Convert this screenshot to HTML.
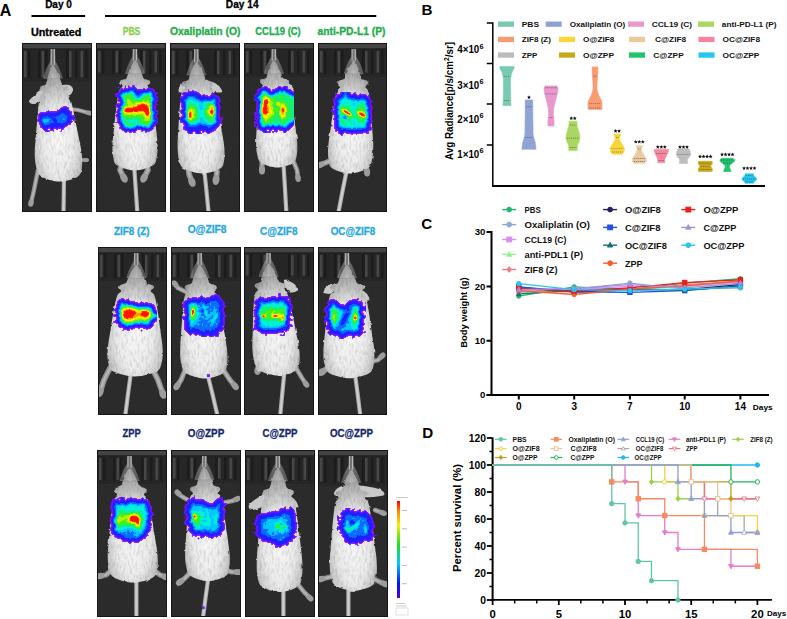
<!DOCTYPE html>
<html><head><meta charset="utf-8"><title>Figure</title>
<style>html,body{margin:0;padding:0;background:#fff;width:787px;height:619px;overflow:hidden}svg{display:block}text{font-family:"Liberation Sans",sans-serif}</style>
</head><body>
<svg width="787" height="619" viewBox="0 0 787 619" font-family='"Liberation Sans", sans-serif'>
<defs>
<filter id="soft" x="-10%" y="-10%" width="120%" height="120%"><feGaussianBlur stdDeviation="0.6"/></filter>
<filter id="hblur" x="-10%" y="-10%" width="120%" height="120%"><feGaussianBlur stdDeviation="0.45"/></filter>
<filter id="furf" x="0" y="0" width="100%" height="100%">
  <feTurbulence type="fractalNoise" baseFrequency="0.5 0.16" numOctaves="2" seed="7" result="n"/>
  <feGaussianBlur in="n" stdDeviation="0.4" result="nb"/>
  <feColorMatrix in="nb" type="matrix" values="0 0 0 0 0  0 0 0 0 0  0 0 0 0 0  2.2 0 0 0 -0.95" result="a"/>
  <feComposite in="a" in2="SourceAlpha" operator="in"/>
</filter>
<filter id="bgn" x="0" y="0" width="100%" height="100%">
  <feTurbulence type="fractalNoise" baseFrequency="0.9" numOctaves="1" seed="11" result="n"/>
  <feColorMatrix in="n" type="matrix" values="0 0 0 0 0  0 0 0 0 0  0 0 0 0 0  0.5 0 0 0 -0.2"/>
</filter>
<filter id="bodyf" x="-8%" y="-5%" width="116%" height="110%">
  <feTurbulence type="fractalNoise" baseFrequency="0.18" numOctaves="2" seed="3" result="t"/>
  <feDisplacementMap in="SourceGraphic" in2="t" scale="2.6" xChannelSelector="R" yChannelSelector="G" result="d"/>
  <feGaussianBlur in="d" stdDeviation="0.5"/>
</filter>
<radialGradient id="bodyg" cx="50%" cy="62%" r="60%">
  <stop offset="0" stop-color="#f8f8f8"/><stop offset="0.55" stop-color="#ebebeb"/><stop offset="0.85" stop-color="#c8c8c8"/><stop offset="1" stop-color="#9a9a9a"/>
</radialGradient>
<linearGradient id="bodyv" x1="0" y1="0" x2="0" y2="1">
  <stop offset="0" stop-color="#606060" stop-opacity="0.45"/><stop offset="0.3" stop-color="#808080" stop-opacity="0.15"/><stop offset="0.5" stop-color="#fff" stop-opacity="0"/><stop offset="1" stop-color="#fff" stop-opacity="0"/>
</linearGradient>
<linearGradient id="coneg" x1="0" y1="0" x2="1" y2="0">
  <stop offset="0" stop-color="#8c8c8c"/><stop offset="0.3" stop-color="#b4b4b4"/><stop offset="0.5" stop-color="#d2d2d2"/><stop offset="0.7" stop-color="#b4b4b4"/><stop offset="1" stop-color="#8c8c8c"/>
</linearGradient>
<linearGradient id="cbar" x1="0" y1="1" x2="0" y2="0">
<stop offset="0" stop-color="#4b00d8"/><stop offset="0.15" stop-color="#0010ff"/><stop offset="0.35" stop-color="#00c8ff"/>
<stop offset="0.55" stop-color="#20e020"/><stop offset="0.75" stop-color="#f0f000"/><stop offset="0.9" stop-color="#ff8000"/><stop offset="1" stop-color="#ff0000"/></linearGradient></defs>
<rect width="787" height="619" fill="#fff"/>
<text x="5.40" y="15.96" font-size="16" fill="#000" text-anchor="middle" font-weight="bold" >A</text>
<text x="58.50" y="8.40" font-size="10" fill="#000" text-anchor="middle" font-weight="bold" textLength="26.7" lengthAdjust="spacingAndGlyphs"  stroke="#000" stroke-width="0.3">Day 0</text>
<line x1="31.5" y1="16" x2="85.1" y2="16" stroke="#000" stroke-width="2" />
<text x="242.20" y="8.40" font-size="10" fill="#000" text-anchor="middle" font-weight="bold" textLength="32.7" lengthAdjust="spacingAndGlyphs"  stroke="#000" stroke-width="0.3">Day 14</text>
<line x1="105" y1="16" x2="376.3" y2="16" stroke="#000" stroke-width="2" />
<text x="56.20" y="35.68" font-size="10.5" fill="#000" text-anchor="middle" font-weight="bold" textLength="50.5" lengthAdjust="spacingAndGlyphs"  stroke="#000" stroke-width="0.3">Untreated</text>
<text x="131.50" y="34.90" font-size="10" fill="#8ccf4f" text-anchor="middle" font-weight="bold" textLength="17.7" lengthAdjust="spacingAndGlyphs"  stroke="#8ccf4f" stroke-width="0.3">PBS</text>
<text x="205.20" y="34.90" font-size="10" fill="#22ad4c" text-anchor="middle" font-weight="bold" textLength="70.5" lengthAdjust="spacingAndGlyphs"  stroke="#22ad4c" stroke-width="0.3">Oxaliplatin (O)</text>
<text x="278.00" y="34.90" font-size="10" fill="#22ad4c" text-anchor="middle" font-weight="bold" textLength="45.3" lengthAdjust="spacingAndGlyphs"  stroke="#22ad4c" stroke-width="0.3">CCL19 (C)</text>
<text x="351.50" y="34.90" font-size="10" fill="#22ad4c" text-anchor="middle" font-weight="bold" textLength="67.8" lengthAdjust="spacingAndGlyphs"  stroke="#22ad4c" stroke-width="0.3">anti-PD-L1 (P)</text>
<text x="131.80" y="235.10" font-size="10" fill="#2aa8e2" text-anchor="middle" font-weight="bold" textLength="35.5" lengthAdjust="spacingAndGlyphs"  stroke="#2aa8e2" stroke-width="0.3">ZIF8 (Z)</text>
<text x="207.10" y="232.90" font-size="10" fill="#2aa8e2" text-anchor="middle" font-weight="bold" textLength="38.9" lengthAdjust="spacingAndGlyphs"  stroke="#2aa8e2" stroke-width="0.3">O@ZIF8</text>
<text x="278.80" y="234.60" font-size="10" fill="#2aa8e2" text-anchor="middle" font-weight="bold" textLength="37.4" lengthAdjust="spacingAndGlyphs"  stroke="#2aa8e2" stroke-width="0.3">C@ZIF8</text>
<text x="353.00" y="234.60" font-size="10" fill="#2aa8e2" text-anchor="middle" font-weight="bold" textLength="44.6" lengthAdjust="spacingAndGlyphs"  stroke="#2aa8e2" stroke-width="0.3">OC@ZIF8</text>
<text x="131.60" y="436.92" font-size="10.6" fill="#14286e" text-anchor="middle" font-weight="bold" textLength="18.2" lengthAdjust="spacingAndGlyphs"  stroke="#14286e" stroke-width="0.3">ZPP</text>
<text x="206.00" y="436.92" font-size="10.6" fill="#14286e" text-anchor="middle" font-weight="bold" textLength="36.5" lengthAdjust="spacingAndGlyphs"  stroke="#14286e" stroke-width="0.3">O@ZPP</text>
<text x="280.00" y="436.92" font-size="10.6" fill="#14286e" text-anchor="middle" font-weight="bold" textLength="35" lengthAdjust="spacingAndGlyphs"  stroke="#14286e" stroke-width="0.3">C@ZPP</text>
<text x="351.50" y="436.92" font-size="10.6" fill="#14286e" text-anchor="middle" font-weight="bold" textLength="43" lengthAdjust="spacingAndGlyphs"  stroke="#14286e" stroke-width="0.3">OC@ZPP</text>
<clipPath id="c22_43"><rect x="22" y="43" width="70" height="169"/></clipPath>
<g clip-path="url(#c22_43)">
<rect x="22" y="43" width="70" height="169" fill="#2d2d2d"/>
<rect x="22" y="43" width="70" height="169" fill="#000" filter="url(#bgn)" opacity="0.6"/>
<rect x="22" y="43" width="70" height="38.3" fill="#262626"/>
<rect x="22" y="44" width="70" height="4.5" fill="#444444"/>
<rect x="22" y="48.5" width="70" height="1" fill="#1e1e1e"/>
<g filter="url(#soft)"><rect x="24" y="51" width="2.6" height="26.299999999999997" fill="#474747"/><rect x="41.5" y="51" width="2.6" height="26.299999999999997" fill="#474747"/><rect x="69" y="51" width="2.6" height="26.299999999999997" fill="#474747"/><rect x="80.5" y="51" width="2.6" height="26.299999999999997" fill="#474747"/><rect x="28" y="50" width="2.4" height="28.299999999999997" fill="#1a1a1a"/><rect x="38" y="50" width="2.4" height="28.299999999999997" fill="#1a1a1a"/><rect x="45" y="50" width="2.4" height="28.299999999999997" fill="#1a1a1a"/><rect x="66" y="50" width="2.4" height="28.299999999999997" fill="#1a1a1a"/><rect x="75" y="50" width="2.4" height="28.299999999999997" fill="#1a1a1a"/><rect x="85" y="50" width="2.4" height="28.299999999999997" fill="#1a1a1a"/></g>
<path d="M62.0,108.0 L78.0,110.0 L89.0,113.0" fill="none" stroke="#8e8e8e" stroke-width="4.02" stroke-linecap="round" stroke-linejoin="round"/>
<path d="M62.0,108.0 L78.0,110.0 L89.0,113.0" fill="none" stroke="#b4b4b4" stroke-width="1.93" stroke-linecap="round" stroke-linejoin="round"/>
<ellipse cx="89.0" cy="113.0" rx="3.5" ry="2.4" fill="#9c9c9c" transform="rotate(15 89.0 113.0)"/>
<path d="M38.0,170.0 L34.0,190.0 L31.0,203.0" fill="none" stroke="#8e8e8e" stroke-width="4.37" stroke-linecap="round" stroke-linejoin="round"/>
<path d="M38.0,170.0 L34.0,190.0 L31.0,203.0" fill="none" stroke="#b4b4b4" stroke-width="2.09" stroke-linecap="round" stroke-linejoin="round"/>
<ellipse cx="31.0" cy="203.0" rx="3.8" ry="2.7" fill="#9c9c9c" transform="rotate(103 31.0 203.0)"/>
<path d="M78.0,160.0 L86.0,160.0" fill="none" stroke="#8e8e8e" stroke-width="3.45" stroke-linecap="round" stroke-linejoin="round"/>
<path d="M78.0,160.0 L86.0,160.0" fill="none" stroke="#b4b4b4" stroke-width="1.65" stroke-linecap="round" stroke-linejoin="round"/>
<ellipse cx="86.0" cy="160.0" rx="3.0" ry="2.1" fill="#9c9c9c" transform="rotate(0 86.0 160.0)"/>
<path d="M64.0,178.0 Q63.8,195.0 63.5,215.0" fill="none" stroke="#a8a8a8" stroke-width="4.2" stroke-linecap="round"/>
<path d="M64.0,178.0 Q63.8,195.0 63.5,215.0" fill="none" stroke="#cdcdcd" stroke-width="2.2" stroke-linecap="round"/>
<path d="M42.0,90.0 C40.2,89.8 36.2,94.2 34.0,96.0 C31.8,97.8 29.2,99.7 29.0,101.0 C28.8,102.3 31.2,104.0 33.0,104.0 C34.8,104.0 38.0,102.2 40.0,101.0 C42.0,99.8 44.7,98.8 45.0,97.0 C45.3,95.2 43.8,90.2 42.0,90.0 Z" fill="#c8c8c8" filter="url(#bodyf)"/>
<path d="M62.0,86.0 C62.8,84.5 67.2,84.5 69.0,85.0 C70.8,85.5 72.8,87.3 73.0,89.0 C73.2,90.7 71.5,94.2 70.0,95.0 C68.5,95.8 65.3,95.5 64.0,94.0 C62.7,92.5 61.2,87.5 62.0,86.0 Z" fill="#c8c8c8" filter="url(#bodyf)"/>
<g filter="url(#bodyf)"><path d="M52.9,65.3 C53.6,65.3 54.5,67.2 55.3,68.8 C56.2,70.3 57.4,72.6 58.2,74.6 C59.1,76.5 59.8,78.7 60.5,80.3 C61.2,82.0 61.2,83.4 62.3,84.4 C63.4,85.4 66.1,85.4 67.1,86.1 C68.1,86.9 68.7,88.0 68.6,89.0 C68.4,90.1 66.1,91.0 66.3,92.5 C66.5,93.9 68.7,94.1 70.0,97.7 C71.3,101.3 72.6,107.7 74.0,113.9 C75.3,120.1 76.9,128.2 78.2,134.7 C79.5,141.3 81.1,147.8 81.7,153.2 C82.3,158.6 82.5,163.3 81.9,167.1 C81.2,171.0 81.6,174.0 78.0,176.4 C74.3,178.8 66.0,181.5 59.9,181.5 C53.8,181.5 45.2,178.8 41.3,176.4 C37.4,174.0 37.4,171.0 36.3,167.1 C35.2,163.3 34.8,158.6 34.7,153.2 C34.7,147.8 35.5,141.3 36.0,134.7 C36.5,128.2 37.1,120.1 37.7,113.9 C38.3,107.7 38.9,101.3 39.7,97.7 C40.6,94.1 42.7,93.9 42.8,92.5 C42.8,91.0 40.4,90.1 40.1,89.0 C39.8,88.0 40.3,86.9 41.2,86.1 C42.2,85.4 44.8,85.4 45.8,84.4 C46.8,83.4 46.6,82.0 47.1,80.3 C47.6,78.7 48.1,76.5 48.7,74.6 C49.3,72.6 50.2,70.3 50.9,68.8 C51.6,67.2 52.2,65.3 52.9,65.3 Z" fill="url(#bodyg)"/><path d="M52.9,65.3 C53.6,65.3 54.5,67.2 55.3,68.8 C56.2,70.3 57.4,72.6 58.2,74.6 C59.1,76.5 59.8,78.7 60.5,80.3 C61.2,82.0 61.2,83.4 62.3,84.4 C63.4,85.4 66.1,85.4 67.1,86.1 C68.1,86.9 68.7,88.0 68.6,89.0 C68.4,90.1 66.1,91.0 66.3,92.5 C66.5,93.9 68.7,94.1 70.0,97.7 C71.3,101.3 72.6,107.7 74.0,113.9 C75.3,120.1 76.9,128.2 78.2,134.7 C79.5,141.3 81.1,147.8 81.7,153.2 C82.3,158.6 82.5,163.3 81.9,167.1 C81.2,171.0 81.6,174.0 78.0,176.4 C74.3,178.8 66.0,181.5 59.9,181.5 C53.8,181.5 45.2,178.8 41.3,176.4 C37.4,174.0 37.4,171.0 36.3,167.1 C35.2,163.3 34.8,158.6 34.7,153.2 C34.7,147.8 35.5,141.3 36.0,134.7 C36.5,128.2 37.1,120.1 37.7,113.9 C38.3,107.7 38.9,101.3 39.7,97.7 C40.6,94.1 42.7,93.9 42.8,92.5 C42.8,91.0 40.4,90.1 40.1,89.0 C39.8,88.0 40.3,86.9 41.2,86.1 C42.2,85.4 44.8,85.4 45.8,84.4 C46.8,83.4 46.6,82.0 47.1,80.3 C47.6,78.7 48.1,76.5 48.7,74.6 C49.3,72.6 50.2,70.3 50.9,68.8 C51.6,67.2 52.2,65.3 52.9,65.3 Z" fill="url(#bodyv)"/></g>
<path d="M52.9,65.3 C53.6,65.3 54.5,67.2 55.3,68.8 C56.2,70.3 57.4,72.6 58.2,74.6 C59.1,76.5 59.8,78.7 60.5,80.3 C61.2,82.0 61.2,83.4 62.3,84.4 C63.4,85.4 66.1,85.4 67.1,86.1 C68.1,86.9 68.7,88.0 68.6,89.0 C68.4,90.1 66.1,91.0 66.3,92.5 C66.5,93.9 68.7,94.1 70.0,97.7 C71.3,101.3 72.6,107.7 74.0,113.9 C75.3,120.1 76.9,128.2 78.2,134.7 C79.5,141.3 81.1,147.8 81.7,153.2 C82.3,158.6 82.5,163.3 81.9,167.1 C81.2,171.0 81.6,174.0 78.0,176.4 C74.3,178.8 66.0,181.5 59.9,181.5 C53.8,181.5 45.2,178.8 41.3,176.4 C37.4,174.0 37.4,171.0 36.3,167.1 C35.2,163.3 34.8,158.6 34.7,153.2 C34.7,147.8 35.5,141.3 36.0,134.7 C36.5,128.2 37.1,120.1 37.7,113.9 C38.3,107.7 38.9,101.3 39.7,97.7 C40.6,94.1 42.7,93.9 42.8,92.5 C42.8,91.0 40.4,90.1 40.1,89.0 C39.8,88.0 40.3,86.9 41.2,86.1 C42.2,85.4 44.8,85.4 45.8,84.4 C46.8,83.4 46.6,82.0 47.1,80.3 C47.6,78.7 48.1,76.5 48.7,74.6 C49.3,72.6 50.2,70.3 50.9,68.8 C51.6,67.2 52.2,65.3 52.9,65.3 Z" fill="#000" filter="url(#furf)" opacity="0.13"/>
<path d="M50.7,49 L55.1,49 L55.5,61.3 C57.9,65.3 61.4,72.3 62.9,78.3 Q52.9,79.8 42.9,78.3 C44.4,72.3 47.9,65.3 50.3,61.3 Z" fill="url(#coneg)" opacity="0.45"/>
<rect x="50.7" y="49" width="1.1" height="16.3" fill="#bdbdbd" opacity="0.85"/>
<rect x="53.8" y="49" width="1.1" height="16.3" fill="#c8c8c8" opacity="0.85"/>
<path d="M43.4,77.8 Q52.9,79.8 62.4,77.8" fill="none" stroke="#8a8a8a" stroke-width="0.7" opacity="0.7"/>
<g filter="url(#hblur)"><path d="M63.5,106.5 62.5,107.5 61.5,107.5 58.5,110.5 57.5,109.5 57.5,110.5 56.5,111.5 49.5,111.5 48.5,110.5 47.5,111.5 46.5,111.5 45.5,112.5 40.5,112.5 38.5,114.5 38.5,118.5 37.5,119.5 37.5,121.5 38.5,121.5 39.5,122.5 39.5,124.5 40.5,125.5 40.5,127.5 41.5,127.5 45.5,131.5 49.5,131.5 50.5,130.5 52.5,130.5 53.5,131.5 53.5,129.5 54.5,128.5 55.5,128.5 56.5,129.5 57.5,129.5 58.5,128.5 60.5,128.5 61.5,129.5 61.5,130.5 60.5,131.5 61.5,131.5 61.5,130.5 62.5,129.5 63.5,129.5 63.5,128.5 65.5,126.5 66.5,126.5 68.5,124.5 70.5,124.5 70.5,123.5 73.5,120.5 74.5,120.5 74.5,115.5 72.5,115.5 71.5,114.5 71.5,111.5 70.5,111.5 68.5,109.5 68.5,107.5 67.5,107.5 66.5,106.5zM47.5,129.5 48.5,128.5 49.5,128.5 50.5,129.5 49.5,130.5 48.5,130.5zM71.5,120.5 72.5,119.5 73.5,120.5 72.5,121.5z" fill="#7410ff" stroke="#7410ff" stroke-width="0.8" stroke-linejoin="round" fill-rule="evenodd"/><path d="M63.5,108.5 62.5,109.5 61.5,109.5 58.5,112.5 57.5,112.5 56.5,113.5 49.5,113.5 48.5,112.5 47.5,113.5 46.5,113.5 45.5,114.5 40.5,114.5 40.5,118.5 39.5,119.5 39.5,120.5 41.5,122.5 41.5,124.5 42.5,125.5 42.5,126.5 47.5,131.5 45.5,129.5 48.5,126.5 49.5,126.5 51.5,128.5 52.5,128.5 54.5,126.5 55.5,126.5 56.5,127.5 57.5,127.5 58.5,126.5 60.5,126.5 61.5,127.5 62.5,127.5 65.5,124.5 66.5,124.5 68.5,122.5 69.5,122.5 70.5,121.5 69.5,120.5 72.5,117.5 73.5,118.5 74.5,118.5 74.5,117.5 72.5,117.5 69.5,114.5 69.5,112.5 66.5,109.5 66.5,108.5z" fill="#1c22ff" stroke="#1c22ff" stroke-width="0.8" stroke-linejoin="round" fill-rule="evenodd"/><path d="M46.5,116.5 45.5,117.5 43.5,117.5 41.5,119.5 41.5,120.5 42.5,121.5 42.5,122.5 45.5,125.5 46.5,124.5 48.5,124.5 49.5,123.5 50.5,123.5 51.5,122.5 53.5,122.5 53.5,121.5 51.5,119.5 51.5,118.5 50.5,118.5 49.5,117.5 48.5,117.5 47.5,116.5zM61.5,113.5 59.5,115.5 58.5,115.5 57.5,116.5 56.5,116.5 55.5,117.5 53.5,117.5 52.5,116.5 53.5,117.5 55.5,117.5 56.5,118.5 56.5,119.5 57.5,120.5 57.5,122.5 60.5,122.5 61.5,123.5 62.5,123.5 63.5,122.5 64.5,122.5 66.5,120.5 66.5,118.5 67.5,117.5 66.5,116.5 66.5,115.5 65.5,115.5 63.5,113.5z" fill="#0a6cff" stroke="#0a6cff" stroke-width="0.8" stroke-linejoin="round" fill-rule="evenodd"/><path d="M43.5,119.5 43.5,121.5 44.5,122.5 46.5,122.5 47.5,121.5 48.5,121.5 48.5,120.5 49.5,119.5zM63.5,118.5 63.5,119.5 64.5,119.5z" fill="#00c8ff" stroke="#00c8ff" stroke-width="0.8" stroke-linejoin="round" fill-rule="evenodd"/></g>
<rect x="22.5" y="43.5" width="69" height="168" fill="none" stroke="#151515" stroke-width="1"/>
</g>
<clipPath id="c96_43"><rect x="96" y="43" width="70" height="169"/></clipPath>
<g clip-path="url(#c96_43)">
<rect x="96" y="43" width="70" height="169" fill="#2d2d2d"/>
<rect x="96" y="43" width="70" height="169" fill="#000" filter="url(#bgn)" opacity="0.6"/>
<rect x="96" y="43" width="70" height="33.599999999999994" fill="#262626"/>
<rect x="96" y="44" width="70" height="4.5" fill="#444444"/>
<rect x="96" y="48.5" width="70" height="1" fill="#1e1e1e"/>
<g filter="url(#soft)"><rect x="98" y="51" width="2.6" height="21.599999999999994" fill="#474747"/><rect x="115.5" y="51" width="2.6" height="21.599999999999994" fill="#474747"/><rect x="143" y="51" width="2.6" height="21.599999999999994" fill="#474747"/><rect x="154.5" y="51" width="2.6" height="21.599999999999994" fill="#474747"/><rect x="102" y="50" width="2.4" height="23.599999999999994" fill="#1a1a1a"/><rect x="112" y="50" width="2.4" height="23.599999999999994" fill="#1a1a1a"/><rect x="119" y="50" width="2.4" height="23.599999999999994" fill="#1a1a1a"/><rect x="140" y="50" width="2.4" height="23.599999999999994" fill="#1a1a1a"/><rect x="149" y="50" width="2.4" height="23.599999999999994" fill="#1a1a1a"/><rect x="159" y="50" width="2.4" height="23.599999999999994" fill="#1a1a1a"/></g>
<path d="M123.0,160.0 L120.0,170.0 L124.0,178.0" fill="none" stroke="#8e8e8e" stroke-width="5.75" stroke-linecap="round" stroke-linejoin="round"/>
<path d="M123.0,160.0 L120.0,170.0 L124.0,178.0" fill="none" stroke="#b4b4b4" stroke-width="2.75" stroke-linecap="round" stroke-linejoin="round"/>
<ellipse cx="124.0" cy="178.0" rx="5.0" ry="3.5" fill="#9c9c9c" transform="rotate(63 124.0 178.0)"/>
<path d="M146.0,160.0 L148.0,170.0 L144.0,178.0" fill="none" stroke="#8e8e8e" stroke-width="5.75" stroke-linecap="round" stroke-linejoin="round"/>
<path d="M146.0,160.0 L148.0,170.0 L144.0,178.0" fill="none" stroke="#b4b4b4" stroke-width="2.75" stroke-linecap="round" stroke-linejoin="round"/>
<ellipse cx="144.0" cy="178.0" rx="5.0" ry="3.5" fill="#9c9c9c" transform="rotate(117 144.0 178.0)"/>
<path d="M134.3,168.0 Q135.9,190.0 137.5,215.0" fill="none" stroke="#a8a8a8" stroke-width="4.2" stroke-linecap="round"/>
<path d="M134.3,168.0 Q135.9,190.0 137.5,215.0" fill="none" stroke="#cdcdcd" stroke-width="2.2" stroke-linecap="round"/>
<g filter="url(#bodyf)"><path d="M135.0,60.6 C135.8,60.6 136.6,62.4 137.5,63.9 C138.4,65.3 139.5,67.5 140.3,69.4 C141.1,71.2 141.7,73.3 142.3,74.8 C142.9,76.4 142.8,77.7 143.9,78.7 C145.1,79.6 147.9,79.6 149.0,80.3 C150.0,81.0 150.5,82.0 150.2,83.0 C150.0,84.0 147.4,84.9 147.5,86.3 C147.6,87.7 149.9,87.9 150.9,91.2 C151.9,94.6 152.7,100.7 153.5,106.5 C154.3,112.4 155.1,120.0 155.7,126.2 C156.4,132.4 157.3,138.6 157.5,143.7 C157.7,148.8 157.6,153.2 156.8,156.9 C156.0,160.5 156.2,163.4 152.6,165.6 C148.9,167.9 140.8,170.5 135.0,170.5 C129.2,170.5 121.1,167.9 117.5,165.6 C113.8,163.4 114.0,160.5 113.2,156.9 C112.3,153.2 112.3,148.8 112.5,143.7 C112.7,138.6 113.6,132.4 114.3,126.2 C114.9,120.0 115.7,112.4 116.5,106.5 C117.3,100.7 118.1,94.6 119.1,91.2 C120.1,87.9 122.4,87.7 122.5,86.3 C122.6,84.9 120.0,84.0 119.8,83.0 C119.5,82.0 120.0,81.0 121.0,80.3 C122.1,79.6 124.9,79.6 126.1,78.7 C127.2,77.7 127.1,76.4 127.7,74.8 C128.3,73.3 128.9,71.2 129.7,69.4 C130.5,67.5 131.6,65.3 132.5,63.9 C133.4,62.4 134.2,60.6 135.0,60.6 Z" fill="url(#bodyg)"/><path d="M135.0,60.6 C135.8,60.6 136.6,62.4 137.5,63.9 C138.4,65.3 139.5,67.5 140.3,69.4 C141.1,71.2 141.7,73.3 142.3,74.8 C142.9,76.4 142.8,77.7 143.9,78.7 C145.1,79.6 147.9,79.6 149.0,80.3 C150.0,81.0 150.5,82.0 150.2,83.0 C150.0,84.0 147.4,84.9 147.5,86.3 C147.6,87.7 149.9,87.9 150.9,91.2 C151.9,94.6 152.7,100.7 153.5,106.5 C154.3,112.4 155.1,120.0 155.7,126.2 C156.4,132.4 157.3,138.6 157.5,143.7 C157.7,148.8 157.6,153.2 156.8,156.9 C156.0,160.5 156.2,163.4 152.6,165.6 C148.9,167.9 140.8,170.5 135.0,170.5 C129.2,170.5 121.1,167.9 117.5,165.6 C113.8,163.4 114.0,160.5 113.2,156.9 C112.3,153.2 112.3,148.8 112.5,143.7 C112.7,138.6 113.6,132.4 114.3,126.2 C114.9,120.0 115.7,112.4 116.5,106.5 C117.3,100.7 118.1,94.6 119.1,91.2 C120.1,87.9 122.4,87.7 122.5,86.3 C122.6,84.9 120.0,84.0 119.8,83.0 C119.5,82.0 120.0,81.0 121.0,80.3 C122.1,79.6 124.9,79.6 126.1,78.7 C127.2,77.7 127.1,76.4 127.7,74.8 C128.3,73.3 128.9,71.2 129.7,69.4 C130.5,67.5 131.6,65.3 132.5,63.9 C133.4,62.4 134.2,60.6 135.0,60.6 Z" fill="url(#bodyv)"/></g>
<path d="M135.0,60.6 C135.8,60.6 136.6,62.4 137.5,63.9 C138.4,65.3 139.5,67.5 140.3,69.4 C141.1,71.2 141.7,73.3 142.3,74.8 C142.9,76.4 142.8,77.7 143.9,78.7 C145.1,79.6 147.9,79.6 149.0,80.3 C150.0,81.0 150.5,82.0 150.2,83.0 C150.0,84.0 147.4,84.9 147.5,86.3 C147.6,87.7 149.9,87.9 150.9,91.2 C151.9,94.6 152.7,100.7 153.5,106.5 C154.3,112.4 155.1,120.0 155.7,126.2 C156.4,132.4 157.3,138.6 157.5,143.7 C157.7,148.8 157.6,153.2 156.8,156.9 C156.0,160.5 156.2,163.4 152.6,165.6 C148.9,167.9 140.8,170.5 135.0,170.5 C129.2,170.5 121.1,167.9 117.5,165.6 C113.8,163.4 114.0,160.5 113.2,156.9 C112.3,153.2 112.3,148.8 112.5,143.7 C112.7,138.6 113.6,132.4 114.3,126.2 C114.9,120.0 115.7,112.4 116.5,106.5 C117.3,100.7 118.1,94.6 119.1,91.2 C120.1,87.9 122.4,87.7 122.5,86.3 C122.6,84.9 120.0,84.0 119.8,83.0 C119.5,82.0 120.0,81.0 121.0,80.3 C122.1,79.6 124.9,79.6 126.1,78.7 C127.2,77.7 127.1,76.4 127.7,74.8 C128.3,73.3 128.9,71.2 129.7,69.4 C130.5,67.5 131.6,65.3 132.5,63.9 C133.4,62.4 134.2,60.6 135.0,60.6 Z" fill="#000" filter="url(#furf)" opacity="0.13"/>
<path d="M132.8,49 L137.2,49 L137.6,56.6 C140.0,60.6 143.5,67.6 145.0,73.6 Q135.0,75.1 125.0,73.6 C126.5,67.6 130.0,60.6 132.4,56.6 Z" fill="url(#coneg)" opacity="0.45"/>
<rect x="132.8" y="49" width="1.1" height="11.6" fill="#bdbdbd" opacity="0.85"/>
<rect x="135.9" y="49" width="1.1" height="11.6" fill="#c8c8c8" opacity="0.85"/>
<path d="M125.5,73.1 Q135.0,75.1 144.5,73.1" fill="none" stroke="#8a8a8a" stroke-width="0.7" opacity="0.7"/>
<g filter="url(#hblur)"><path d="M118.0,87.0h1v1h-1zM125.5,85.5 125.5,87.5 123.5,89.5 122.5,88.5 120.5,88.5 120.5,89.5 119.5,90.5 119.5,91.5 117.5,93.5 115.5,93.5 115.5,95.5 118.5,98.5 118.5,99.5 117.5,100.5 118.5,101.5 119.5,101.5 120.5,102.5 119.5,103.5 117.5,103.5 115.5,105.5 115.5,106.5 116.5,106.5 118.5,108.5 117.5,109.5 117.5,110.5 116.5,111.5 116.5,112.5 117.5,113.5 115.5,115.5 117.5,117.5 117.5,121.5 116.5,122.5 115.5,122.5 117.5,122.5 119.5,124.5 119.5,125.5 120.5,126.5 119.5,127.5 119.5,128.5 120.5,128.5 122.5,130.5 123.5,130.5 125.5,132.5 126.5,132.5 127.5,131.5 128.5,131.5 129.5,132.5 131.5,132.5 132.5,131.5 133.5,132.5 135.5,132.5 135.5,131.5 137.5,129.5 140.5,129.5 141.5,130.5 141.5,131.5 142.5,131.5 143.5,130.5 144.5,130.5 145.5,131.5 145.5,132.5 146.5,132.5 147.5,131.5 149.5,131.5 150.5,130.5 151.5,130.5 153.5,128.5 153.5,127.5 155.5,125.5 155.5,124.5 157.5,122.5 157.5,118.5 156.5,117.5 156.5,115.5 157.5,114.5 157.5,110.5 156.5,110.5 155.5,109.5 155.5,105.5 156.5,104.5 157.5,104.5 155.5,102.5 156.5,101.5 157.5,101.5 157.5,96.5 156.5,96.5 155.5,95.5 157.5,93.5 157.5,92.5 155.5,92.5 154.5,91.5 154.5,89.5 153.5,89.5 152.5,88.5 150.5,88.5 149.5,87.5 148.5,87.5 146.5,89.5 145.5,89.5 144.5,88.5 143.5,88.5 142.5,89.5 137.5,89.5 134.5,86.5 134.5,85.5 132.5,85.5 132.5,86.5 131.5,87.5 130.5,87.5 128.5,85.5 128.5,87.5 127.5,88.5 126.5,88.5 125.5,87.5z" fill="#7410ff" stroke="#7410ff" stroke-width="0.8" stroke-linejoin="round" fill-rule="evenodd"/><path d="M133.5,87.5 131.5,89.5 130.5,89.5 129.5,88.5 127.5,90.5 126.5,90.5 125.5,89.5 123.5,91.5 122.5,90.5 121.5,90.5 121.5,91.5 117.5,95.5 120.5,98.5 120.5,100.5 122.5,102.5 119.5,105.5 117.5,105.5 120.5,108.5 119.5,109.5 119.5,110.5 118.5,111.5 118.5,112.5 119.5,113.5 117.5,115.5 119.5,117.5 119.5,122.5 121.5,124.5 121.5,125.5 122.5,126.5 121.5,127.5 122.5,128.5 123.5,128.5 125.5,130.5 126.5,130.5 127.5,129.5 128.5,129.5 130.5,131.5 132.5,129.5 133.5,130.5 134.5,130.5 137.5,127.5 140.5,127.5 142.5,129.5 143.5,128.5 144.5,128.5 146.5,130.5 147.5,129.5 149.5,129.5 150.5,128.5 151.5,128.5 151.5,127.5 153.5,125.5 153.5,124.5 157.5,120.5 154.5,117.5 154.5,115.5 157.5,112.5 156.5,112.5 153.5,109.5 153.5,105.5 154.5,104.5 154.5,103.5 153.5,102.5 156.5,99.5 157.5,99.5 157.5,98.5 156.5,98.5 153.5,95.5 154.5,94.5 154.5,93.5 152.5,91.5 152.5,90.5 150.5,90.5 149.5,89.5 148.5,89.5 146.5,91.5 145.5,91.5 144.5,90.5 143.5,90.5 142.5,91.5 137.5,91.5z" fill="#1c22ff" stroke="#1c22ff" stroke-width="0.8" stroke-linejoin="round" fill-rule="evenodd"/><path d="M133.5,89.5 132.5,90.5 129.5,90.5 128.5,91.5 125.5,91.5 124.5,92.5 122.5,92.5 119.5,95.5 121.5,97.5 121.5,99.5 122.5,100.5 122.5,101.5 123.5,102.5 122.5,103.5 122.5,104.5 120.5,106.5 120.5,107.5 121.5,108.5 120.5,109.5 120.5,110.5 119.5,111.5 119.5,112.5 120.5,113.5 120.5,114.5 119.5,115.5 120.5,116.5 120.5,121.5 122.5,123.5 122.5,124.5 123.5,125.5 123.5,127.5 124.5,127.5 125.5,128.5 129.5,128.5 130.5,129.5 131.5,128.5 134.5,128.5 136.5,126.5 141.5,126.5 142.5,127.5 145.5,127.5 146.5,128.5 148.5,128.5 149.5,127.5 150.5,127.5 150.5,126.5 152.5,124.5 152.5,123.5 155.5,120.5 153.5,118.5 153.5,114.5 154.5,113.5 154.5,112.5 152.5,110.5 152.5,101.5 154.5,99.5 154.5,98.5 152.5,96.5 152.5,93.5 151.5,92.5 151.5,91.5 148.5,91.5 147.5,92.5 143.5,92.5 142.5,93.5 140.5,93.5 138.5,95.5 137.5,95.5 133.5,91.5z" fill="#0a6cff" stroke="#0a6cff" stroke-width="0.8" stroke-linejoin="round" fill-rule="evenodd"/><path d="M130.5,91.5 129.5,92.5 128.5,92.5 127.5,93.5 126.5,92.5 125.5,93.5 123.5,93.5 121.5,95.5 121.5,96.5 122.5,97.5 122.5,98.5 123.5,99.5 123.5,101.5 124.5,102.5 123.5,103.5 123.5,105.5 122.5,106.5 121.5,106.5 121.5,107.5 122.5,108.5 121.5,109.5 121.5,110.5 120.5,111.5 120.5,112.5 121.5,113.5 121.5,114.5 120.5,115.5 121.5,116.5 121.5,120.5 122.5,121.5 122.5,122.5 124.5,124.5 124.5,125.5 126.5,127.5 127.5,126.5 128.5,127.5 129.5,127.5 130.5,128.5 131.5,127.5 133.5,127.5 134.5,126.5 135.5,126.5 137.5,124.5 138.5,125.5 141.5,125.5 142.5,126.5 143.5,126.5 144.5,125.5 145.5,126.5 146.5,126.5 147.5,127.5 148.5,127.5 149.5,126.5 149.5,125.5 151.5,123.5 151.5,122.5 153.5,120.5 152.5,119.5 152.5,114.5 153.5,113.5 152.5,112.5 152.5,111.5 151.5,110.5 151.5,101.5 152.5,100.5 152.5,97.5 151.5,96.5 151.5,93.5 150.5,92.5 149.5,92.5 148.5,93.5 143.5,93.5 139.5,97.5 137.5,97.5 134.5,94.5 134.5,93.5 132.5,91.5z" fill="#00c8ff" stroke="#00c8ff" stroke-width="0.8" stroke-linejoin="round" fill-rule="evenodd"/><path d="M130.5,92.5 129.5,93.5 125.5,93.5 124.5,94.5 123.5,94.5 122.5,95.5 122.5,96.5 123.5,97.5 123.5,98.5 124.5,99.5 124.5,104.5 122.5,106.5 122.5,109.5 121.5,110.5 121.5,112.5 122.5,113.5 121.5,114.5 121.5,115.5 122.5,116.5 122.5,119.5 123.5,120.5 123.5,122.5 124.5,123.5 124.5,124.5 126.5,126.5 129.5,126.5 130.5,127.5 131.5,126.5 132.5,126.5 133.5,125.5 135.5,125.5 136.5,124.5 141.5,124.5 142.5,125.5 146.5,125.5 147.5,126.5 148.5,125.5 149.5,125.5 149.5,123.5 151.5,121.5 151.5,114.5 152.5,113.5 151.5,112.5 151.5,110.5 150.5,109.5 151.5,108.5 151.5,106.5 150.5,105.5 151.5,104.5 151.5,103.5 150.5,102.5 151.5,101.5 151.5,97.5 150.5,96.5 150.5,93.5 148.5,93.5 147.5,94.5 143.5,94.5 143.5,95.5 142.5,96.5 141.5,96.5 139.5,98.5 136.5,98.5 134.5,96.5 134.5,95.5 132.5,93.5 132.5,92.5z" fill="#00f0d8" stroke="#00f0d8" stroke-width="0.8" stroke-linejoin="round" fill-rule="evenodd"/><path d="M129.5,93.5 128.5,94.5 125.5,94.5 124.5,95.5 123.5,95.5 123.5,96.5 124.5,97.5 124.5,99.5 125.5,100.5 125.5,104.5 122.5,107.5 123.5,108.5 122.5,109.5 122.5,116.5 123.5,117.5 123.5,120.5 124.5,121.5 124.5,122.5 126.5,124.5 126.5,125.5 129.5,125.5 130.5,126.5 132.5,124.5 135.5,124.5 136.5,123.5 128.5,123.5 127.5,122.5 130.5,119.5 131.5,119.5 132.5,118.5 134.5,118.5 135.5,119.5 136.5,119.5 138.5,121.5 138.5,123.5 141.5,123.5 142.5,124.5 145.5,124.5 146.5,125.5 148.5,125.5 148.5,124.5 149.5,123.5 149.5,122.5 151.5,120.5 151.5,118.5 150.5,117.5 151.5,116.5 150.5,115.5 151.5,114.5 151.5,111.5 150.5,110.5 150.5,100.5 151.5,99.5 150.5,98.5 150.5,97.5 149.5,96.5 149.5,94.5 147.5,94.5 146.5,95.5 144.5,95.5 142.5,97.5 141.5,97.5 141.5,98.5 139.5,100.5 138.5,100.5 137.5,99.5 135.5,99.5 134.5,98.5 134.5,97.5 133.5,96.5 133.5,95.5 132.5,94.5 130.5,94.5z" fill="#18f070" stroke="#18f070" stroke-width="0.8" stroke-linejoin="round" fill-rule="evenodd"/><path d="M129.0,124.0h1v1h-1zM126.5,95.5 125.5,96.5 124.5,96.5 125.5,97.5 125.5,99.5 126.5,100.5 126.5,103.5 125.5,104.5 125.5,105.5 123.5,107.5 123.5,109.5 122.5,110.5 122.5,112.5 123.5,113.5 123.5,116.5 127.5,116.5 128.5,117.5 131.5,117.5 132.5,116.5 134.5,116.5 135.5,117.5 135.5,118.5 137.5,116.5 138.5,116.5 141.5,119.5 141.5,121.5 142.5,122.5 142.5,123.5 145.5,123.5 146.5,124.5 147.5,124.5 148.5,123.5 148.5,122.5 150.5,120.5 150.5,114.5 151.5,113.5 150.5,112.5 150.5,107.5 149.5,106.5 149.5,105.5 150.5,104.5 150.5,103.5 149.5,102.5 149.5,97.5 148.5,96.5 148.5,95.5 147.5,95.5 145.5,97.5 144.5,97.5 142.5,99.5 141.5,99.5 139.5,101.5 138.5,101.5 137.5,100.5 133.5,100.5 132.5,99.5 132.5,98.5 133.5,97.5 132.5,98.5 131.5,98.5 130.5,97.5 131.5,96.5 131.5,95.5zM126.5,97.5 127.5,96.5 128.5,97.5 127.5,98.5z" fill="#40f020" stroke="#40f020" stroke-width="0.8" stroke-linejoin="round" fill-rule="evenodd"/><path d="M127.5,99.5 127.5,103.5 128.5,104.5 128.5,105.5 127.5,106.5 126.5,105.5 124.5,107.5 124.5,108.5 123.5,109.5 123.5,112.5 124.5,113.5 124.5,114.5 128.5,114.5 129.5,115.5 130.5,114.5 132.5,114.5 133.5,115.5 135.5,115.5 136.5,114.5 142.5,114.5 143.5,115.5 143.5,116.5 145.5,118.5 144.5,119.5 144.5,120.5 149.5,120.5 149.5,115.5 150.5,114.5 150.5,112.5 149.5,111.5 149.5,103.5 148.5,102.5 148.5,101.5 147.5,100.5 145.5,102.5 143.5,100.5 141.5,102.5 138.5,102.5 137.5,101.5 136.5,102.5 135.5,102.5 133.5,104.5 128.5,99.5z" fill="#b8f000" stroke="#b8f000" stroke-width="0.8" stroke-linejoin="round" fill-rule="evenodd"/><path d="M141.5,102.5 140.5,103.5 136.5,103.5 136.5,104.5 135.5,105.5 134.5,105.5 133.5,106.5 128.5,106.5 127.5,107.5 125.5,107.5 124.5,108.5 124.5,110.5 123.5,111.5 124.5,112.5 126.5,112.5 127.5,113.5 130.5,113.5 131.5,112.5 134.5,112.5 135.5,113.5 137.5,113.5 138.5,112.5 143.5,112.5 144.5,113.5 144.5,114.5 145.5,115.5 145.5,116.5 146.5,117.5 148.5,117.5 149.5,116.5 149.5,114.5 150.5,113.5 149.5,112.5 149.5,107.5 148.5,106.5 148.5,103.5 147.5,104.5 146.5,103.5 145.5,103.5 144.5,102.5z" fill="#fff000" stroke="#fff000" stroke-width="0.8" stroke-linejoin="round" fill-rule="evenodd"/><path d="M141.5,103.5 140.5,104.5 137.5,104.5 137.5,105.5 136.5,106.5 133.5,106.5 132.5,107.5 127.5,107.5 126.5,108.5 125.5,108.5 124.5,109.5 124.5,111.5 125.5,111.5 126.5,112.5 131.5,112.5 132.5,111.5 136.5,111.5 137.5,112.5 138.5,111.5 143.5,111.5 145.5,113.5 145.5,114.5 147.5,116.5 148.5,116.5 148.5,114.5 149.5,113.5 149.5,112.5 148.5,111.5 148.5,106.5 146.5,104.5 144.5,104.5 143.5,103.5z" fill="#ff9800" stroke="#ff9800" stroke-width="0.8" stroke-linejoin="round" fill-rule="evenodd"/><path d="M141.5,104.5 140.5,105.5 138.5,105.5 136.5,107.5 133.5,107.5 132.5,108.5 126.5,108.5 125.5,109.5 125.5,111.5 132.5,111.5 133.5,110.5 134.5,111.5 137.5,111.5 138.5,110.5 143.5,110.5 145.5,112.5 145.5,113.5 147.5,115.5 148.5,114.5 148.5,108.5 147.5,107.5 147.5,106.5 146.5,105.5 145.5,105.5 144.5,104.5z" fill="#ff1400" stroke="#ff1400" stroke-width="0.8" stroke-linejoin="round" fill-rule="evenodd"/></g>
<rect x="96.5" y="43.5" width="69" height="168" fill="none" stroke="#151515" stroke-width="1"/>
</g>
<clipPath id="c170_43"><rect x="170" y="43" width="70" height="169"/></clipPath>
<g clip-path="url(#c170_43)">
<rect x="170" y="43" width="70" height="169" fill="#2d2d2d"/>
<rect x="170" y="43" width="70" height="169" fill="#000" filter="url(#bgn)" opacity="0.6"/>
<rect x="170" y="43" width="70" height="35" fill="#262626"/>
<rect x="170" y="44" width="70" height="4.5" fill="#444444"/>
<rect x="170" y="48.5" width="70" height="1" fill="#1e1e1e"/>
<g filter="url(#soft)"><rect x="172" y="51" width="2.6" height="23" fill="#474747"/><rect x="189.5" y="51" width="2.6" height="23" fill="#474747"/><rect x="217" y="51" width="2.6" height="23" fill="#474747"/><rect x="228.5" y="51" width="2.6" height="23" fill="#474747"/><rect x="176" y="50" width="2.4" height="25" fill="#1a1a1a"/><rect x="186" y="50" width="2.4" height="25" fill="#1a1a1a"/><rect x="193" y="50" width="2.4" height="25" fill="#1a1a1a"/><rect x="214" y="50" width="2.4" height="25" fill="#1a1a1a"/><rect x="223" y="50" width="2.4" height="25" fill="#1a1a1a"/><rect x="233" y="50" width="2.4" height="25" fill="#1a1a1a"/></g>
<path d="M188.0,165.0 L189.0,174.0 L192.0,182.0" fill="none" stroke="#8e8e8e" stroke-width="5.75" stroke-linecap="round" stroke-linejoin="round"/>
<path d="M188.0,165.0 L189.0,174.0 L192.0,182.0" fill="none" stroke="#b4b4b4" stroke-width="2.75" stroke-linecap="round" stroke-linejoin="round"/>
<ellipse cx="192.0" cy="182.0" rx="5.0" ry="3.5" fill="#9c9c9c" transform="rotate(69 192.0 182.0)"/>
<path d="M214.0,163.0 L217.0,172.0 L216.0,180.0" fill="none" stroke="#8e8e8e" stroke-width="5.75" stroke-linecap="round" stroke-linejoin="round"/>
<path d="M214.0,163.0 L217.0,172.0 L216.0,180.0" fill="none" stroke="#b4b4b4" stroke-width="2.75" stroke-linecap="round" stroke-linejoin="round"/>
<ellipse cx="216.0" cy="180.0" rx="5.0" ry="3.5" fill="#9c9c9c" transform="rotate(97 216.0 180.0)"/>
<path d="M204.5,172.0 Q206.7,192.0 208.8,215.0" fill="none" stroke="#a8a8a8" stroke-width="4.2" stroke-linecap="round"/>
<path d="M204.5,172.0 Q206.7,192.0 208.8,215.0" fill="none" stroke="#cdcdcd" stroke-width="2.2" stroke-linecap="round"/>
<path d="M210.0,82.0 C210.8,81.0 216.0,83.3 218.0,85.0 C220.0,86.7 222.8,91.0 222.0,92.0 C221.2,93.0 215.0,92.7 213.0,91.0 C211.0,89.3 209.2,83.0 210.0,82.0 Z" fill="#c8c8c8" filter="url(#bodyf)"/>
<path d="M186.0,82.0 C185.0,81.2 181.2,84.3 180.0,86.0 C178.8,87.7 178.0,91.2 179.0,92.0 C180.0,92.8 184.8,92.7 186.0,91.0 C187.2,89.3 187.0,82.8 186.0,82.0 Z" fill="#c8c8c8" filter="url(#bodyf)"/>
<g filter="url(#bodyf)"><path d="M196.3,62.0 C197.2,62.0 198.1,63.9 199.1,65.3 C200.1,66.8 201.3,69.0 202.2,70.9 C203.2,72.7 203.9,74.9 204.6,76.4 C205.4,78.0 205.3,79.4 206.5,80.3 C207.7,81.2 210.7,81.2 211.8,82.0 C213.0,82.7 213.5,83.7 213.3,84.8 C213.1,85.8 210.5,86.7 210.7,88.1 C210.9,89.5 213.2,89.7 214.4,93.1 C215.7,96.5 216.8,102.7 218.0,108.6 C219.1,114.5 220.3,122.3 221.4,128.6 C222.4,134.9 223.7,141.2 224.2,146.4 C224.6,151.5 224.8,156.0 224.2,159.7 C223.5,163.4 223.9,166.3 220.2,168.6 C216.6,170.9 208.4,173.5 202.3,173.5 C196.2,173.5 187.8,170.9 183.9,168.6 C180.0,166.3 180.0,163.4 179.0,159.7 C177.9,156.0 177.7,151.5 177.6,146.4 C177.5,141.2 178.1,134.9 178.4,128.6 C178.8,122.3 179.2,114.5 179.7,108.6 C180.2,102.7 180.7,96.5 181.5,93.1 C182.4,89.7 184.7,89.5 184.8,88.1 C184.8,86.7 182.1,85.8 181.8,84.8 C181.4,83.7 181.9,82.7 182.9,82.0 C184.0,81.2 186.9,81.2 188.0,80.3 C189.1,79.4 189.0,78.0 189.5,76.4 C190.1,74.9 190.6,72.7 191.3,70.9 C192.1,69.0 193.1,66.8 193.9,65.3 C194.7,63.9 195.4,62.0 196.3,62.0 Z" fill="url(#bodyg)"/><path d="M196.3,62.0 C197.2,62.0 198.1,63.9 199.1,65.3 C200.1,66.8 201.3,69.0 202.2,70.9 C203.2,72.7 203.9,74.9 204.6,76.4 C205.4,78.0 205.3,79.4 206.5,80.3 C207.7,81.2 210.7,81.2 211.8,82.0 C213.0,82.7 213.5,83.7 213.3,84.8 C213.1,85.8 210.5,86.7 210.7,88.1 C210.9,89.5 213.2,89.7 214.4,93.1 C215.7,96.5 216.8,102.7 218.0,108.6 C219.1,114.5 220.3,122.3 221.4,128.6 C222.4,134.9 223.7,141.2 224.2,146.4 C224.6,151.5 224.8,156.0 224.2,159.7 C223.5,163.4 223.9,166.3 220.2,168.6 C216.6,170.9 208.4,173.5 202.3,173.5 C196.2,173.5 187.8,170.9 183.9,168.6 C180.0,166.3 180.0,163.4 179.0,159.7 C177.9,156.0 177.7,151.5 177.6,146.4 C177.5,141.2 178.1,134.9 178.4,128.6 C178.8,122.3 179.2,114.5 179.7,108.6 C180.2,102.7 180.7,96.5 181.5,93.1 C182.4,89.7 184.7,89.5 184.8,88.1 C184.8,86.7 182.1,85.8 181.8,84.8 C181.4,83.7 181.9,82.7 182.9,82.0 C184.0,81.2 186.9,81.2 188.0,80.3 C189.1,79.4 189.0,78.0 189.5,76.4 C190.1,74.9 190.6,72.7 191.3,70.9 C192.1,69.0 193.1,66.8 193.9,65.3 C194.7,63.9 195.4,62.0 196.3,62.0 Z" fill="url(#bodyv)"/></g>
<path d="M196.3,62.0 C197.2,62.0 198.1,63.9 199.1,65.3 C200.1,66.8 201.3,69.0 202.2,70.9 C203.2,72.7 203.9,74.9 204.6,76.4 C205.4,78.0 205.3,79.4 206.5,80.3 C207.7,81.2 210.7,81.2 211.8,82.0 C213.0,82.7 213.5,83.7 213.3,84.8 C213.1,85.8 210.5,86.7 210.7,88.1 C210.9,89.5 213.2,89.7 214.4,93.1 C215.7,96.5 216.8,102.7 218.0,108.6 C219.1,114.5 220.3,122.3 221.4,128.6 C222.4,134.9 223.7,141.2 224.2,146.4 C224.6,151.5 224.8,156.0 224.2,159.7 C223.5,163.4 223.9,166.3 220.2,168.6 C216.6,170.9 208.4,173.5 202.3,173.5 C196.2,173.5 187.8,170.9 183.9,168.6 C180.0,166.3 180.0,163.4 179.0,159.7 C177.9,156.0 177.7,151.5 177.6,146.4 C177.5,141.2 178.1,134.9 178.4,128.6 C178.8,122.3 179.2,114.5 179.7,108.6 C180.2,102.7 180.7,96.5 181.5,93.1 C182.4,89.7 184.7,89.5 184.8,88.1 C184.8,86.7 182.1,85.8 181.8,84.8 C181.4,83.7 181.9,82.7 182.9,82.0 C184.0,81.2 186.9,81.2 188.0,80.3 C189.1,79.4 189.0,78.0 189.5,76.4 C190.1,74.9 190.6,72.7 191.3,70.9 C192.1,69.0 193.1,66.8 193.9,65.3 C194.7,63.9 195.4,62.0 196.3,62.0 Z" fill="#000" filter="url(#furf)" opacity="0.13"/>
<path d="M194.1,49 L198.5,49 L198.9,58.0 C201.3,62.0 204.8,69.0 206.3,75.0 Q196.3,76.5 186.3,75.0 C187.8,69.0 191.3,62.0 193.7,58.0 Z" fill="url(#coneg)" opacity="0.45"/>
<rect x="194.1" y="49" width="1.1" height="13.0" fill="#bdbdbd" opacity="0.85"/>
<rect x="197.2" y="49" width="1.1" height="13.0" fill="#c8c8c8" opacity="0.85"/>
<path d="M186.8,74.5 Q196.3,76.5 205.8,74.5" fill="none" stroke="#8a8a8a" stroke-width="0.7" opacity="0.7"/>
<g filter="url(#hblur)"><path d="M188.5,89.5 188.5,91.5 187.5,92.5 183.5,92.5 182.5,93.5 181.5,93.5 183.5,95.5 182.5,96.5 180.5,96.5 180.5,102.5 181.5,103.5 181.5,107.5 182.5,108.5 180.5,110.5 180.5,112.5 182.5,114.5 182.5,115.5 180.5,117.5 180.5,122.5 182.5,122.5 183.5,123.5 183.5,124.5 184.5,125.5 183.5,126.5 183.5,129.5 184.5,129.5 185.5,130.5 186.5,130.5 187.5,131.5 187.5,132.5 188.5,133.5 192.5,133.5 192.5,132.5 193.5,131.5 194.5,131.5 195.5,132.5 195.5,133.5 201.5,133.5 202.5,132.5 203.5,132.5 204.5,131.5 205.5,131.5 207.5,133.5 209.5,133.5 210.5,132.5 211.5,132.5 212.5,131.5 213.5,131.5 214.5,130.5 215.5,130.5 215.5,129.5 219.5,125.5 219.5,124.5 220.5,123.5 222.5,123.5 221.5,122.5 221.5,120.5 222.5,119.5 222.5,117.5 221.5,117.5 221.5,118.5 220.5,119.5 219.5,118.5 219.5,109.5 220.5,108.5 220.5,106.5 219.5,105.5 219.5,104.5 218.5,103.5 220.5,101.5 220.5,100.5 219.5,99.5 219.5,97.5 217.5,95.5 215.5,95.5 212.5,92.5 211.5,93.5 211.5,94.5 209.5,96.5 208.5,96.5 207.5,95.5 205.5,95.5 204.5,94.5 203.5,94.5 202.5,95.5 201.5,95.5 198.5,92.5 197.5,92.5 196.5,91.5 194.5,91.5 193.5,90.5 192.5,90.5 191.5,91.5 189.5,91.5 188.5,90.5zM200.5,131.5 201.5,130.5 202.5,131.5 202.5,132.5 201.5,133.5 200.5,132.5z" fill="#7410ff" stroke="#7410ff" stroke-width="0.8" stroke-linejoin="round" fill-rule="evenodd"/><path d="M192.5,92.5 191.5,93.5 188.5,93.5 187.5,94.5 184.5,94.5 185.5,95.5 182.5,98.5 180.5,98.5 180.5,100.5 183.5,103.5 183.5,107.5 184.5,108.5 181.5,111.5 184.5,114.5 184.5,115.5 180.5,119.5 180.5,120.5 182.5,120.5 185.5,123.5 185.5,124.5 186.5,125.5 185.5,126.5 185.5,128.5 186.5,128.5 189.5,131.5 189.5,132.5 190.5,133.5 190.5,132.5 193.5,129.5 194.5,129.5 197.5,132.5 197.5,133.5 199.5,133.5 198.5,132.5 198.5,131.5 201.5,128.5 203.5,130.5 204.5,129.5 205.5,129.5 208.5,132.5 210.5,130.5 211.5,130.5 212.5,129.5 213.5,129.5 217.5,125.5 217.5,124.5 219.5,122.5 219.5,120.5 217.5,118.5 217.5,109.5 218.5,108.5 218.5,106.5 217.5,105.5 217.5,104.5 216.5,103.5 218.5,101.5 218.5,100.5 217.5,99.5 217.5,97.5 215.5,97.5 213.5,95.5 212.5,95.5 209.5,98.5 208.5,98.5 207.5,97.5 205.5,97.5 204.5,96.5 203.5,96.5 202.5,97.5 201.5,97.5 198.5,94.5 197.5,94.5 196.5,93.5 194.5,93.5 193.5,92.5z" fill="#1c22ff" stroke="#1c22ff" stroke-width="0.8" stroke-linejoin="round" fill-rule="evenodd"/><path d="M187.5,96.5 187.5,97.5 185.5,99.5 184.5,99.5 184.5,101.5 185.5,102.5 185.5,110.5 184.5,111.5 184.5,112.5 185.5,113.5 185.5,117.5 183.5,119.5 184.5,119.5 187.5,122.5 187.5,123.5 188.5,124.5 188.5,126.5 196.5,126.5 197.5,125.5 198.5,125.5 199.5,124.5 201.5,124.5 202.5,125.5 206.5,125.5 208.5,127.5 209.5,127.5 210.5,126.5 211.5,126.5 213.5,124.5 214.5,124.5 217.5,121.5 216.5,120.5 216.5,106.5 215.5,105.5 215.5,99.5 214.5,98.5 213.5,98.5 212.5,99.5 210.5,99.5 209.5,100.5 207.5,100.5 206.5,99.5 204.5,99.5 203.5,100.5 200.5,100.5 199.5,99.5 198.5,99.5 197.5,98.5 196.5,98.5 194.5,96.5z" fill="#0a6cff" stroke="#0a6cff" stroke-width="0.8" stroke-linejoin="round" fill-rule="evenodd"/><path d="M189.5,97.5 186.5,100.5 185.5,100.5 186.5,101.5 186.5,110.5 185.5,111.5 186.5,112.5 186.5,117.5 185.5,118.5 185.5,119.5 191.5,125.5 192.5,124.5 196.5,124.5 198.5,122.5 200.5,122.5 201.5,123.5 205.5,123.5 206.5,124.5 212.5,124.5 214.5,122.5 215.5,122.5 215.5,119.5 214.5,118.5 215.5,117.5 215.5,106.5 214.5,105.5 214.5,104.5 213.5,103.5 213.5,102.5 214.5,101.5 214.5,100.5 212.5,100.5 211.5,101.5 203.5,101.5 202.5,102.5 201.5,102.5 200.5,101.5 199.5,101.5 198.5,100.5 196.5,100.5 194.5,98.5 193.5,98.5 192.5,97.5z" fill="#00c8ff" stroke="#00c8ff" stroke-width="0.8" stroke-linejoin="round" fill-rule="evenodd"/><path d="M188.5,100.5 187.5,101.5 187.5,109.5 186.5,110.5 186.5,113.5 187.5,114.5 187.5,116.5 186.5,117.5 186.5,118.5 187.5,119.5 187.5,120.5 190.5,123.5 194.5,123.5 195.5,122.5 196.5,122.5 197.5,121.5 199.5,121.5 199.5,118.5 200.5,117.5 202.5,117.5 203.5,118.5 203.5,119.5 205.5,121.5 206.5,121.5 208.5,123.5 211.5,123.5 212.5,122.5 213.5,122.5 214.5,121.5 214.5,114.5 215.5,113.5 215.5,107.5 214.5,106.5 214.5,105.5 212.5,103.5 212.5,102.5 213.5,101.5 212.5,101.5 211.5,102.5 204.5,102.5 203.5,103.5 203.5,109.5 202.5,110.5 200.5,110.5 199.5,109.5 199.5,107.5 198.5,106.5 198.5,104.5 199.5,103.5 198.5,103.5 197.5,102.5 195.5,102.5 194.5,101.5 193.5,101.5 192.5,100.5z" fill="#00f0d8" stroke="#00f0d8" stroke-width="0.8" stroke-linejoin="round" fill-rule="evenodd"/><path d="M206.5,103.5 205.5,104.5 205.5,106.5 206.5,107.5 205.5,108.5 204.5,108.5 204.5,115.5 205.5,116.5 205.5,118.5 208.5,121.5 209.5,121.5 210.5,122.5 212.5,122.5 213.5,121.5 213.5,116.5 214.5,115.5 214.5,106.5 212.5,104.5 212.5,103.5zM188.5,101.5 188.5,108.5 187.5,109.5 187.5,110.5 186.5,111.5 187.5,112.5 187.5,119.5 190.5,122.5 193.5,122.5 194.5,121.5 195.5,121.5 196.5,120.5 198.5,120.5 198.5,118.5 197.5,117.5 197.5,107.5 195.5,105.5 195.5,104.5 194.5,104.5 193.5,103.5 191.5,103.5 190.5,104.5 189.5,103.5 189.5,101.5z" fill="#18f070" stroke="#18f070" stroke-width="0.8" stroke-linejoin="round" fill-rule="evenodd"/><path d="M189.5,105.5 189.5,108.5 188.5,109.5 188.5,110.5 187.5,111.5 187.5,113.5 188.5,114.5 188.5,117.5 187.5,118.5 190.5,121.5 191.5,121.5 193.5,119.5 194.5,119.5 196.5,117.5 196.5,112.5 195.5,111.5 195.5,108.5 194.5,107.5 194.5,106.5 192.5,106.5 191.5,105.5zM209.5,104.5 208.5,105.5 208.5,107.5 205.5,110.5 205.5,112.5 206.5,113.5 206.5,114.5 207.5,115.5 207.5,116.5 210.5,116.5 211.5,117.5 211.5,118.5 210.5,119.5 211.5,119.5 212.5,120.5 212.5,117.5 213.5,116.5 213.5,114.5 214.5,113.5 214.5,107.5 213.5,106.5 213.5,105.5 212.5,104.5z" fill="#40f020" stroke="#40f020" stroke-width="0.8" stroke-linejoin="round" fill-rule="evenodd"/><path d="M190.5,108.5 188.5,110.5 188.5,118.5 190.5,120.5 193.5,117.5 194.5,117.5 194.5,116.5 193.5,115.5 193.5,114.5 194.5,113.5 194.5,110.5 193.5,109.5 192.5,109.5 191.5,108.5zM210.5,105.5 209.5,106.5 209.5,108.5 207.5,110.5 207.5,112.5 209.5,114.5 209.5,115.5 210.5,115.5 211.5,116.5 212.5,116.5 212.5,115.5 213.5,114.5 213.5,113.5 214.5,112.5 214.5,111.5 213.5,110.5 213.5,106.5 212.5,105.5z" fill="#b8f000" stroke="#b8f000" stroke-width="0.8" stroke-linejoin="round" fill-rule="evenodd"/><path d="M189.5,110.5 189.5,111.5 188.5,112.5 188.5,116.5 189.5,117.5 189.5,118.5 190.5,119.5 191.5,118.5 191.5,117.5 192.5,116.5 192.5,112.5 191.5,111.5 191.5,110.5zM211.5,106.5 210.5,107.5 210.5,109.5 208.5,111.5 209.5,112.5 209.5,113.5 211.5,115.5 213.5,113.5 213.5,107.5 212.5,106.5z" fill="#fff000" stroke="#fff000" stroke-width="0.8" stroke-linejoin="round" fill-rule="evenodd"/><path d="M190.5,111.5 189.5,112.5 189.5,117.5 191.5,117.5 191.5,112.5zM211.5,107.5 211.5,109.5 209.5,111.5 210.5,112.5 210.5,113.5 211.5,114.5 212.5,114.5 212.5,113.5 213.5,112.5 213.5,110.5 212.5,109.5 212.5,107.5z" fill="#ff9800" stroke="#ff9800" stroke-width="0.8" stroke-linejoin="round" fill-rule="evenodd"/><path d="M190.5,112.5 189.5,113.5 189.5,116.5 190.5,117.5zM211.5,110.5 210.5,111.5 210.5,112.5 211.5,113.5 212.5,113.5 212.5,110.5z" fill="#ff1400" stroke="#ff1400" stroke-width="0.8" stroke-linejoin="round" fill-rule="evenodd"/></g>
<rect x="170.5" y="43.5" width="69" height="168" fill="none" stroke="#151515" stroke-width="1"/>
</g>
<clipPath id="c244_43"><rect x="244" y="43" width="70" height="169"/></clipPath>
<g clip-path="url(#c244_43)">
<rect x="244" y="43" width="70" height="169" fill="#2d2d2d"/>
<rect x="244" y="43" width="70" height="169" fill="#000" filter="url(#bgn)" opacity="0.6"/>
<rect x="244" y="43" width="70" height="33.599999999999994" fill="#262626"/>
<rect x="244" y="44" width="70" height="4.5" fill="#444444"/>
<rect x="244" y="48.5" width="70" height="1" fill="#1e1e1e"/>
<g filter="url(#soft)"><rect x="246" y="51" width="2.6" height="21.599999999999994" fill="#474747"/><rect x="263.5" y="51" width="2.6" height="21.599999999999994" fill="#474747"/><rect x="291" y="51" width="2.6" height="21.599999999999994" fill="#474747"/><rect x="302.5" y="51" width="2.6" height="21.599999999999994" fill="#474747"/><rect x="250" y="50" width="2.4" height="23.599999999999994" fill="#1a1a1a"/><rect x="260" y="50" width="2.4" height="23.599999999999994" fill="#1a1a1a"/><rect x="267" y="50" width="2.4" height="23.599999999999994" fill="#1a1a1a"/><rect x="288" y="50" width="2.4" height="23.599999999999994" fill="#1a1a1a"/><rect x="297" y="50" width="2.4" height="23.599999999999994" fill="#1a1a1a"/><rect x="307" y="50" width="2.4" height="23.599999999999994" fill="#1a1a1a"/></g>
<path d="M292.0,158.0 L297.0,170.0 L298.0,178.0" fill="none" stroke="#8e8e8e" stroke-width="4.60" stroke-linecap="round" stroke-linejoin="round"/>
<path d="M292.0,158.0 L297.0,170.0 L298.0,178.0" fill="none" stroke="#b4b4b4" stroke-width="2.20" stroke-linecap="round" stroke-linejoin="round"/>
<ellipse cx="298.0" cy="178.0" rx="4.0" ry="2.8" fill="#9c9c9c" transform="rotate(83 298.0 178.0)"/>
<path d="M262.0,160.0 L262.0,170.0" fill="none" stroke="#8e8e8e" stroke-width="5.17" stroke-linecap="round" stroke-linejoin="round"/>
<path d="M262.0,160.0 L262.0,170.0" fill="none" stroke="#b4b4b4" stroke-width="2.48" stroke-linecap="round" stroke-linejoin="round"/>
<ellipse cx="262.0" cy="170.0" rx="4.5" ry="3.1" fill="#9c9c9c" transform="rotate(90 262.0 170.0)"/>
<path d="M283.6,166.0 Q285.1,189.0 286.5,215.0" fill="none" stroke="#a8a8a8" stroke-width="4.2" stroke-linecap="round"/>
<path d="M283.6,166.0 Q285.1,189.0 286.5,215.0" fill="none" stroke="#cdcdcd" stroke-width="2.2" stroke-linecap="round"/>
<path d="M284.0,82.0 C284.8,81.0 289.3,83.3 291.0,85.0 C292.7,86.7 294.8,91.0 294.0,92.0 C293.2,93.0 287.7,92.7 286.0,91.0 C284.3,89.3 283.2,83.0 284.0,82.0 Z" fill="#c8c8c8" filter="url(#bodyf)"/>
<g filter="url(#bodyf)"><path d="M273.9,60.6 C274.7,60.6 275.5,62.4 276.4,63.8 C277.3,65.2 278.4,67.3 279.2,69.1 C280.0,70.9 280.7,72.9 281.3,74.4 C281.9,75.9 281.9,77.3 283.0,78.2 C284.1,79.0 286.8,79.0 287.8,79.8 C288.8,80.5 289.3,81.4 289.1,82.4 C288.9,83.4 286.4,84.3 286.6,85.6 C286.7,86.9 288.9,87.1 289.9,90.4 C290.9,93.7 291.7,99.6 292.6,105.3 C293.5,111.0 294.3,118.4 295.1,124.4 C295.8,130.5 296.8,136.5 297.1,141.5 C297.4,146.4 297.5,150.7 296.9,154.2 C296.2,157.8 296.5,160.5 293.2,162.7 C290.0,165.0 282.7,167.5 277.4,167.5 C272.1,167.5 264.7,165.0 261.3,162.7 C257.9,160.5 258.0,157.8 257.1,154.2 C256.2,150.7 256.1,146.4 256.1,141.5 C256.0,136.5 256.6,130.5 256.9,124.4 C257.3,118.4 257.6,111.0 258.1,105.3 C258.6,99.6 259.1,93.7 259.9,90.4 C260.7,87.1 262.8,86.9 262.9,85.6 C262.9,84.3 260.4,83.4 260.2,82.4 C259.9,81.4 260.3,80.5 261.3,79.8 C262.2,79.0 265.0,79.0 266.0,78.2 C267.0,77.3 266.9,75.9 267.4,74.4 C267.9,72.9 268.4,70.9 269.1,69.1 C269.8,67.3 270.8,65.2 271.6,63.8 C272.4,62.4 273.1,60.6 273.9,60.6 Z" fill="url(#bodyg)"/><path d="M273.9,60.6 C274.7,60.6 275.5,62.4 276.4,63.8 C277.3,65.2 278.4,67.3 279.2,69.1 C280.0,70.9 280.7,72.9 281.3,74.4 C281.9,75.9 281.9,77.3 283.0,78.2 C284.1,79.0 286.8,79.0 287.8,79.8 C288.8,80.5 289.3,81.4 289.1,82.4 C288.9,83.4 286.4,84.3 286.6,85.6 C286.7,86.9 288.9,87.1 289.9,90.4 C290.9,93.7 291.7,99.6 292.6,105.3 C293.5,111.0 294.3,118.4 295.1,124.4 C295.8,130.5 296.8,136.5 297.1,141.5 C297.4,146.4 297.5,150.7 296.9,154.2 C296.2,157.8 296.5,160.5 293.2,162.7 C290.0,165.0 282.7,167.5 277.4,167.5 C272.1,167.5 264.7,165.0 261.3,162.7 C257.9,160.5 258.0,157.8 257.1,154.2 C256.2,150.7 256.1,146.4 256.1,141.5 C256.0,136.5 256.6,130.5 256.9,124.4 C257.3,118.4 257.6,111.0 258.1,105.3 C258.6,99.6 259.1,93.7 259.9,90.4 C260.7,87.1 262.8,86.9 262.9,85.6 C262.9,84.3 260.4,83.4 260.2,82.4 C259.9,81.4 260.3,80.5 261.3,79.8 C262.2,79.0 265.0,79.0 266.0,78.2 C267.0,77.3 266.9,75.9 267.4,74.4 C267.9,72.9 268.4,70.9 269.1,69.1 C269.8,67.3 270.8,65.2 271.6,63.8 C272.4,62.4 273.1,60.6 273.9,60.6 Z" fill="url(#bodyv)"/></g>
<path d="M273.9,60.6 C274.7,60.6 275.5,62.4 276.4,63.8 C277.3,65.2 278.4,67.3 279.2,69.1 C280.0,70.9 280.7,72.9 281.3,74.4 C281.9,75.9 281.9,77.3 283.0,78.2 C284.1,79.0 286.8,79.0 287.8,79.8 C288.8,80.5 289.3,81.4 289.1,82.4 C288.9,83.4 286.4,84.3 286.6,85.6 C286.7,86.9 288.9,87.1 289.9,90.4 C290.9,93.7 291.7,99.6 292.6,105.3 C293.5,111.0 294.3,118.4 295.1,124.4 C295.8,130.5 296.8,136.5 297.1,141.5 C297.4,146.4 297.5,150.7 296.9,154.2 C296.2,157.8 296.5,160.5 293.2,162.7 C290.0,165.0 282.7,167.5 277.4,167.5 C272.1,167.5 264.7,165.0 261.3,162.7 C257.9,160.5 258.0,157.8 257.1,154.2 C256.2,150.7 256.1,146.4 256.1,141.5 C256.0,136.5 256.6,130.5 256.9,124.4 C257.3,118.4 257.6,111.0 258.1,105.3 C258.6,99.6 259.1,93.7 259.9,90.4 C260.7,87.1 262.8,86.9 262.9,85.6 C262.9,84.3 260.4,83.4 260.2,82.4 C259.9,81.4 260.3,80.5 261.3,79.8 C262.2,79.0 265.0,79.0 266.0,78.2 C267.0,77.3 266.9,75.9 267.4,74.4 C267.9,72.9 268.4,70.9 269.1,69.1 C269.8,67.3 270.8,65.2 271.6,63.8 C272.4,62.4 273.1,60.6 273.9,60.6 Z" fill="#000" filter="url(#furf)" opacity="0.13"/>
<path d="M271.7,49 L276.1,49 L276.5,56.6 C278.9,60.6 282.4,67.6 283.9,73.6 Q273.9,75.1 263.9,73.6 C265.4,67.6 268.9,60.6 271.3,56.6 Z" fill="url(#coneg)" opacity="0.45"/>
<rect x="271.7" y="49" width="1.1" height="11.6" fill="#bdbdbd" opacity="0.85"/>
<rect x="274.8" y="49" width="1.1" height="11.6" fill="#c8c8c8" opacity="0.85"/>
<path d="M264.4,73.1 Q273.9,75.1 283.4,73.1" fill="none" stroke="#8a8a8a" stroke-width="0.7" opacity="0.7"/>
<g filter="url(#hblur)"><path d="M264.5,86.5 263.5,87.5 261.5,87.5 260.5,88.5 258.5,88.5 257.5,89.5 257.5,92.5 254.5,95.5 254.5,100.5 255.5,100.5 257.5,102.5 256.5,103.5 256.5,111.5 255.5,112.5 254.5,112.5 254.5,115.5 255.5,116.5 255.5,117.5 254.5,118.5 254.5,119.5 255.5,119.5 256.5,120.5 255.5,121.5 254.5,121.5 254.5,126.5 255.5,126.5 255.5,125.5 254.5,124.5 255.5,123.5 256.5,123.5 257.5,124.5 257.5,127.5 258.5,128.5 258.5,129.5 259.5,129.5 260.5,130.5 261.5,130.5 263.5,132.5 270.5,132.5 270.5,131.5 271.5,130.5 272.5,131.5 272.5,132.5 273.5,132.5 274.5,131.5 275.5,131.5 276.5,132.5 277.5,131.5 277.5,130.5 278.5,129.5 279.5,130.5 282.5,130.5 283.5,131.5 283.5,132.5 285.5,132.5 287.5,130.5 288.5,130.5 293.5,125.5 293.5,91.5 292.5,91.5 290.5,89.5 288.5,89.5 287.5,88.5 287.5,86.5 283.5,86.5 282.5,87.5 281.5,87.5 280.5,86.5 278.5,86.5 276.5,88.5 275.5,88.5 274.5,89.5 272.5,89.5 272.5,90.5 271.5,91.5 270.5,90.5 270.5,89.5 269.5,88.5 268.5,88.5 266.5,86.5zM271.5,130.5 272.5,129.5 273.5,129.5 274.5,130.5 273.5,131.5 272.5,131.5zM266.5,130.5 267.5,129.5 268.5,129.5 269.5,130.5 268.5,131.5 267.5,131.5zM255.5,118.5 256.5,117.5 257.5,118.5 256.5,119.5zM255.5,115.5 256.5,114.5 257.5,115.5 256.5,116.5z" fill="#7410ff" stroke="#7410ff" stroke-width="0.8" stroke-linejoin="round" fill-rule="evenodd"/><path d="M285.5,86.5 282.5,89.5 281.5,89.5 279.5,87.5 276.5,90.5 275.5,90.5 274.5,91.5 273.5,91.5 271.5,93.5 265.5,87.5 263.5,89.5 261.5,89.5 260.5,90.5 259.5,90.5 259.5,92.5 254.5,97.5 254.5,98.5 255.5,98.5 259.5,102.5 258.5,103.5 258.5,111.5 257.5,112.5 257.5,113.5 259.5,115.5 258.5,116.5 258.5,117.5 259.5,118.5 258.5,119.5 258.5,120.5 257.5,121.5 257.5,122.5 259.5,124.5 259.5,127.5 260.5,128.5 261.5,128.5 265.5,132.5 266.5,132.5 264.5,130.5 267.5,127.5 268.5,127.5 270.5,129.5 272.5,127.5 273.5,127.5 275.5,129.5 276.5,129.5 278.5,127.5 279.5,128.5 282.5,128.5 284.5,130.5 285.5,130.5 287.5,128.5 288.5,128.5 293.5,123.5 293.5,93.5 292.5,93.5 290.5,91.5 288.5,91.5 285.5,88.5z" fill="#1c22ff" stroke="#1c22ff" stroke-width="0.8" stroke-linejoin="round" fill-rule="evenodd"/><path d="M262.5,90.5 261.5,91.5 261.5,92.5 260.5,93.5 260.5,94.5 257.5,97.5 257.5,98.5 260.5,101.5 260.5,103.5 259.5,104.5 259.5,111.5 258.5,112.5 259.5,113.5 259.5,114.5 260.5,115.5 259.5,116.5 259.5,117.5 260.5,118.5 259.5,119.5 259.5,122.5 260.5,123.5 260.5,125.5 262.5,127.5 264.5,127.5 265.5,126.5 271.5,126.5 272.5,125.5 273.5,125.5 274.5,126.5 277.5,126.5 278.5,125.5 279.5,126.5 280.5,126.5 281.5,127.5 282.5,126.5 283.5,127.5 284.5,127.5 285.5,128.5 291.5,122.5 292.5,122.5 293.5,121.5 293.5,95.5 292.5,95.5 291.5,94.5 290.5,94.5 288.5,92.5 286.5,92.5 284.5,90.5 283.5,90.5 282.5,91.5 281.5,90.5 279.5,90.5 278.5,91.5 277.5,91.5 276.5,92.5 275.5,92.5 273.5,94.5 270.5,94.5 267.5,91.5 266.5,91.5 265.5,90.5z" fill="#0a6cff" stroke="#0a6cff" stroke-width="0.8" stroke-linejoin="round" fill-rule="evenodd"/><path d="M262.5,91.5 262.5,92.5 261.5,93.5 261.5,94.5 258.5,97.5 260.5,99.5 260.5,100.5 261.5,101.5 261.5,102.5 260.5,103.5 260.5,108.5 259.5,109.5 259.5,112.5 260.5,113.5 260.5,114.5 261.5,115.5 260.5,116.5 260.5,117.5 261.5,118.5 260.5,119.5 260.5,122.5 261.5,123.5 261.5,124.5 262.5,125.5 262.5,126.5 264.5,126.5 265.5,125.5 266.5,125.5 267.5,124.5 268.5,124.5 269.5,125.5 271.5,125.5 272.5,124.5 273.5,124.5 274.5,125.5 277.5,125.5 278.5,124.5 279.5,124.5 280.5,125.5 282.5,125.5 283.5,126.5 285.5,126.5 289.5,122.5 290.5,122.5 291.5,121.5 292.5,121.5 293.5,120.5 293.5,96.5 292.5,96.5 291.5,95.5 289.5,95.5 287.5,93.5 286.5,93.5 284.5,91.5 283.5,91.5 282.5,92.5 281.5,92.5 280.5,91.5 279.5,91.5 277.5,93.5 275.5,93.5 273.5,95.5 269.5,95.5 265.5,91.5z" fill="#00c8ff" stroke="#00c8ff" stroke-width="0.8" stroke-linejoin="round" fill-rule="evenodd"/><path d="M262.5,92.5 262.5,94.5 261.5,95.5 261.5,96.5 260.5,97.5 261.5,98.5 261.5,103.5 260.5,104.5 260.5,113.5 261.5,114.5 261.5,122.5 262.5,123.5 262.5,125.5 264.5,125.5 265.5,124.5 266.5,124.5 267.5,123.5 268.5,123.5 269.5,124.5 271.5,124.5 272.5,123.5 273.5,123.5 274.5,124.5 277.5,124.5 278.5,123.5 279.5,123.5 280.5,124.5 282.5,124.5 283.5,125.5 285.5,125.5 289.5,121.5 290.5,121.5 292.5,119.5 293.5,119.5 293.5,97.5 292.5,97.5 291.5,96.5 290.5,96.5 289.5,95.5 288.5,95.5 287.5,94.5 286.5,94.5 285.5,93.5 284.5,93.5 283.5,92.5 282.5,93.5 278.5,93.5 277.5,94.5 276.5,94.5 275.5,95.5 273.5,95.5 272.5,96.5 270.5,96.5 269.5,95.5 268.5,95.5 265.5,92.5z" fill="#00f0d8" stroke="#00f0d8" stroke-width="0.8" stroke-linejoin="round" fill-rule="evenodd"/><path d="M263.5,93.5 262.5,94.5 262.5,95.5 260.5,97.5 261.5,98.5 261.5,100.5 262.5,101.5 262.5,102.5 261.5,103.5 261.5,109.5 260.5,110.5 261.5,111.5 260.5,112.5 261.5,113.5 261.5,114.5 262.5,115.5 261.5,116.5 261.5,117.5 262.5,118.5 262.5,120.5 261.5,121.5 263.5,123.5 263.5,124.5 265.5,124.5 266.5,123.5 271.5,123.5 272.5,122.5 274.5,122.5 275.5,123.5 277.5,123.5 278.5,122.5 279.5,122.5 281.5,124.5 284.5,124.5 286.5,122.5 287.5,122.5 287.5,121.5 288.5,120.5 289.5,120.5 291.5,118.5 293.5,118.5 293.5,98.5 291.5,98.5 289.5,96.5 288.5,96.5 287.5,95.5 286.5,95.5 285.5,94.5 278.5,94.5 276.5,96.5 273.5,96.5 272.5,97.5 270.5,97.5 269.5,96.5 268.5,96.5 265.5,93.5zM288.5,118.5 289.5,117.5 290.5,118.5 289.5,119.5z" fill="#18f070" stroke="#18f070" stroke-width="0.8" stroke-linejoin="round" fill-rule="evenodd"/><path d="M283.5,121.5 282.5,122.5 282.5,123.5 283.5,123.5zM289.5,115.5 289.5,116.5 290.5,116.5zM289.0,100.0h1v1h-1zM281.5,95.5 280.5,96.5 279.5,96.5 279.5,97.5 281.5,97.5 282.5,96.5zM264.5,94.5 262.5,96.5 262.5,103.5 261.5,104.5 261.5,113.5 262.5,114.5 262.5,117.5 263.5,118.5 263.5,122.5 264.5,123.5 265.5,123.5 266.5,122.5 270.5,122.5 270.5,120.5 271.5,119.5 272.5,119.5 272.5,117.5 274.5,115.5 275.5,116.5 276.5,116.5 275.5,116.5 274.5,115.5 274.5,114.5 275.5,113.5 275.5,112.5 277.5,110.5 279.5,112.5 278.5,113.5 278.5,115.5 280.5,117.5 280.5,118.5 281.5,119.5 284.5,119.5 285.5,120.5 285.5,119.5 286.5,118.5 286.5,114.5 288.5,112.5 289.5,112.5 289.5,110.5 288.5,110.5 287.5,109.5 287.5,107.5 286.5,106.5 287.5,105.5 287.5,104.5 283.5,100.5 280.5,100.5 279.5,101.5 276.5,101.5 275.5,100.5 275.5,99.5 274.5,98.5 274.5,97.5 273.5,97.5 272.5,98.5 270.5,98.5 269.5,97.5 268.5,97.5 265.5,94.5zM274.5,105.5 275.5,104.5 277.5,106.5 277.5,107.5 276.5,108.5 275.5,108.5 274.5,107.5zM273.5,104.5 274.5,103.5 275.5,104.5 274.5,105.5z" fill="#40f020" stroke="#40f020" stroke-width="0.8" stroke-linejoin="round" fill-rule="evenodd"/><path d="M276.5,102.5 276.5,104.5 277.5,105.5 278.5,105.5 280.5,107.5 280.5,110.5 279.5,111.5 279.5,114.5 280.5,115.5 280.5,116.5 281.5,117.5 281.5,118.5 282.5,118.5 283.5,117.5 284.5,117.5 285.5,116.5 285.5,112.5 286.5,111.5 286.5,108.5 285.5,107.5 285.5,106.5 284.5,105.5 284.5,104.5 283.5,103.5 282.5,103.5 281.5,104.5 279.5,102.5zM264.5,96.5 263.5,97.5 263.5,102.5 262.5,103.5 262.5,107.5 261.5,108.5 261.5,112.5 262.5,113.5 262.5,114.5 263.5,115.5 263.5,117.5 264.5,118.5 264.5,119.5 266.5,121.5 266.5,120.5 272.5,114.5 273.5,114.5 273.5,111.5 272.5,110.5 272.5,109.5 273.5,108.5 272.5,107.5 272.5,106.5 271.5,105.5 271.5,104.5 272.5,103.5 272.5,102.5 270.5,100.5 270.5,99.5 268.5,97.5 267.5,97.5 266.5,96.5zM269.5,102.5 270.5,101.5 271.5,102.5 270.5,103.5z" fill="#b8f000" stroke="#b8f000" stroke-width="0.8" stroke-linejoin="round" fill-rule="evenodd"/><path d="M282.5,105.5 281.5,106.5 281.5,110.5 280.5,111.5 280.5,113.5 281.5,114.5 281.5,116.5 283.5,116.5 284.5,115.5 284.5,112.5 285.5,111.5 285.5,107.5 283.5,105.5zM278.5,102.5 277.5,103.5 277.5,104.5 279.5,104.5 279.5,103.5zM265.5,97.5 265.5,98.5 264.5,99.5 263.5,99.5 263.5,103.5 262.5,104.5 262.5,113.5 263.5,114.5 263.5,116.5 264.5,117.5 266.5,117.5 267.5,116.5 267.5,115.5 269.5,113.5 271.5,113.5 271.5,110.5 270.5,109.5 270.5,107.5 269.5,106.5 269.5,104.5 268.5,103.5 268.5,102.5 269.5,101.5 269.5,100.5 268.5,99.5 268.5,98.5 267.5,98.5 266.5,97.5z" fill="#fff000" stroke="#fff000" stroke-width="0.8" stroke-linejoin="round" fill-rule="evenodd"/><path d="M282.5,107.5 281.5,108.5 281.5,112.5 282.5,113.5 282.5,114.5 283.5,114.5 283.5,112.5 284.5,111.5 284.5,108.5 283.5,107.5zM278.5,103.5 278.5,104.5zM265.5,99.5 264.5,100.5 264.5,102.5 263.5,103.5 263.5,107.5 262.5,108.5 262.5,112.5 263.5,113.5 263.5,114.5 264.5,114.5 265.5,115.5 268.5,112.5 269.5,112.5 268.5,111.5 268.5,106.5 267.5,105.5 267.5,103.5 268.5,102.5 268.5,101.5 267.5,100.5 267.5,99.5z" fill="#ff9800" stroke="#ff9800" stroke-width="0.8" stroke-linejoin="round" fill-rule="evenodd"/><path d="M282.5,108.5 282.5,111.5 283.5,111.5 283.5,109.5zM266.5,99.5 265.5,100.5 264.5,100.5 264.5,106.5 263.5,107.5 263.5,113.5 266.5,113.5 267.5,112.5 267.5,111.5 266.5,110.5 266.5,109.5 267.5,108.5 266.5,107.5 266.5,104.5 267.5,103.5 267.5,100.5z" fill="#ff1400" stroke="#ff1400" stroke-width="0.8" stroke-linejoin="round" fill-rule="evenodd"/></g>
<rect x="244.5" y="43.5" width="69" height="168" fill="none" stroke="#151515" stroke-width="1"/>
</g>
<clipPath id="c318_43"><rect x="318" y="43" width="69" height="169"/></clipPath>
<g clip-path="url(#c318_43)">
<rect x="318" y="43" width="69" height="169" fill="#2d2d2d"/>
<rect x="318" y="43" width="69" height="169" fill="#000" filter="url(#bgn)" opacity="0.6"/>
<rect x="318" y="43" width="69" height="33.599999999999994" fill="#262626"/>
<rect x="318" y="44" width="69" height="4.5" fill="#444444"/>
<rect x="318" y="48.5" width="69" height="1" fill="#1e1e1e"/>
<g filter="url(#soft)"><rect x="320" y="51" width="2.6" height="21.599999999999994" fill="#474747"/><rect x="337.5" y="51" width="2.6" height="21.599999999999994" fill="#474747"/><rect x="365" y="51" width="2.6" height="21.599999999999994" fill="#474747"/><rect x="376.5" y="51" width="2.6" height="21.599999999999994" fill="#474747"/><rect x="324" y="50" width="2.4" height="23.599999999999994" fill="#1a1a1a"/><rect x="334" y="50" width="2.4" height="23.599999999999994" fill="#1a1a1a"/><rect x="341" y="50" width="2.4" height="23.599999999999994" fill="#1a1a1a"/><rect x="362" y="50" width="2.4" height="23.599999999999994" fill="#1a1a1a"/><rect x="371" y="50" width="2.4" height="23.599999999999994" fill="#1a1a1a"/><rect x="381" y="50" width="2.4" height="23.599999999999994" fill="#1a1a1a"/></g>
<path d="M332.0,160.0 L325.0,163.0 L320.0,165.0" fill="none" stroke="#8e8e8e" stroke-width="5.17" stroke-linecap="round" stroke-linejoin="round"/>
<path d="M332.0,160.0 L325.0,163.0 L320.0,165.0" fill="none" stroke="#b4b4b4" stroke-width="2.48" stroke-linecap="round" stroke-linejoin="round"/>
<ellipse cx="320.0" cy="165.0" rx="4.5" ry="3.1" fill="#9c9c9c" transform="rotate(158 320.0 165.0)"/>
<path d="M366.0,164.0 L367.0,172.0" fill="none" stroke="#8e8e8e" stroke-width="5.17" stroke-linecap="round" stroke-linejoin="round"/>
<path d="M366.0,164.0 L367.0,172.0" fill="none" stroke="#b4b4b4" stroke-width="2.48" stroke-linecap="round" stroke-linejoin="round"/>
<ellipse cx="367.0" cy="172.0" rx="4.5" ry="3.1" fill="#9c9c9c" transform="rotate(83 367.0 172.0)"/>
<path d="M346.8,170.0 Q342.4,191.0 338.0,215.0" fill="none" stroke="#a8a8a8" stroke-width="4.2" stroke-linecap="round"/>
<path d="M346.8,170.0 Q342.4,191.0 338.0,215.0" fill="none" stroke="#cdcdcd" stroke-width="2.2" stroke-linecap="round"/>
<g filter="url(#bodyf)"><path d="M353.8,60.6 C354.6,60.6 355.4,62.5 356.2,64.0 C357.0,65.5 358.0,67.7 358.7,69.6 C359.5,71.5 360.0,73.6 360.6,75.2 C361.1,76.8 361.0,78.2 362.1,79.1 C363.2,80.1 366.0,80.1 367.0,80.8 C368.1,81.6 368.5,82.6 368.2,83.6 C367.9,84.7 365.3,85.6 365.4,87.0 C365.4,88.4 367.7,88.6 368.6,92.1 C369.5,95.5 370.0,101.8 370.6,107.8 C371.2,113.8 371.7,121.7 372.1,128.0 C372.6,134.4 373.3,140.8 373.3,146.0 C373.3,151.3 373.1,155.8 372.1,159.5 C371.1,163.3 371.2,166.2 367.5,168.5 C363.8,170.8 355.7,173.5 349.8,173.5 C343.9,173.5 336.0,170.8 332.4,168.5 C328.9,166.2 329.1,163.3 328.5,159.5 C327.8,155.8 327.9,151.3 328.3,146.0 C328.6,140.8 329.8,134.4 330.7,128.0 C331.6,121.7 332.6,113.8 333.6,107.8 C334.6,101.8 335.7,95.5 336.8,92.1 C337.9,88.6 340.2,88.4 340.3,87.0 C340.5,85.6 337.9,84.7 337.7,83.6 C337.5,82.6 338.0,81.6 339.1,80.8 C340.2,80.1 343.1,80.1 344.2,79.1 C345.3,78.2 345.3,76.8 346.0,75.2 C346.7,73.6 347.4,71.5 348.2,69.6 C349.1,67.7 350.2,65.5 351.2,64.0 C352.1,62.5 353.0,60.6 353.8,60.6 Z" fill="url(#bodyg)"/><path d="M353.8,60.6 C354.6,60.6 355.4,62.5 356.2,64.0 C357.0,65.5 358.0,67.7 358.7,69.6 C359.5,71.5 360.0,73.6 360.6,75.2 C361.1,76.8 361.0,78.2 362.1,79.1 C363.2,80.1 366.0,80.1 367.0,80.8 C368.1,81.6 368.5,82.6 368.2,83.6 C367.9,84.7 365.3,85.6 365.4,87.0 C365.4,88.4 367.7,88.6 368.6,92.1 C369.5,95.5 370.0,101.8 370.6,107.8 C371.2,113.8 371.7,121.7 372.1,128.0 C372.6,134.4 373.3,140.8 373.3,146.0 C373.3,151.3 373.1,155.8 372.1,159.5 C371.1,163.3 371.2,166.2 367.5,168.5 C363.8,170.8 355.7,173.5 349.8,173.5 C343.9,173.5 336.0,170.8 332.4,168.5 C328.9,166.2 329.1,163.3 328.5,159.5 C327.8,155.8 327.9,151.3 328.3,146.0 C328.6,140.8 329.8,134.4 330.7,128.0 C331.6,121.7 332.6,113.8 333.6,107.8 C334.6,101.8 335.7,95.5 336.8,92.1 C337.9,88.6 340.2,88.4 340.3,87.0 C340.5,85.6 337.9,84.7 337.7,83.6 C337.5,82.6 338.0,81.6 339.1,80.8 C340.2,80.1 343.1,80.1 344.2,79.1 C345.3,78.2 345.3,76.8 346.0,75.2 C346.7,73.6 347.4,71.5 348.2,69.6 C349.1,67.7 350.2,65.5 351.2,64.0 C352.1,62.5 353.0,60.6 353.8,60.6 Z" fill="url(#bodyv)"/></g>
<path d="M353.8,60.6 C354.6,60.6 355.4,62.5 356.2,64.0 C357.0,65.5 358.0,67.7 358.7,69.6 C359.5,71.5 360.0,73.6 360.6,75.2 C361.1,76.8 361.0,78.2 362.1,79.1 C363.2,80.1 366.0,80.1 367.0,80.8 C368.1,81.6 368.5,82.6 368.2,83.6 C367.9,84.7 365.3,85.6 365.4,87.0 C365.4,88.4 367.7,88.6 368.6,92.1 C369.5,95.5 370.0,101.8 370.6,107.8 C371.2,113.8 371.7,121.7 372.1,128.0 C372.6,134.4 373.3,140.8 373.3,146.0 C373.3,151.3 373.1,155.8 372.1,159.5 C371.1,163.3 371.2,166.2 367.5,168.5 C363.8,170.8 355.7,173.5 349.8,173.5 C343.9,173.5 336.0,170.8 332.4,168.5 C328.9,166.2 329.1,163.3 328.5,159.5 C327.8,155.8 327.9,151.3 328.3,146.0 C328.6,140.8 329.8,134.4 330.7,128.0 C331.6,121.7 332.6,113.8 333.6,107.8 C334.6,101.8 335.7,95.5 336.8,92.1 C337.9,88.6 340.2,88.4 340.3,87.0 C340.5,85.6 337.9,84.7 337.7,83.6 C337.5,82.6 338.0,81.6 339.1,80.8 C340.2,80.1 343.1,80.1 344.2,79.1 C345.3,78.2 345.3,76.8 346.0,75.2 C346.7,73.6 347.4,71.5 348.2,69.6 C349.1,67.7 350.2,65.5 351.2,64.0 C352.1,62.5 353.0,60.6 353.8,60.6 Z" fill="#000" filter="url(#furf)" opacity="0.13"/>
<path d="M351.6,49 L356.0,49 L356.4,56.6 C358.8,60.6 362.3,67.6 363.8,73.6 Q353.8,75.1 343.8,73.6 C345.3,67.6 348.8,60.6 351.2,56.6 Z" fill="url(#coneg)" opacity="0.45"/>
<rect x="351.6" y="49" width="1.1" height="11.6" fill="#bdbdbd" opacity="0.85"/>
<rect x="354.7" y="49" width="1.1" height="11.6" fill="#c8c8c8" opacity="0.85"/>
<path d="M344.3,73.1 Q353.8,75.1 363.3,73.1" fill="none" stroke="#8a8a8a" stroke-width="0.7" opacity="0.7"/>
<g filter="url(#hblur)"><path d="M331.0,125.0h1v1h-1zM335.5,92.5 335.5,94.5 336.5,95.5 336.5,96.5 335.5,97.5 334.5,97.5 333.5,98.5 333.5,102.5 334.5,103.5 334.5,104.5 333.5,105.5 333.5,108.5 332.5,109.5 331.5,109.5 331.5,111.5 332.5,111.5 333.5,112.5 333.5,114.5 334.5,115.5 334.5,117.5 333.5,118.5 333.5,119.5 334.5,120.5 334.5,128.5 335.5,129.5 335.5,131.5 336.5,131.5 337.5,130.5 338.5,131.5 338.5,133.5 339.5,133.5 341.5,135.5 342.5,135.5 342.5,134.5 344.5,132.5 345.5,132.5 346.5,133.5 350.5,133.5 351.5,134.5 352.5,134.5 353.5,133.5 355.5,133.5 356.5,134.5 357.5,133.5 362.5,133.5 363.5,132.5 365.5,132.5 366.5,133.5 368.5,133.5 368.5,131.5 369.5,130.5 370.5,130.5 371.5,129.5 371.5,127.5 370.5,126.5 370.5,124.5 371.5,123.5 371.5,122.5 372.5,121.5 372.5,120.5 371.5,119.5 371.5,117.5 372.5,116.5 371.5,115.5 371.5,109.5 372.5,108.5 372.5,107.5 371.5,106.5 371.5,105.5 370.5,104.5 370.5,103.5 372.5,101.5 369.5,98.5 369.5,94.5 367.5,96.5 365.5,94.5 361.5,94.5 360.5,93.5 358.5,95.5 357.5,95.5 355.5,93.5 355.5,92.5 354.5,92.5 352.5,94.5 351.5,94.5 350.5,93.5 350.5,92.5 340.5,92.5 340.5,93.5 339.5,94.5 337.5,94.5zM332.5,109.5 333.5,108.5 334.5,109.5 333.5,110.5z" fill="#7410ff" stroke="#7410ff" stroke-width="0.8" stroke-linejoin="round" fill-rule="evenodd"/><path d="M342.5,92.5 342.5,93.5 339.5,96.5 338.5,96.5 335.5,99.5 335.5,102.5 336.5,103.5 336.5,104.5 335.5,105.5 335.5,108.5 336.5,109.5 334.5,111.5 335.5,112.5 335.5,114.5 336.5,115.5 336.5,117.5 335.5,118.5 335.5,119.5 336.5,120.5 336.5,128.5 337.5,128.5 340.5,131.5 340.5,132.5 341.5,133.5 344.5,130.5 345.5,130.5 346.5,131.5 350.5,131.5 351.5,132.5 352.5,132.5 353.5,131.5 355.5,131.5 356.5,132.5 357.5,131.5 362.5,131.5 363.5,130.5 365.5,130.5 366.5,131.5 369.5,128.5 369.5,127.5 368.5,126.5 368.5,124.5 369.5,123.5 369.5,122.5 370.5,121.5 370.5,120.5 369.5,119.5 369.5,117.5 370.5,116.5 369.5,115.5 369.5,109.5 370.5,108.5 370.5,107.5 369.5,106.5 369.5,105.5 368.5,104.5 368.5,103.5 370.5,101.5 365.5,96.5 361.5,96.5 360.5,95.5 358.5,97.5 357.5,97.5 354.5,94.5 352.5,96.5 351.5,96.5 348.5,93.5 348.5,92.5z" fill="#1c22ff" stroke="#1c22ff" stroke-width="0.8" stroke-linejoin="round" fill-rule="evenodd"/><path d="M344.5,92.5 344.5,94.5 343.5,95.5 343.5,96.5 342.5,97.5 341.5,97.5 340.5,98.5 339.5,98.5 339.5,99.5 338.5,100.5 337.5,100.5 337.5,101.5 338.5,102.5 338.5,104.5 337.5,105.5 337.5,108.5 338.5,109.5 337.5,110.5 337.5,114.5 338.5,115.5 338.5,117.5 337.5,118.5 337.5,119.5 338.5,120.5 338.5,126.5 339.5,127.5 340.5,127.5 341.5,128.5 341.5,129.5 342.5,129.5 343.5,128.5 345.5,128.5 346.5,129.5 361.5,129.5 362.5,128.5 365.5,128.5 366.5,127.5 366.5,123.5 368.5,121.5 368.5,120.5 367.5,119.5 368.5,118.5 368.5,111.5 367.5,110.5 367.5,109.5 368.5,108.5 368.5,107.5 367.5,106.5 367.5,105.5 366.5,104.5 366.5,103.5 367.5,102.5 366.5,101.5 366.5,100.5 365.5,99.5 364.5,99.5 363.5,98.5 360.5,98.5 359.5,99.5 355.5,99.5 354.5,98.5 350.5,98.5 349.5,97.5 348.5,97.5 347.5,96.5 347.5,95.5 346.5,94.5 346.5,92.5z" fill="#0a6cff" stroke="#0a6cff" stroke-width="0.8" stroke-linejoin="round" fill-rule="evenodd"/><path d="M345.5,95.5 345.5,96.5 342.5,99.5 341.5,99.5 339.5,101.5 339.5,102.5 340.5,103.5 339.5,104.5 339.5,105.5 338.5,106.5 338.5,108.5 339.5,109.5 338.5,110.5 338.5,114.5 339.5,115.5 339.5,118.5 338.5,119.5 339.5,120.5 339.5,125.5 340.5,126.5 341.5,126.5 342.5,127.5 350.5,127.5 351.5,128.5 352.5,128.5 353.5,127.5 355.5,127.5 356.5,128.5 357.5,127.5 364.5,127.5 365.5,126.5 365.5,123.5 366.5,122.5 366.5,121.5 367.5,120.5 366.5,119.5 367.5,118.5 367.5,112.5 366.5,111.5 366.5,109.5 367.5,108.5 367.5,107.5 366.5,106.5 366.5,105.5 365.5,104.5 365.5,101.5 364.5,100.5 359.5,100.5 358.5,101.5 357.5,101.5 356.5,100.5 351.5,100.5 350.5,99.5 348.5,99.5 345.5,96.5zM344.5,115.5 345.5,115.5 346.5,116.5 346.5,118.5 345.5,119.5 344.5,119.5 342.5,117.5z" fill="#00c8ff" stroke="#00c8ff" stroke-width="0.8" stroke-linejoin="round" fill-rule="evenodd"/><path d="M343.5,99.5 341.5,101.5 341.5,103.5 340.5,104.5 340.5,105.5 339.5,106.5 339.5,114.5 340.5,115.5 340.5,118.5 339.5,119.5 340.5,120.5 340.5,124.5 341.5,125.5 342.5,125.5 343.5,126.5 344.5,125.5 345.5,126.5 350.5,126.5 351.5,127.5 352.5,127.5 353.5,126.5 358.5,126.5 359.5,125.5 360.5,126.5 362.5,126.5 364.5,124.5 364.5,123.5 365.5,122.5 365.5,121.5 366.5,120.5 365.5,119.5 366.5,118.5 366.5,117.5 367.5,116.5 366.5,115.5 366.5,111.5 365.5,110.5 365.5,109.5 366.5,108.5 366.5,107.5 365.5,106.5 365.5,105.5 364.5,104.5 364.5,102.5 363.5,101.5 360.5,101.5 359.5,102.5 357.5,102.5 356.5,101.5 355.5,101.5 354.5,102.5 352.5,102.5 350.5,100.5 347.5,100.5 346.5,99.5zM352.5,123.5 353.5,122.5 354.5,122.5 355.5,123.5 354.5,124.5 353.5,124.5zM344.5,114.5 345.5,115.5 346.5,115.5 347.5,116.5 347.5,118.5 346.5,119.5 343.5,119.5 342.5,118.5 342.5,116.5zM352.5,103.5 353.5,102.5 354.5,102.5 355.5,103.5 355.5,105.5 354.5,106.5 353.5,106.5 352.5,105.5z" fill="#00f0d8" stroke="#00f0d8" stroke-width="0.8" stroke-linejoin="round" fill-rule="evenodd"/><path d="M360.5,102.5 362.5,104.5 361.5,105.5 357.5,105.5 357.5,107.5 356.5,108.5 355.5,108.5 355.5,112.5 356.5,113.5 356.5,115.5 355.5,116.5 354.5,116.5 353.5,115.5 353.5,114.5 350.5,111.5 350.5,109.5 349.5,108.5 349.5,107.5 350.5,106.5 349.5,105.5 346.5,105.5 345.5,106.5 344.5,106.5 343.5,107.5 342.5,106.5 342.5,105.5 343.5,104.5 341.5,104.5 341.5,105.5 339.5,107.5 340.5,108.5 340.5,109.5 339.5,110.5 339.5,111.5 340.5,112.5 340.5,114.5 341.5,115.5 341.5,117.5 340.5,118.5 340.5,119.5 341.5,120.5 341.5,123.5 342.5,123.5 343.5,124.5 345.5,124.5 346.5,125.5 347.5,125.5 346.5,124.5 346.5,123.5 345.5,123.5 344.5,122.5 344.5,120.5 343.5,120.5 341.5,118.5 341.5,116.5 343.5,114.5 345.5,114.5 347.5,116.5 347.5,120.5 348.5,120.5 349.5,121.5 349.5,122.5 350.5,123.5 350.5,121.5 349.5,120.5 352.5,117.5 354.5,117.5 355.5,118.5 356.5,118.5 358.5,120.5 357.5,121.5 359.5,123.5 361.5,121.5 362.5,122.5 362.5,123.5 363.5,123.5 364.5,122.5 364.5,120.5 365.5,119.5 365.5,118.5 366.5,117.5 366.5,114.5 365.5,113.5 365.5,110.5 364.5,109.5 365.5,108.5 365.5,106.5 362.5,103.5 362.5,102.5z" fill="#18f070" stroke="#18f070" stroke-width="0.8" stroke-linejoin="round" fill-rule="evenodd"/><path d="M341.5,107.5 340.5,108.5 340.5,111.5 341.5,112.5 341.5,114.5 342.5,114.5 343.5,113.5 344.5,113.5 345.5,114.5 346.5,114.5 348.5,116.5 348.5,117.5 350.5,117.5 351.5,116.5 353.5,116.5 352.5,115.5 352.5,114.5 349.5,111.5 349.5,110.5 348.5,109.5 347.5,109.5 345.5,107.5 344.5,108.5 342.5,108.5zM359.5,106.5 359.5,109.5 357.5,111.5 356.5,111.5 356.5,113.5 357.5,114.5 357.5,116.5 359.5,118.5 360.5,118.5 361.5,119.5 363.5,119.5 366.5,116.5 365.5,115.5 365.5,113.5 364.5,112.5 364.5,111.5 363.5,110.5 363.5,109.5 362.5,108.5 360.5,108.5 359.5,107.5z" fill="#40f020" stroke="#40f020" stroke-width="0.8" stroke-linejoin="round" fill-rule="evenodd"/><path d="M361.5,110.5 360.5,111.5 357.5,111.5 357.5,113.5 358.5,114.5 358.5,115.5 359.5,115.5 360.5,116.5 361.5,116.5 362.5,117.5 364.5,117.5 365.5,116.5 365.5,114.5 364.5,113.5 364.5,112.5 363.5,111.5 362.5,111.5zM341.5,109.5 341.5,110.5 344.5,113.5 345.5,113.5 346.5,114.5 347.5,114.5 348.5,115.5 351.5,115.5 351.5,114.5 346.5,109.5z" fill="#b8f000" stroke="#b8f000" stroke-width="0.8" stroke-linejoin="round" fill-rule="evenodd"/><path d="M359.5,111.5 358.5,112.5 358.5,113.5 361.5,116.5 362.5,116.5 363.5,117.5 364.5,116.5 365.5,116.5 364.5,115.5 364.5,113.5 363.5,113.5 362.5,112.5 361.5,112.5 360.5,111.5zM342.5,109.5 342.5,110.5 345.5,113.5 346.5,113.5 347.5,114.5 348.5,114.5 349.5,115.5 350.5,115.5 350.5,113.5 349.5,112.5 348.5,112.5 346.5,110.5 345.5,110.5 344.5,109.5z" fill="#fff000" stroke="#fff000" stroke-width="0.8" stroke-linejoin="round" fill-rule="evenodd"/><path d="M359.5,112.5 359.5,114.5 360.5,114.5 362.5,116.5 364.5,116.5 364.5,114.5 363.5,113.5 362.5,113.5 361.5,112.5zM343.5,110.5 346.5,113.5 347.5,113.5 348.5,114.5 350.5,114.5 347.5,111.5 346.5,111.5 345.5,110.5z" fill="#ff9800" stroke="#ff9800" stroke-width="0.8" stroke-linejoin="round" fill-rule="evenodd"/><path d="M359.5,113.5 361.5,115.5 364.5,115.5 362.5,113.5zM344.5,110.5 344.5,111.5 345.5,112.5 346.5,112.5 347.5,113.5 348.5,113.5 349.5,114.5 349.5,113.5 348.5,113.5 346.5,111.5 345.5,111.5z" fill="#ff1400" stroke="#ff1400" stroke-width="0.8" stroke-linejoin="round" fill-rule="evenodd"/></g>
<rect x="318.5" y="43.5" width="68" height="168" fill="none" stroke="#151515" stroke-width="1"/>
</g>
<clipPath id="c98_247"><rect x="98" y="247" width="69" height="168"/></clipPath>
<g clip-path="url(#c98_247)">
<rect x="98" y="247" width="69" height="168" fill="#2d2d2d"/>
<rect x="98" y="247" width="69" height="168" fill="#000" filter="url(#bgn)" opacity="0.6"/>
<rect x="98" y="247" width="69" height="34" fill="#262626"/>
<rect x="98" y="248" width="69" height="4.5" fill="#444444"/>
<rect x="98" y="252.5" width="69" height="1" fill="#1e1e1e"/>
<g filter="url(#soft)"><rect x="100" y="255" width="2.6" height="22" fill="#474747"/><rect x="117.5" y="255" width="2.6" height="22" fill="#474747"/><rect x="145" y="255" width="2.6" height="22" fill="#474747"/><rect x="156.5" y="255" width="2.6" height="22" fill="#474747"/><rect x="104" y="254" width="2.4" height="24" fill="#1a1a1a"/><rect x="114" y="254" width="2.4" height="24" fill="#1a1a1a"/><rect x="121" y="254" width="2.4" height="24" fill="#1a1a1a"/><rect x="142" y="254" width="2.4" height="24" fill="#1a1a1a"/><rect x="151" y="254" width="2.4" height="24" fill="#1a1a1a"/><rect x="161" y="254" width="2.4" height="24" fill="#1a1a1a"/></g>
<path d="M110.0,368.0 L104.0,380.0 L100.0,392.0" fill="none" stroke="#8e8e8e" stroke-width="5.75" stroke-linecap="round" stroke-linejoin="round"/>
<path d="M110.0,368.0 L104.0,380.0 L100.0,392.0" fill="none" stroke="#b4b4b4" stroke-width="2.75" stroke-linecap="round" stroke-linejoin="round"/>
<ellipse cx="100.0" cy="392.0" rx="5.0" ry="3.5" fill="#9c9c9c" transform="rotate(108 100.0 392.0)"/>
<path d="M152.0,368.0 L158.0,380.0 L163.0,394.0" fill="none" stroke="#8e8e8e" stroke-width="5.75" stroke-linecap="round" stroke-linejoin="round"/>
<path d="M152.0,368.0 L158.0,380.0 L163.0,394.0" fill="none" stroke="#b4b4b4" stroke-width="2.75" stroke-linecap="round" stroke-linejoin="round"/>
<ellipse cx="163.0" cy="394.0" rx="5.0" ry="3.5" fill="#9c9c9c" transform="rotate(70 163.0 394.0)"/>
<path d="M131.0,372.0 Q128.0,393.5 125.0,418.0" fill="none" stroke="#a8a8a8" stroke-width="4.2" stroke-linecap="round"/>
<path d="M131.0,372.0 Q128.0,393.5 125.0,418.0" fill="none" stroke="#cdcdcd" stroke-width="2.2" stroke-linecap="round"/>
<g filter="url(#bodyf)"><path d="M136.3,265.0 C137.3,265.0 138.1,266.8 139.1,268.3 C140.1,269.8 141.4,272.0 142.3,273.9 C143.2,275.7 143.9,277.9 144.6,279.4 C145.3,281.0 145.2,282.4 146.5,283.3 C147.8,284.2 151.1,284.2 152.4,285.0 C153.6,285.7 154.1,286.7 153.9,287.8 C153.6,288.8 150.5,289.7 150.7,291.1 C150.8,292.5 153.5,292.7 154.6,296.1 C155.8,299.5 156.8,305.7 157.7,311.6 C158.7,317.5 159.7,325.3 160.5,331.6 C161.3,337.9 162.5,344.2 162.7,349.4 C162.9,354.5 162.7,359.0 161.7,362.7 C160.6,366.4 160.8,369.3 156.3,371.6 C151.8,373.9 142.0,376.5 134.8,376.5 C127.7,376.5 117.8,373.9 113.4,371.6 C109.0,369.3 109.3,366.4 108.3,362.7 C107.3,359.0 107.3,354.5 107.7,349.4 C108.0,344.2 109.3,337.9 110.3,331.6 C111.3,325.3 112.5,317.5 113.6,311.6 C114.7,305.7 115.8,299.5 117.1,296.1 C118.4,292.7 121.1,292.5 121.2,291.1 C121.4,289.7 118.4,288.8 118.1,287.8 C117.9,286.7 118.5,285.7 119.7,285.0 C121.0,284.2 124.3,284.2 125.6,283.3 C126.9,282.4 126.9,281.0 127.6,279.4 C128.4,277.9 129.1,275.7 130.1,273.9 C131.0,272.0 132.3,269.8 133.4,268.3 C134.4,266.8 135.3,265.0 136.3,265.0 Z" fill="url(#bodyg)"/><path d="M136.3,265.0 C137.3,265.0 138.1,266.8 139.1,268.3 C140.1,269.8 141.4,272.0 142.3,273.9 C143.2,275.7 143.9,277.9 144.6,279.4 C145.3,281.0 145.2,282.4 146.5,283.3 C147.8,284.2 151.1,284.2 152.4,285.0 C153.6,285.7 154.1,286.7 153.9,287.8 C153.6,288.8 150.5,289.7 150.7,291.1 C150.8,292.5 153.5,292.7 154.6,296.1 C155.8,299.5 156.8,305.7 157.7,311.6 C158.7,317.5 159.7,325.3 160.5,331.6 C161.3,337.9 162.5,344.2 162.7,349.4 C162.9,354.5 162.7,359.0 161.7,362.7 C160.6,366.4 160.8,369.3 156.3,371.6 C151.8,373.9 142.0,376.5 134.8,376.5 C127.7,376.5 117.8,373.9 113.4,371.6 C109.0,369.3 109.3,366.4 108.3,362.7 C107.3,359.0 107.3,354.5 107.7,349.4 C108.0,344.2 109.3,337.9 110.3,331.6 C111.3,325.3 112.5,317.5 113.6,311.6 C114.7,305.7 115.8,299.5 117.1,296.1 C118.4,292.7 121.1,292.5 121.2,291.1 C121.4,289.7 118.4,288.8 118.1,287.8 C117.9,286.7 118.5,285.7 119.7,285.0 C121.0,284.2 124.3,284.2 125.6,283.3 C126.9,282.4 126.9,281.0 127.6,279.4 C128.4,277.9 129.1,275.7 130.1,273.9 C131.0,272.0 132.3,269.8 133.4,268.3 C134.4,266.8 135.3,265.0 136.3,265.0 Z" fill="url(#bodyv)"/></g>
<path d="M136.3,265.0 C137.3,265.0 138.1,266.8 139.1,268.3 C140.1,269.8 141.4,272.0 142.3,273.9 C143.2,275.7 143.9,277.9 144.6,279.4 C145.3,281.0 145.2,282.4 146.5,283.3 C147.8,284.2 151.1,284.2 152.4,285.0 C153.6,285.7 154.1,286.7 153.9,287.8 C153.6,288.8 150.5,289.7 150.7,291.1 C150.8,292.5 153.5,292.7 154.6,296.1 C155.8,299.5 156.8,305.7 157.7,311.6 C158.7,317.5 159.7,325.3 160.5,331.6 C161.3,337.9 162.5,344.2 162.7,349.4 C162.9,354.5 162.7,359.0 161.7,362.7 C160.6,366.4 160.8,369.3 156.3,371.6 C151.8,373.9 142.0,376.5 134.8,376.5 C127.7,376.5 117.8,373.9 113.4,371.6 C109.0,369.3 109.3,366.4 108.3,362.7 C107.3,359.0 107.3,354.5 107.7,349.4 C108.0,344.2 109.3,337.9 110.3,331.6 C111.3,325.3 112.5,317.5 113.6,311.6 C114.7,305.7 115.8,299.5 117.1,296.1 C118.4,292.7 121.1,292.5 121.2,291.1 C121.4,289.7 118.4,288.8 118.1,287.8 C117.9,286.7 118.5,285.7 119.7,285.0 C121.0,284.2 124.3,284.2 125.6,283.3 C126.9,282.4 126.9,281.0 127.6,279.4 C128.4,277.9 129.1,275.7 130.1,273.9 C131.0,272.0 132.3,269.8 133.4,268.3 C134.4,266.8 135.3,265.0 136.3,265.0 Z" fill="#000" filter="url(#furf)" opacity="0.13"/>
<path d="M134.1,253 L138.5,253 L138.9,261.0 C141.3,265.0 144.8,272.0 146.3,278.0 Q136.3,279.5 126.3,278.0 C127.8,272.0 131.3,265.0 133.7,261.0 Z" fill="url(#coneg)" opacity="0.45"/>
<rect x="134.1" y="253" width="1.1" height="12.0" fill="#bdbdbd" opacity="0.85"/>
<rect x="137.2" y="253" width="1.1" height="12.0" fill="#c8c8c8" opacity="0.85"/>
<path d="M126.8,277.5 Q136.3,279.5 145.8,277.5" fill="none" stroke="#8a8a8a" stroke-width="0.7" opacity="0.7"/>
<g filter="url(#hblur)"><path d="M141.0,330.0h1v1h-1zM121.5,298.5 120.5,299.5 119.5,299.5 117.5,301.5 117.5,303.5 116.5,304.5 116.5,307.5 114.5,309.5 113.5,309.5 115.5,311.5 115.5,312.5 116.5,313.5 115.5,314.5 113.5,314.5 113.5,316.5 115.5,316.5 116.5,317.5 116.5,319.5 114.5,321.5 113.5,321.5 113.5,322.5 115.5,322.5 116.5,323.5 117.5,323.5 118.5,324.5 118.5,326.5 119.5,327.5 122.5,327.5 123.5,328.5 123.5,329.5 122.5,330.5 123.5,330.5 124.5,329.5 126.5,329.5 127.5,330.5 129.5,330.5 129.5,329.5 130.5,328.5 131.5,329.5 132.5,329.5 133.5,328.5 134.5,328.5 135.5,327.5 137.5,327.5 138.5,328.5 139.5,328.5 140.5,327.5 142.5,327.5 143.5,328.5 145.5,328.5 146.5,329.5 147.5,329.5 148.5,328.5 150.5,328.5 153.5,325.5 153.5,323.5 155.5,321.5 156.5,321.5 156.5,310.5 155.5,309.5 155.5,307.5 154.5,306.5 154.5,305.5 153.5,304.5 152.5,304.5 151.5,303.5 148.5,303.5 147.5,302.5 145.5,302.5 144.5,303.5 143.5,302.5 142.5,302.5 141.5,301.5 139.5,303.5 138.5,303.5 137.5,302.5 135.5,302.5 134.5,301.5 130.5,301.5 128.5,299.5 128.5,298.5 127.5,299.5 126.5,299.5 125.5,300.5 123.5,298.5z" fill="#7410ff" stroke="#7410ff" stroke-width="0.8" stroke-linejoin="round" fill-rule="evenodd"/><path d="M121.5,300.5 120.5,301.5 119.5,301.5 119.5,303.5 118.5,304.5 118.5,307.5 116.5,309.5 116.5,310.5 117.5,311.5 117.5,312.5 118.5,313.5 116.5,315.5 118.5,317.5 118.5,319.5 116.5,321.5 117.5,321.5 120.5,324.5 120.5,325.5 122.5,325.5 124.5,327.5 126.5,327.5 127.5,328.5 128.5,328.5 130.5,326.5 131.5,327.5 132.5,327.5 133.5,326.5 134.5,326.5 135.5,325.5 137.5,325.5 138.5,326.5 139.5,326.5 140.5,325.5 142.5,325.5 143.5,326.5 145.5,326.5 146.5,327.5 147.5,327.5 148.5,326.5 150.5,326.5 151.5,325.5 151.5,323.5 155.5,319.5 156.5,319.5 156.5,312.5 153.5,309.5 153.5,307.5 151.5,305.5 148.5,305.5 147.5,304.5 145.5,304.5 144.5,305.5 143.5,304.5 142.5,304.5 141.5,303.5 139.5,305.5 138.5,305.5 137.5,304.5 135.5,304.5 134.5,303.5 130.5,303.5 128.5,301.5 126.5,301.5 125.5,302.5 123.5,300.5z" fill="#1c22ff" stroke="#1c22ff" stroke-width="0.8" stroke-linejoin="round" fill-rule="evenodd"/><path d="M121.5,302.5 120.5,303.5 120.5,304.5 119.5,305.5 119.5,308.5 117.5,310.5 118.5,311.5 118.5,312.5 119.5,313.5 118.5,314.5 118.5,316.5 119.5,317.5 119.5,321.5 121.5,323.5 121.5,324.5 123.5,324.5 124.5,325.5 125.5,325.5 126.5,326.5 127.5,326.5 128.5,325.5 132.5,325.5 133.5,324.5 139.5,324.5 140.5,323.5 141.5,324.5 145.5,324.5 146.5,325.5 147.5,325.5 148.5,324.5 149.5,324.5 149.5,323.5 150.5,322.5 150.5,321.5 153.5,318.5 155.5,318.5 156.5,317.5 156.5,314.5 155.5,313.5 154.5,313.5 152.5,311.5 152.5,309.5 151.5,308.5 151.5,307.5 150.5,307.5 149.5,306.5 136.5,306.5 135.5,305.5 133.5,305.5 132.5,304.5 128.5,304.5 127.5,303.5 123.5,303.5 122.5,302.5z" fill="#0a6cff" stroke="#0a6cff" stroke-width="0.8" stroke-linejoin="round" fill-rule="evenodd"/><path d="M122.5,303.5 121.5,304.5 121.5,305.5 120.5,306.5 120.5,308.5 119.5,309.5 119.5,312.5 120.5,313.5 119.5,314.5 119.5,316.5 120.5,317.5 120.5,320.5 123.5,323.5 124.5,323.5 125.5,324.5 126.5,324.5 127.5,325.5 128.5,324.5 132.5,324.5 133.5,323.5 134.5,323.5 135.5,322.5 137.5,322.5 138.5,323.5 139.5,323.5 140.5,322.5 142.5,322.5 143.5,323.5 148.5,323.5 148.5,322.5 149.5,321.5 149.5,320.5 150.5,319.5 151.5,319.5 153.5,317.5 154.5,317.5 155.5,316.5 156.5,316.5 156.5,315.5 155.5,314.5 154.5,314.5 152.5,312.5 152.5,311.5 151.5,310.5 151.5,309.5 150.5,308.5 149.5,308.5 148.5,307.5 137.5,307.5 136.5,306.5 133.5,306.5 132.5,305.5 128.5,305.5 127.5,304.5 126.5,304.5 125.5,305.5 124.5,304.5 123.5,304.5z" fill="#00c8ff" stroke="#00c8ff" stroke-width="0.8" stroke-linejoin="round" fill-rule="evenodd"/><path d="M122.5,304.5 121.5,305.5 121.5,308.5 119.5,310.5 120.5,311.5 120.5,316.5 121.5,317.5 121.5,320.5 122.5,321.5 122.5,322.5 123.5,322.5 124.5,323.5 126.5,323.5 127.5,324.5 128.5,324.5 129.5,323.5 132.5,323.5 133.5,322.5 139.5,322.5 140.5,321.5 142.5,321.5 143.5,322.5 147.5,322.5 149.5,320.5 149.5,319.5 151.5,317.5 152.5,317.5 153.5,316.5 154.5,316.5 155.5,315.5 154.5,315.5 151.5,312.5 151.5,311.5 150.5,310.5 150.5,309.5 149.5,308.5 142.5,308.5 141.5,307.5 140.5,308.5 137.5,308.5 136.5,307.5 134.5,307.5 133.5,306.5 129.5,306.5 128.5,305.5 123.5,305.5z" fill="#00f0d8" stroke="#00f0d8" stroke-width="0.8" stroke-linejoin="round" fill-rule="evenodd"/><path d="M122.5,305.5 122.5,307.5 121.5,308.5 121.5,309.5 120.5,310.5 120.5,312.5 121.5,313.5 121.5,314.5 120.5,315.5 121.5,316.5 121.5,319.5 122.5,320.5 122.5,321.5 123.5,322.5 125.5,322.5 126.5,323.5 128.5,323.5 129.5,322.5 133.5,322.5 134.5,321.5 139.5,321.5 140.5,320.5 141.5,320.5 142.5,321.5 147.5,321.5 153.5,315.5 152.5,315.5 151.5,314.5 151.5,312.5 150.5,311.5 150.5,310.5 149.5,309.5 147.5,309.5 146.5,308.5 145.5,308.5 144.5,309.5 143.5,308.5 141.5,308.5 140.5,309.5 138.5,309.5 137.5,308.5 135.5,308.5 134.5,307.5 130.5,307.5 129.5,306.5 128.5,306.5 127.5,305.5 126.5,305.5 125.5,306.5 124.5,306.5 123.5,305.5z" fill="#18f070" stroke="#18f070" stroke-width="0.8" stroke-linejoin="round" fill-rule="evenodd"/><path d="M126.5,306.5 125.5,307.5 123.5,307.5 121.5,309.5 121.5,316.5 122.5,317.5 122.5,319.5 123.5,320.5 123.5,321.5 124.5,321.5 125.5,322.5 129.5,322.5 130.5,321.5 131.5,322.5 132.5,322.5 133.5,321.5 134.5,321.5 135.5,320.5 143.5,320.5 144.5,321.5 145.5,320.5 147.5,320.5 151.5,316.5 151.5,315.5 150.5,314.5 150.5,311.5 149.5,310.5 148.5,310.5 147.5,309.5 137.5,309.5 136.5,308.5 134.5,308.5 133.5,307.5 128.5,307.5 127.5,306.5z" fill="#40f020" stroke="#40f020" stroke-width="0.8" stroke-linejoin="round" fill-rule="evenodd"/><path d="M124.5,307.5 121.5,310.5 121.5,311.5 122.5,312.5 122.5,314.5 121.5,315.5 122.5,316.5 122.5,318.5 124.5,320.5 124.5,321.5 132.5,321.5 133.5,320.5 134.5,320.5 135.5,319.5 137.5,319.5 138.5,320.5 140.5,318.5 141.5,319.5 143.5,319.5 144.5,320.5 145.5,319.5 146.5,319.5 147.5,318.5 148.5,318.5 150.5,316.5 150.5,312.5 148.5,310.5 147.5,310.5 146.5,309.5 145.5,309.5 144.5,310.5 143.5,309.5 141.5,309.5 140.5,310.5 138.5,310.5 137.5,309.5 135.5,309.5 134.5,308.5 130.5,308.5 129.5,307.5 126.5,307.5 125.5,308.5z" fill="#b8f000" stroke="#b8f000" stroke-width="0.8" stroke-linejoin="round" fill-rule="evenodd"/><path d="M123.5,308.5 123.5,309.5 122.5,310.5 122.5,316.5 123.5,317.5 123.5,318.5 125.5,320.5 132.5,320.5 133.5,319.5 134.5,319.5 135.5,318.5 137.5,318.5 138.5,317.5 142.5,317.5 143.5,318.5 146.5,318.5 147.5,317.5 148.5,317.5 149.5,316.5 149.5,312.5 147.5,310.5 140.5,310.5 139.5,311.5 138.5,311.5 137.5,310.5 136.5,310.5 135.5,309.5 133.5,309.5 132.5,308.5 126.5,308.5 125.5,309.5 124.5,308.5z" fill="#fff000" stroke="#fff000" stroke-width="0.8" stroke-linejoin="round" fill-rule="evenodd"/><path d="M129.5,308.5 128.5,309.5 126.5,309.5 125.5,310.5 123.5,310.5 123.5,316.5 124.5,317.5 124.5,318.5 126.5,318.5 127.5,319.5 128.5,319.5 129.5,318.5 130.5,319.5 131.5,318.5 132.5,318.5 133.5,317.5 135.5,317.5 136.5,316.5 137.5,316.5 138.5,315.5 139.5,315.5 140.5,316.5 143.5,316.5 144.5,317.5 146.5,317.5 148.5,315.5 148.5,314.5 149.5,313.5 146.5,310.5 145.5,311.5 141.5,311.5 141.5,312.5 140.5,313.5 137.5,313.5 134.5,310.5 132.5,310.5 131.5,309.5 130.5,309.5z" fill="#ff9800" stroke="#ff9800" stroke-width="0.8" stroke-linejoin="round" fill-rule="evenodd"/><path d="M142.5,311.5 142.5,312.5 140.5,314.5 141.5,315.5 142.5,315.5 143.5,316.5 146.5,316.5 148.5,314.5 148.5,312.5 147.5,312.5 146.5,311.5zM129.5,309.5 128.5,310.5 126.5,310.5 125.5,311.5 124.5,311.5 124.5,313.5 123.5,314.5 123.5,315.5 124.5,316.5 124.5,317.5 125.5,317.5 126.5,318.5 127.5,318.5 128.5,317.5 132.5,317.5 132.5,316.5 135.5,313.5 135.5,312.5 134.5,311.5 132.5,311.5 131.5,310.5 130.5,310.5z" fill="#ff1400" stroke="#ff1400" stroke-width="0.8" stroke-linejoin="round" fill-rule="evenodd"/></g>
<rect x="98.5" y="247.5" width="68" height="167" fill="none" stroke="#151515" stroke-width="1"/>
</g>
<clipPath id="c171_247"><rect x="171" y="247" width="70" height="168"/></clipPath>
<g clip-path="url(#c171_247)">
<rect x="171" y="247" width="70" height="168" fill="#2d2d2d"/>
<rect x="171" y="247" width="70" height="168" fill="#000" filter="url(#bgn)" opacity="0.6"/>
<rect x="171" y="247" width="70" height="34" fill="#262626"/>
<rect x="171" y="248" width="70" height="4.5" fill="#444444"/>
<rect x="171" y="252.5" width="70" height="1" fill="#1e1e1e"/>
<g filter="url(#soft)"><rect x="173" y="255" width="2.6" height="22" fill="#474747"/><rect x="190.5" y="255" width="2.6" height="22" fill="#474747"/><rect x="218" y="255" width="2.6" height="22" fill="#474747"/><rect x="229.5" y="255" width="2.6" height="22" fill="#474747"/><rect x="177" y="254" width="2.4" height="24" fill="#1a1a1a"/><rect x="187" y="254" width="2.4" height="24" fill="#1a1a1a"/><rect x="194" y="254" width="2.4" height="24" fill="#1a1a1a"/><rect x="215" y="254" width="2.4" height="24" fill="#1a1a1a"/><rect x="224" y="254" width="2.4" height="24" fill="#1a1a1a"/><rect x="234" y="254" width="2.4" height="24" fill="#1a1a1a"/></g>
<path d="M186.0,292.0 L178.0,288.0 L175.0,284.0" fill="none" stroke="#8e8e8e" stroke-width="4.60" stroke-linecap="round" stroke-linejoin="round"/>
<path d="M186.0,292.0 L178.0,288.0 L175.0,284.0" fill="none" stroke="#b4b4b4" stroke-width="2.20" stroke-linecap="round" stroke-linejoin="round"/>
<ellipse cx="175.0" cy="284.0" rx="4.0" ry="2.8" fill="#9c9c9c" transform="rotate(-127 175.0 284.0)"/>
<path d="M186.0,368.0 L181.0,380.0 L177.0,386.0" fill="none" stroke="#8e8e8e" stroke-width="5.17" stroke-linecap="round" stroke-linejoin="round"/>
<path d="M186.0,368.0 L181.0,380.0 L177.0,386.0" fill="none" stroke="#b4b4b4" stroke-width="2.48" stroke-linecap="round" stroke-linejoin="round"/>
<ellipse cx="177.0" cy="386.0" rx="4.5" ry="3.1" fill="#9c9c9c" transform="rotate(124 177.0 386.0)"/>
<path d="M222.0,368.0 L230.0,380.0 L235.0,386.0" fill="none" stroke="#8e8e8e" stroke-width="5.17" stroke-linecap="round" stroke-linejoin="round"/>
<path d="M222.0,368.0 L230.0,380.0 L235.0,386.0" fill="none" stroke="#b4b4b4" stroke-width="2.48" stroke-linecap="round" stroke-linejoin="round"/>
<ellipse cx="235.0" cy="386.0" rx="4.5" ry="3.1" fill="#9c9c9c" transform="rotate(50 235.0 386.0)"/>
<path d="M208.0,376.0 Q213.0,395.5 218.0,418.0" fill="none" stroke="#a8a8a8" stroke-width="4.2" stroke-linecap="round"/>
<path d="M208.0,376.0 Q213.0,395.5 218.0,418.0" fill="none" stroke="#cdcdcd" stroke-width="2.2" stroke-linecap="round"/>
<g filter="url(#bodyf)"><path d="M199.8,265.0 C200.7,265.0 201.6,266.9 202.6,268.4 C203.5,269.9 204.8,272.2 205.7,274.0 C206.6,275.9 207.4,278.1 208.1,279.7 C208.8,281.3 208.8,282.7 210.0,283.6 C211.2,284.6 214.1,284.6 215.3,285.3 C216.4,286.1 216.9,287.1 216.7,288.2 C216.5,289.2 213.9,290.1 214.0,291.6 C214.2,293.0 216.6,293.2 217.8,296.6 C219.0,300.1 220.1,306.4 221.2,312.5 C222.3,318.5 223.5,326.4 224.5,332.8 C225.4,339.2 226.7,345.6 227.1,350.9 C227.5,356.2 227.7,360.7 227.0,364.4 C226.3,368.2 226.6,371.1 222.9,373.5 C219.2,375.8 210.9,378.5 204.8,378.5 C198.7,378.5 190.2,375.8 186.3,373.5 C182.4,371.1 182.4,368.2 181.4,364.4 C180.4,360.7 180.1,356.2 180.1,350.9 C180.1,345.6 180.7,339.2 181.1,332.8 C181.6,326.4 182.0,318.5 182.6,312.5 C183.2,306.4 183.7,300.1 184.6,296.6 C185.5,293.2 187.9,293.0 187.9,291.6 C188.0,290.1 185.2,289.2 184.9,288.2 C184.6,287.1 185.1,286.1 186.1,285.3 C187.2,284.6 190.2,284.6 191.3,283.6 C192.4,282.7 192.3,281.3 192.8,279.7 C193.4,278.1 194.0,275.9 194.7,274.0 C195.5,272.2 196.5,269.9 197.3,268.4 C198.2,266.9 198.9,265.0 199.8,265.0 Z" fill="url(#bodyg)"/><path d="M199.8,265.0 C200.7,265.0 201.6,266.9 202.6,268.4 C203.5,269.9 204.8,272.2 205.7,274.0 C206.6,275.9 207.4,278.1 208.1,279.7 C208.8,281.3 208.8,282.7 210.0,283.6 C211.2,284.6 214.1,284.6 215.3,285.3 C216.4,286.1 216.9,287.1 216.7,288.2 C216.5,289.2 213.9,290.1 214.0,291.6 C214.2,293.0 216.6,293.2 217.8,296.6 C219.0,300.1 220.1,306.4 221.2,312.5 C222.3,318.5 223.5,326.4 224.5,332.8 C225.4,339.2 226.7,345.6 227.1,350.9 C227.5,356.2 227.7,360.7 227.0,364.4 C226.3,368.2 226.6,371.1 222.9,373.5 C219.2,375.8 210.9,378.5 204.8,378.5 C198.7,378.5 190.2,375.8 186.3,373.5 C182.4,371.1 182.4,368.2 181.4,364.4 C180.4,360.7 180.1,356.2 180.1,350.9 C180.1,345.6 180.7,339.2 181.1,332.8 C181.6,326.4 182.0,318.5 182.6,312.5 C183.2,306.4 183.7,300.1 184.6,296.6 C185.5,293.2 187.9,293.0 187.9,291.6 C188.0,290.1 185.2,289.2 184.9,288.2 C184.6,287.1 185.1,286.1 186.1,285.3 C187.2,284.6 190.2,284.6 191.3,283.6 C192.4,282.7 192.3,281.3 192.8,279.7 C193.4,278.1 194.0,275.9 194.7,274.0 C195.5,272.2 196.5,269.9 197.3,268.4 C198.2,266.9 198.9,265.0 199.8,265.0 Z" fill="url(#bodyv)"/></g>
<path d="M199.8,265.0 C200.7,265.0 201.6,266.9 202.6,268.4 C203.5,269.9 204.8,272.2 205.7,274.0 C206.6,275.9 207.4,278.1 208.1,279.7 C208.8,281.3 208.8,282.7 210.0,283.6 C211.2,284.6 214.1,284.6 215.3,285.3 C216.4,286.1 216.9,287.1 216.7,288.2 C216.5,289.2 213.9,290.1 214.0,291.6 C214.2,293.0 216.6,293.2 217.8,296.6 C219.0,300.1 220.1,306.4 221.2,312.5 C222.3,318.5 223.5,326.4 224.5,332.8 C225.4,339.2 226.7,345.6 227.1,350.9 C227.5,356.2 227.7,360.7 227.0,364.4 C226.3,368.2 226.6,371.1 222.9,373.5 C219.2,375.8 210.9,378.5 204.8,378.5 C198.7,378.5 190.2,375.8 186.3,373.5 C182.4,371.1 182.4,368.2 181.4,364.4 C180.4,360.7 180.1,356.2 180.1,350.9 C180.1,345.6 180.7,339.2 181.1,332.8 C181.6,326.4 182.0,318.5 182.6,312.5 C183.2,306.4 183.7,300.1 184.6,296.6 C185.5,293.2 187.9,293.0 187.9,291.6 C188.0,290.1 185.2,289.2 184.9,288.2 C184.6,287.1 185.1,286.1 186.1,285.3 C187.2,284.6 190.2,284.6 191.3,283.6 C192.4,282.7 192.3,281.3 192.8,279.7 C193.4,278.1 194.0,275.9 194.7,274.0 C195.5,272.2 196.5,269.9 197.3,268.4 C198.2,266.9 198.9,265.0 199.8,265.0 Z" fill="#000" filter="url(#furf)" opacity="0.13"/>
<path d="M197.6,253 L202.0,253 L202.4,261.0 C204.8,265.0 208.3,272.0 209.8,278.0 Q199.8,279.5 189.8,278.0 C191.3,272.0 194.8,265.0 197.2,261.0 Z" fill="url(#coneg)" opacity="0.45"/>
<rect x="197.6" y="253" width="1.1" height="12.0" fill="#bdbdbd" opacity="0.85"/>
<rect x="200.7" y="253" width="1.1" height="12.0" fill="#c8c8c8" opacity="0.85"/>
<path d="M190.3,277.5 Q199.8,279.5 209.3,277.5" fill="none" stroke="#8a8a8a" stroke-width="0.7" opacity="0.7"/>
<rect x="207.0" y="374.1" width="3.0" height="3.0" fill="#7a20ff"/>
<g filter="url(#hblur)"><path d="M214.5,294.5 213.5,295.5 211.5,295.5 209.5,297.5 206.5,297.5 205.5,298.5 204.5,297.5 203.5,297.5 201.5,295.5 199.5,297.5 198.5,297.5 197.5,298.5 196.5,297.5 192.5,297.5 191.5,298.5 189.5,298.5 188.5,297.5 187.5,298.5 187.5,299.5 186.5,300.5 185.5,300.5 183.5,302.5 183.5,304.5 182.5,305.5 182.5,307.5 183.5,307.5 184.5,308.5 184.5,309.5 183.5,310.5 184.5,311.5 184.5,313.5 185.5,314.5 185.5,315.5 184.5,316.5 182.5,316.5 182.5,318.5 184.5,320.5 184.5,329.5 190.5,335.5 192.5,333.5 193.5,333.5 195.5,335.5 196.5,335.5 197.5,334.5 198.5,334.5 199.5,335.5 200.5,335.5 201.5,336.5 206.5,336.5 207.5,335.5 208.5,335.5 209.5,336.5 213.5,336.5 214.5,335.5 215.5,336.5 218.5,336.5 218.5,334.5 219.5,333.5 218.5,332.5 219.5,331.5 221.5,331.5 223.5,329.5 224.5,329.5 224.5,328.5 222.5,326.5 223.5,325.5 224.5,325.5 224.5,317.5 226.5,315.5 225.5,315.5 224.5,314.5 224.5,312.5 223.5,311.5 223.5,308.5 225.5,306.5 226.5,306.5 225.5,306.5 224.5,305.5 224.5,302.5 221.5,299.5 221.5,298.5 219.5,296.5 219.5,295.5 218.5,295.5 217.5,294.5z" fill="#7410ff" stroke="#7410ff" stroke-width="0.8" stroke-linejoin="round" fill-rule="evenodd"/><path d="M214.5,296.5 213.5,297.5 211.5,297.5 209.5,299.5 206.5,299.5 205.5,300.5 204.5,299.5 203.5,299.5 201.5,297.5 199.5,299.5 198.5,299.5 197.5,300.5 196.5,299.5 192.5,299.5 191.5,300.5 188.5,300.5 186.5,302.5 185.5,302.5 185.5,304.5 184.5,305.5 184.5,306.5 186.5,308.5 186.5,309.5 185.5,310.5 186.5,311.5 186.5,313.5 187.5,314.5 187.5,315.5 184.5,318.5 186.5,320.5 186.5,329.5 190.5,333.5 192.5,331.5 193.5,331.5 195.5,333.5 196.5,333.5 197.5,332.5 198.5,332.5 199.5,333.5 200.5,333.5 203.5,336.5 204.5,336.5 207.5,333.5 208.5,333.5 211.5,336.5 214.5,333.5 216.5,335.5 216.5,334.5 217.5,333.5 216.5,332.5 219.5,329.5 221.5,329.5 222.5,328.5 220.5,326.5 222.5,324.5 222.5,317.5 223.5,316.5 223.5,315.5 222.5,314.5 222.5,312.5 221.5,311.5 221.5,308.5 223.5,306.5 222.5,305.5 222.5,302.5 219.5,299.5 219.5,298.5 217.5,296.5z" fill="#1c22ff" stroke="#1c22ff" stroke-width="0.8" stroke-linejoin="round" fill-rule="evenodd"/><path d="M215.5,300.5 214.5,301.5 210.5,301.5 208.5,303.5 207.5,303.5 206.5,304.5 205.5,304.5 203.5,302.5 202.5,302.5 201.5,301.5 199.5,303.5 197.5,303.5 196.5,302.5 190.5,302.5 187.5,305.5 188.5,306.5 188.5,313.5 189.5,314.5 189.5,315.5 188.5,316.5 188.5,321.5 189.5,322.5 189.5,326.5 190.5,327.5 190.5,329.5 192.5,327.5 194.5,327.5 195.5,328.5 198.5,328.5 200.5,330.5 202.5,330.5 203.5,331.5 204.5,331.5 204.5,330.5 205.5,329.5 208.5,329.5 209.5,330.5 211.5,330.5 211.5,329.5 212.5,328.5 213.5,329.5 214.5,329.5 214.5,328.5 215.5,327.5 216.5,327.5 217.5,326.5 217.5,325.5 218.5,324.5 218.5,323.5 219.5,322.5 219.5,312.5 218.5,311.5 218.5,307.5 219.5,306.5 219.5,305.5 218.5,304.5 218.5,303.5zM201.5,310.5 202.5,309.5 203.5,310.5 203.5,311.5 202.5,312.5 201.5,311.5z" fill="#0a6cff" stroke="#0a6cff" stroke-width="0.8" stroke-linejoin="round" fill-rule="evenodd"/><path d="M206.5,325.5 206.5,326.5zM202.5,323.5 202.5,325.5zM210.0,309.0h1v1h-1zM210.5,303.5 210.5,305.5zM191.5,303.5 190.5,304.5 189.5,304.5 189.5,319.5 190.5,320.5 190.5,325.5 191.5,326.5 193.5,326.5 193.5,325.5 194.5,324.5 195.5,324.5 196.5,323.5 198.5,325.5 199.5,324.5 198.5,323.5 197.5,323.5 196.5,322.5 197.5,321.5 198.5,321.5 199.5,320.5 200.5,320.5 199.5,320.5 198.5,319.5 198.5,318.5 200.5,316.5 201.5,317.5 202.5,317.5 203.5,318.5 204.5,318.5 205.5,319.5 207.5,319.5 209.5,317.5 210.5,317.5 210.5,316.5 212.5,314.5 213.5,315.5 213.5,317.5 211.5,319.5 210.5,319.5 207.5,322.5 208.5,322.5 209.5,321.5 210.5,321.5 211.5,322.5 211.5,323.5 210.5,324.5 210.5,326.5 211.5,325.5 212.5,325.5 212.5,324.5 214.5,322.5 215.5,322.5 216.5,323.5 216.5,324.5 216.5,323.5 214.5,321.5 215.5,320.5 215.5,319.5 217.5,317.5 217.5,312.5 216.5,313.5 215.5,312.5 215.5,311.5 216.5,310.5 216.5,309.5 215.5,309.5 214.5,308.5 214.5,306.5 214.5,308.5 213.5,309.5 213.5,311.5 212.5,312.5 210.5,312.5 210.5,313.5 209.5,314.5 208.5,314.5 207.5,313.5 207.5,310.5 206.5,310.5 205.5,309.5 207.5,307.5 208.5,307.5 208.5,306.5 205.5,306.5 203.5,304.5 202.5,304.5 202.5,306.5 201.5,307.5 200.5,307.5 199.5,306.5 199.5,305.5 197.5,305.5 195.5,303.5zM200.5,308.5 201.5,307.5 202.5,307.5 204.5,309.5 204.5,314.5 206.5,316.5 206.5,317.5 205.5,318.5 204.5,318.5 203.5,317.5 203.5,316.5 201.5,316.5 200.5,315.5 200.5,314.5 201.5,313.5 200.5,312.5 199.5,312.5 198.5,311.5 198.5,310.5 199.5,309.5 200.5,309.5zM197.5,307.5 198.5,306.5 199.5,306.5 200.5,307.5 199.5,308.5 198.5,308.5z" fill="#00c8ff" stroke="#00c8ff" stroke-width="0.8" stroke-linejoin="round" fill-rule="evenodd"/><path d="M216.5,314.5 215.5,315.5 215.5,316.5 214.5,317.5 214.5,318.5 212.5,320.5 212.5,321.5 213.5,321.5 213.5,320.5 216.5,317.5 216.5,316.5 217.5,315.5zM205.5,310.5 205.5,313.5 206.5,314.5 206.5,315.5 207.5,315.5 206.5,314.5 206.5,311.5zM204.0,307.0h1v1h-1zM192.5,304.5 191.5,305.5 190.5,305.5 190.5,317.5 189.5,318.5 191.5,320.5 191.5,323.5 192.5,322.5 193.5,322.5 193.5,321.5 197.5,317.5 197.5,315.5 199.5,313.5 198.5,312.5 196.5,312.5 195.5,311.5 197.5,309.5 197.5,307.5 194.5,304.5z" fill="#00f0d8" stroke="#00f0d8" stroke-width="0.8" stroke-linejoin="round" fill-rule="evenodd"/><path d="M216.5,315.5 215.5,316.5 216.5,316.5zM192.5,305.5 190.5,307.5 191.5,308.5 191.5,309.5 190.5,310.5 190.5,318.5 192.5,320.5 193.5,319.5 194.5,319.5 195.5,318.5 195.5,317.5 196.5,316.5 196.5,315.5 195.5,314.5 195.5,309.5 196.5,308.5 196.5,307.5 195.5,306.5 194.5,306.5 193.5,305.5z" fill="#18f070" stroke="#18f070" stroke-width="0.8" stroke-linejoin="round" fill-rule="evenodd"/><path d="M191.5,307.5 191.5,318.5 194.5,318.5 193.5,317.5 193.5,316.5 194.5,315.5 194.5,307.5z" fill="#40f020" stroke="#40f020" stroke-width="0.8" stroke-linejoin="round" fill-rule="evenodd"/><path d="M193.5,307.5 192.5,308.5 192.5,309.5 191.5,310.5 191.5,316.5 192.5,316.5 193.5,315.5 193.5,314.5 194.5,313.5 194.5,309.5 193.5,308.5z" fill="#b8f000" stroke="#b8f000" stroke-width="0.8" stroke-linejoin="round" fill-rule="evenodd"/><path d="M192.5,309.5 192.5,310.5 191.5,311.5 191.5,315.5 192.5,315.5 193.5,314.5 193.5,312.5 194.5,311.5 193.5,310.5 193.5,309.5z" fill="#fff000" stroke="#fff000" stroke-width="0.8" stroke-linejoin="round" fill-rule="evenodd"/><path d="M192.5,310.5 192.5,314.5 193.5,313.5 193.5,310.5z" fill="#ff9800" stroke="#ff9800" stroke-width="0.8" stroke-linejoin="round" fill-rule="evenodd"/><path d="M192.5,310.5 192.5,314.5 192.5,313.5 193.5,312.5 193.5,310.5z" fill="#ff1400" stroke="#ff1400" stroke-width="0.8" stroke-linejoin="round" fill-rule="evenodd"/></g>
<rect x="171.5" y="247.5" width="69" height="167" fill="none" stroke="#151515" stroke-width="1"/>
</g>
<clipPath id="c244_247"><rect x="244" y="247" width="70" height="168"/></clipPath>
<g clip-path="url(#c244_247)">
<rect x="244" y="247" width="70" height="168" fill="#2d2d2d"/>
<rect x="244" y="247" width="70" height="168" fill="#000" filter="url(#bgn)" opacity="0.6"/>
<rect x="244" y="247" width="70" height="32.60000000000002" fill="#262626"/>
<rect x="244" y="248" width="70" height="4.5" fill="#444444"/>
<rect x="244" y="252.5" width="70" height="1" fill="#1e1e1e"/>
<g filter="url(#soft)"><rect x="246" y="255" width="2.6" height="20.600000000000023" fill="#474747"/><rect x="263.5" y="255" width="2.6" height="20.600000000000023" fill="#474747"/><rect x="291" y="255" width="2.6" height="20.600000000000023" fill="#474747"/><rect x="302.5" y="255" width="2.6" height="20.600000000000023" fill="#474747"/><rect x="250" y="254" width="2.4" height="22.600000000000023" fill="#1a1a1a"/><rect x="260" y="254" width="2.4" height="22.600000000000023" fill="#1a1a1a"/><rect x="267" y="254" width="2.4" height="22.600000000000023" fill="#1a1a1a"/><rect x="288" y="254" width="2.4" height="22.600000000000023" fill="#1a1a1a"/><rect x="297" y="254" width="2.4" height="22.600000000000023" fill="#1a1a1a"/><rect x="307" y="254" width="2.4" height="22.600000000000023" fill="#1a1a1a"/></g>
<path d="M260.0,364.0 L258.0,370.0" fill="none" stroke="#8e8e8e" stroke-width="5.75" stroke-linecap="round" stroke-linejoin="round"/>
<path d="M260.0,364.0 L258.0,370.0" fill="none" stroke="#b4b4b4" stroke-width="2.75" stroke-linecap="round" stroke-linejoin="round"/>
<ellipse cx="258.0" cy="370.0" rx="5.0" ry="3.5" fill="#9c9c9c" transform="rotate(108 258.0 370.0)"/>
<path d="M296.0,368.0 L302.0,378.0 L306.0,384.0" fill="none" stroke="#8e8e8e" stroke-width="4.60" stroke-linecap="round" stroke-linejoin="round"/>
<path d="M296.0,368.0 L302.0,378.0 L306.0,384.0" fill="none" stroke="#b4b4b4" stroke-width="2.20" stroke-linecap="round" stroke-linejoin="round"/>
<ellipse cx="306.0" cy="384.0" rx="4.0" ry="2.8" fill="#9c9c9c" transform="rotate(56 306.0 384.0)"/>
<path d="M284.4,372.0 Q282.2,393.5 280.0,418.0" fill="none" stroke="#a8a8a8" stroke-width="4.2" stroke-linecap="round"/>
<path d="M284.4,372.0 Q282.2,393.5 280.0,418.0" fill="none" stroke="#cdcdcd" stroke-width="2.2" stroke-linecap="round"/>
<path d="M284.0,281.0 C284.7,279.5 290.7,281.5 293.0,283.0 C295.3,284.5 298.7,288.5 298.0,290.0 C297.3,291.5 291.3,293.5 289.0,292.0 C286.7,290.5 283.3,282.5 284.0,281.0 Z" fill="#c8c8c8" filter="url(#bodyf)"/>
<g filter="url(#bodyf)"><path d="M268.6,263.6 C269.5,263.6 270.4,265.5 271.5,266.9 C272.5,268.4 273.8,270.7 274.8,272.5 C275.8,274.4 276.6,276.5 277.4,278.1 C278.1,279.7 278.2,281.1 279.4,282.0 C280.6,282.9 283.6,282.9 284.7,283.7 C285.9,284.4 286.5,285.4 286.3,286.4 C286.1,287.5 283.5,288.4 283.8,289.8 C284.0,291.2 286.4,291.4 287.7,294.8 C289.0,298.2 290.4,304.4 291.7,310.4 C293.0,316.3 294.5,324.1 295.7,330.4 C296.9,336.8 298.4,343.1 299.0,348.3 C299.7,353.5 300.0,357.9 299.5,361.6 C298.9,365.3 299.4,368.2 295.8,370.5 C292.2,372.9 284.1,375.5 278.0,375.5 C271.9,375.5 263.4,372.9 259.5,370.5 C255.5,368.2 255.4,365.3 254.3,361.6 C253.1,357.9 252.7,353.5 252.4,348.3 C252.2,343.1 252.6,336.8 252.8,330.4 C252.9,324.1 253.1,316.3 253.4,310.4 C253.7,304.4 254.0,298.2 254.8,294.8 C255.5,291.4 257.9,291.2 257.9,289.8 C257.8,288.4 255.1,287.5 254.7,286.4 C254.4,285.4 254.8,284.4 255.8,283.7 C256.9,282.9 259.8,282.9 260.9,282.0 C262.0,281.1 261.8,279.7 262.3,278.1 C262.8,276.5 263.2,274.4 263.9,272.5 C264.6,270.7 265.5,268.4 266.3,266.9 C267.1,265.5 267.7,263.6 268.6,263.6 Z" fill="url(#bodyg)"/><path d="M268.6,263.6 C269.5,263.6 270.4,265.5 271.5,266.9 C272.5,268.4 273.8,270.7 274.8,272.5 C275.8,274.4 276.6,276.5 277.4,278.1 C278.1,279.7 278.2,281.1 279.4,282.0 C280.6,282.9 283.6,282.9 284.7,283.7 C285.9,284.4 286.5,285.4 286.3,286.4 C286.1,287.5 283.5,288.4 283.8,289.8 C284.0,291.2 286.4,291.4 287.7,294.8 C289.0,298.2 290.4,304.4 291.7,310.4 C293.0,316.3 294.5,324.1 295.7,330.4 C296.9,336.8 298.4,343.1 299.0,348.3 C299.7,353.5 300.0,357.9 299.5,361.6 C298.9,365.3 299.4,368.2 295.8,370.5 C292.2,372.9 284.1,375.5 278.0,375.5 C271.9,375.5 263.4,372.9 259.5,370.5 C255.5,368.2 255.4,365.3 254.3,361.6 C253.1,357.9 252.7,353.5 252.4,348.3 C252.2,343.1 252.6,336.8 252.8,330.4 C252.9,324.1 253.1,316.3 253.4,310.4 C253.7,304.4 254.0,298.2 254.8,294.8 C255.5,291.4 257.9,291.2 257.9,289.8 C257.8,288.4 255.1,287.5 254.7,286.4 C254.4,285.4 254.8,284.4 255.8,283.7 C256.9,282.9 259.8,282.9 260.9,282.0 C262.0,281.1 261.8,279.7 262.3,278.1 C262.8,276.5 263.2,274.4 263.9,272.5 C264.6,270.7 265.5,268.4 266.3,266.9 C267.1,265.5 267.7,263.6 268.6,263.6 Z" fill="url(#bodyv)"/></g>
<path d="M268.6,263.6 C269.5,263.6 270.4,265.5 271.5,266.9 C272.5,268.4 273.8,270.7 274.8,272.5 C275.8,274.4 276.6,276.5 277.4,278.1 C278.1,279.7 278.2,281.1 279.4,282.0 C280.6,282.9 283.6,282.9 284.7,283.7 C285.9,284.4 286.5,285.4 286.3,286.4 C286.1,287.5 283.5,288.4 283.8,289.8 C284.0,291.2 286.4,291.4 287.7,294.8 C289.0,298.2 290.4,304.4 291.7,310.4 C293.0,316.3 294.5,324.1 295.7,330.4 C296.9,336.8 298.4,343.1 299.0,348.3 C299.7,353.5 300.0,357.9 299.5,361.6 C298.9,365.3 299.4,368.2 295.8,370.5 C292.2,372.9 284.1,375.5 278.0,375.5 C271.9,375.5 263.4,372.9 259.5,370.5 C255.5,368.2 255.4,365.3 254.3,361.6 C253.1,357.9 252.7,353.5 252.4,348.3 C252.2,343.1 252.6,336.8 252.8,330.4 C252.9,324.1 253.1,316.3 253.4,310.4 C253.7,304.4 254.0,298.2 254.8,294.8 C255.5,291.4 257.9,291.2 257.9,289.8 C257.8,288.4 255.1,287.5 254.7,286.4 C254.4,285.4 254.8,284.4 255.8,283.7 C256.9,282.9 259.8,282.9 260.9,282.0 C262.0,281.1 261.8,279.7 262.3,278.1 C262.8,276.5 263.2,274.4 263.9,272.5 C264.6,270.7 265.5,268.4 266.3,266.9 C267.1,265.5 267.7,263.6 268.6,263.6 Z" fill="#000" filter="url(#furf)" opacity="0.13"/>
<path d="M266.4,253 L270.8,253 L271.2,259.6 C273.6,263.6 277.1,270.6 278.6,276.6 Q268.6,278.1 258.6,276.6 C260.1,270.6 263.6,263.6 266.0,259.6 Z" fill="url(#coneg)" opacity="0.45"/>
<rect x="266.4" y="253" width="1.1" height="10.6" fill="#bdbdbd" opacity="0.85"/>
<rect x="269.5" y="253" width="1.1" height="10.6" fill="#c8c8c8" opacity="0.85"/>
<path d="M259.1,276.1 Q268.6,278.1 278.1,276.1" fill="none" stroke="#8a8a8a" stroke-width="0.7" opacity="0.7"/>
<g filter="url(#hblur)"><path d="M278.5,293.5 278.5,296.5 277.5,297.5 276.5,297.5 275.5,296.5 271.5,296.5 270.5,297.5 267.5,297.5 266.5,298.5 264.5,298.5 263.5,297.5 261.5,297.5 260.5,296.5 257.5,299.5 256.5,299.5 254.5,301.5 254.5,303.5 256.5,305.5 254.5,307.5 255.5,308.5 253.5,310.5 254.5,311.5 254.5,315.5 253.5,316.5 254.5,316.5 255.5,317.5 255.5,319.5 254.5,320.5 254.5,322.5 255.5,323.5 254.5,324.5 254.5,327.5 252.5,329.5 256.5,329.5 258.5,331.5 259.5,331.5 261.5,333.5 264.5,333.5 265.5,334.5 265.5,335.5 266.5,335.5 266.5,334.5 267.5,333.5 277.5,333.5 278.5,332.5 283.5,332.5 284.5,333.5 282.5,335.5 281.5,334.5 280.5,334.5 280.5,335.5 284.5,335.5 284.5,332.5 285.5,331.5 286.5,331.5 287.5,330.5 288.5,330.5 288.5,329.5 289.5,328.5 289.5,327.5 290.5,326.5 292.5,326.5 292.5,325.5 291.5,324.5 290.5,324.5 289.5,323.5 289.5,321.5 290.5,320.5 292.5,320.5 292.5,319.5 291.5,319.5 289.5,317.5 289.5,316.5 290.5,315.5 292.5,315.5 292.5,314.5 290.5,312.5 291.5,311.5 291.5,309.5 292.5,308.5 292.5,305.5 290.5,303.5 290.5,297.5 289.5,297.5 288.5,296.5 281.5,296.5 280.5,295.5 280.5,293.5zM283.5,331.5 284.5,330.5 285.5,331.5 284.5,332.5zM287.5,299.5 288.5,298.5 289.5,299.5 288.5,300.5z" fill="#7410ff" stroke="#7410ff" stroke-width="0.8" stroke-linejoin="round" fill-rule="evenodd"/><path d="M279.5,297.5 277.5,299.5 276.5,299.5 275.5,298.5 271.5,298.5 270.5,299.5 267.5,299.5 266.5,300.5 264.5,300.5 263.5,299.5 261.5,299.5 260.5,298.5 257.5,301.5 256.5,301.5 256.5,303.5 258.5,305.5 256.5,307.5 257.5,308.5 255.5,310.5 256.5,311.5 256.5,316.5 257.5,317.5 257.5,319.5 256.5,320.5 256.5,322.5 257.5,323.5 256.5,324.5 256.5,327.5 258.5,329.5 259.5,329.5 261.5,331.5 264.5,331.5 265.5,332.5 266.5,332.5 267.5,331.5 277.5,331.5 278.5,330.5 282.5,330.5 284.5,328.5 285.5,329.5 286.5,329.5 287.5,328.5 287.5,327.5 289.5,325.5 287.5,323.5 287.5,321.5 289.5,319.5 287.5,317.5 287.5,316.5 289.5,314.5 289.5,313.5 288.5,312.5 289.5,311.5 289.5,309.5 291.5,307.5 291.5,306.5 288.5,303.5 288.5,302.5 285.5,299.5 286.5,298.5 281.5,298.5 280.5,297.5z" fill="#1c22ff" stroke="#1c22ff" stroke-width="0.8" stroke-linejoin="round" fill-rule="evenodd"/><path d="M272.5,300.5 271.5,301.5 268.5,301.5 267.5,302.5 263.5,302.5 262.5,301.5 261.5,301.5 260.5,302.5 259.5,302.5 259.5,303.5 260.5,304.5 260.5,305.5 259.5,306.5 259.5,308.5 258.5,309.5 258.5,310.5 257.5,311.5 257.5,315.5 258.5,316.5 258.5,317.5 259.5,318.5 259.5,319.5 258.5,320.5 258.5,321.5 259.5,322.5 259.5,324.5 258.5,325.5 258.5,326.5 259.5,326.5 261.5,328.5 262.5,328.5 263.5,329.5 267.5,329.5 268.5,328.5 269.5,329.5 276.5,329.5 277.5,328.5 280.5,328.5 281.5,327.5 282.5,327.5 283.5,326.5 285.5,326.5 286.5,325.5 285.5,324.5 285.5,321.5 286.5,320.5 286.5,315.5 287.5,314.5 287.5,309.5 288.5,308.5 288.5,307.5 287.5,306.5 287.5,305.5 286.5,304.5 286.5,303.5 285.5,303.5 284.5,302.5 284.5,301.5 283.5,300.5 279.5,300.5 278.5,301.5 275.5,301.5 274.5,300.5z" fill="#0a6cff" stroke="#0a6cff" stroke-width="0.8" stroke-linejoin="round" fill-rule="evenodd"/><path d="M280.5,301.5 278.5,303.5 276.5,303.5 275.5,302.5 271.5,302.5 270.5,303.5 266.5,303.5 265.5,304.5 263.5,304.5 262.5,303.5 261.5,303.5 261.5,306.5 260.5,307.5 260.5,308.5 259.5,309.5 259.5,312.5 258.5,313.5 259.5,314.5 259.5,316.5 260.5,317.5 260.5,322.5 261.5,323.5 260.5,324.5 260.5,325.5 262.5,327.5 278.5,327.5 279.5,326.5 280.5,326.5 281.5,325.5 282.5,325.5 283.5,324.5 284.5,324.5 284.5,321.5 286.5,319.5 285.5,318.5 285.5,315.5 286.5,314.5 286.5,308.5 287.5,307.5 286.5,306.5 286.5,305.5 285.5,304.5 284.5,304.5 283.5,303.5 283.5,302.5 281.5,302.5z" fill="#00c8ff" stroke="#00c8ff" stroke-width="0.8" stroke-linejoin="round" fill-rule="evenodd"/><path d="M272.5,303.5 271.5,304.5 267.5,304.5 266.5,305.5 263.5,305.5 262.5,306.5 262.5,307.5 260.5,309.5 260.5,311.5 259.5,312.5 259.5,314.5 260.5,315.5 260.5,317.5 261.5,318.5 261.5,322.5 262.5,323.5 262.5,324.5 264.5,324.5 266.5,326.5 268.5,324.5 269.5,325.5 269.5,326.5 272.5,326.5 273.5,325.5 275.5,325.5 276.5,324.5 277.5,325.5 279.5,325.5 280.5,324.5 282.5,324.5 282.5,323.5 284.5,321.5 284.5,320.5 285.5,319.5 285.5,309.5 286.5,308.5 285.5,307.5 285.5,306.5 284.5,306.5 282.5,304.5 282.5,303.5 279.5,303.5 278.5,304.5 275.5,304.5 274.5,303.5z" fill="#00f0d8" stroke="#00f0d8" stroke-width="0.8" stroke-linejoin="round" fill-rule="evenodd"/><path d="M270.5,305.5 268.5,307.5 267.5,307.5 266.5,306.5 263.5,306.5 263.5,307.5 262.5,308.5 262.5,309.5 260.5,311.5 260.5,316.5 262.5,318.5 262.5,320.5 263.5,319.5 264.5,319.5 265.5,320.5 273.5,320.5 274.5,319.5 276.5,321.5 277.5,320.5 278.5,320.5 279.5,321.5 279.5,322.5 281.5,322.5 282.5,321.5 283.5,321.5 284.5,320.5 284.5,310.5 285.5,309.5 285.5,308.5 284.5,307.5 279.5,307.5 278.5,308.5 277.5,307.5 273.5,307.5 272.5,306.5 271.5,306.5z" fill="#18f070" stroke="#18f070" stroke-width="0.8" stroke-linejoin="round" fill-rule="evenodd"/><path d="M270.5,307.5 270.5,309.5 269.5,310.5 267.5,310.5 266.5,309.5 265.5,309.5 265.5,310.5 266.5,311.5 265.5,312.5 263.5,312.5 262.5,311.5 262.5,313.5 261.5,314.5 261.5,316.5 262.5,317.5 265.5,317.5 266.5,318.5 267.5,318.5 268.5,317.5 270.5,319.5 271.5,319.5 272.5,318.5 278.5,318.5 279.5,319.5 279.5,320.5 280.5,321.5 281.5,321.5 282.5,320.5 283.5,320.5 284.5,319.5 284.5,314.5 283.5,313.5 283.5,309.5 277.5,309.5 276.5,310.5 275.5,310.5 274.5,309.5 271.5,309.5 270.5,308.5z" fill="#40f020" stroke="#40f020" stroke-width="0.8" stroke-linejoin="round" fill-rule="evenodd"/><path d="M266.5,313.5 265.5,314.5 263.5,314.5 262.5,315.5 261.5,315.5 261.5,316.5 262.5,317.5 264.5,317.5 265.5,316.5 266.5,316.5 265.5,315.5 265.5,314.5zM273.5,311.5 271.5,313.5 271.5,316.5 272.5,317.5 279.5,317.5 281.5,319.5 281.5,320.5 282.5,320.5 284.5,318.5 284.5,317.5 283.5,316.5 283.5,314.5 281.5,314.5 280.5,313.5 277.5,313.5 276.5,314.5 274.5,314.5 273.5,313.5 273.5,312.5 274.5,311.5z" fill="#b8f000" stroke="#b8f000" stroke-width="0.8" stroke-linejoin="round" fill-rule="evenodd"/><path d="M262.5,315.5 262.5,316.5 264.5,316.5 265.5,315.5zM272.5,314.5 272.5,316.5 273.5,316.5 274.5,317.5 278.5,317.5 279.5,316.5 282.5,319.5 283.5,319.5 283.5,315.5 278.5,315.5 277.5,314.5z" fill="#fff000" stroke="#fff000" stroke-width="0.8" stroke-linejoin="round" fill-rule="evenodd"/><path d="M282.5,316.5 281.5,317.5 282.5,318.5 283.5,318.5 283.5,317.5zM273.5,315.5 273.5,316.5 277.5,316.5 277.5,315.5zM262.5,315.5 262.5,316.5 264.5,316.5 264.5,315.5z" fill="#ff9800" stroke="#ff9800" stroke-width="0.8" stroke-linejoin="round" fill-rule="evenodd"/><path d="M263.0,316.0h1v1h-1zM274.5,315.5 274.5,316.5 276.5,316.5 276.5,315.5z" fill="#ff1400" stroke="#ff1400" stroke-width="0.8" stroke-linejoin="round" fill-rule="evenodd"/></g>
<rect x="244.5" y="247.5" width="69" height="167" fill="none" stroke="#151515" stroke-width="1"/>
</g>
<clipPath id="c318_247"><rect x="318" y="247" width="69" height="168"/></clipPath>
<g clip-path="url(#c318_247)">
<rect x="318" y="247" width="69" height="168" fill="#2d2d2d"/>
<rect x="318" y="247" width="69" height="168" fill="#000" filter="url(#bgn)" opacity="0.6"/>
<rect x="318" y="247" width="69" height="34" fill="#262626"/>
<rect x="318" y="248" width="69" height="4.5" fill="#444444"/>
<rect x="318" y="252.5" width="69" height="1" fill="#1e1e1e"/>
<g filter="url(#soft)"><rect x="320" y="255" width="2.6" height="22" fill="#474747"/><rect x="337.5" y="255" width="2.6" height="22" fill="#474747"/><rect x="365" y="255" width="2.6" height="22" fill="#474747"/><rect x="376.5" y="255" width="2.6" height="22" fill="#474747"/><rect x="324" y="254" width="2.4" height="24" fill="#1a1a1a"/><rect x="334" y="254" width="2.4" height="24" fill="#1a1a1a"/><rect x="341" y="254" width="2.4" height="24" fill="#1a1a1a"/><rect x="362" y="254" width="2.4" height="24" fill="#1a1a1a"/><rect x="371" y="254" width="2.4" height="24" fill="#1a1a1a"/><rect x="381" y="254" width="2.4" height="24" fill="#1a1a1a"/></g>
<path d="M330.0,365.0 L325.0,370.0 L322.0,372.0" fill="none" stroke="#8e8e8e" stroke-width="5.75" stroke-linecap="round" stroke-linejoin="round"/>
<path d="M330.0,365.0 L325.0,370.0 L322.0,372.0" fill="none" stroke="#b4b4b4" stroke-width="2.75" stroke-linecap="round" stroke-linejoin="round"/>
<ellipse cx="322.0" cy="372.0" rx="5.0" ry="3.5" fill="#9c9c9c" transform="rotate(146 322.0 372.0)"/>
<path d="M370.0,362.0 L378.0,360.0 L382.0,356.0" fill="none" stroke="#8e8e8e" stroke-width="4.60" stroke-linecap="round" stroke-linejoin="round"/>
<path d="M370.0,362.0 L378.0,360.0 L382.0,356.0" fill="none" stroke="#b4b4b4" stroke-width="2.20" stroke-linecap="round" stroke-linejoin="round"/>
<ellipse cx="382.0" cy="356.0" rx="4.0" ry="2.8" fill="#9c9c9c" transform="rotate(-45 382.0 356.0)"/>
<path d="M355.0,374.0 Q357.8,394.5 360.6,418.0" fill="none" stroke="#a8a8a8" stroke-width="4.2" stroke-linecap="round"/>
<path d="M355.0,374.0 Q357.8,394.5 360.6,418.0" fill="none" stroke="#cdcdcd" stroke-width="2.2" stroke-linecap="round"/>
<path d="M332.0,284.0 C330.8,283.2 326.3,286.5 325.0,288.0 C323.7,289.5 322.8,292.2 324.0,293.0 C325.2,293.8 330.7,294.5 332.0,293.0 C333.3,291.5 333.2,284.8 332.0,284.0 Z" fill="#c8c8c8" filter="url(#bodyf)"/>
<path d="M360.0,290.0 C361.0,289.0 365.5,292.2 367.0,294.0 C368.5,295.8 370.0,300.0 369.0,301.0 C368.0,302.0 362.5,301.8 361.0,300.0 C359.5,298.2 359.0,291.0 360.0,290.0 Z" fill="#c8c8c8" filter="url(#bodyf)"/>
<g filter="url(#bodyf)"><path d="M347.0,265.0 C347.9,265.0 348.9,266.9 349.9,268.4 C350.9,269.9 352.2,272.1 353.1,274.0 C354.1,275.9 354.8,278.1 355.5,279.7 C356.3,281.3 356.2,282.7 357.5,283.6 C358.8,284.6 362.0,284.6 363.2,285.3 C364.4,286.1 364.9,287.1 364.7,288.1 C364.4,289.2 361.5,290.1 361.7,291.5 C361.8,292.9 364.4,293.1 365.6,296.6 C366.8,300.1 367.8,306.4 368.9,312.4 C369.9,318.4 371.0,326.3 371.8,332.7 C372.7,339.1 373.9,345.5 374.2,350.7 C374.5,356.0 374.6,360.5 373.8,364.3 C372.9,368.0 373.2,370.9 369.1,373.3 C365.1,375.6 356.0,378.3 349.4,378.3 C342.8,378.3 333.6,375.6 329.5,373.3 C325.3,370.9 325.5,368.0 324.5,364.3 C323.5,360.5 323.3,356.0 323.4,350.7 C323.5,345.5 324.4,339.1 325.0,332.7 C325.7,326.3 326.3,318.4 327.1,312.4 C327.9,306.4 328.7,300.1 329.7,296.6 C330.8,293.1 333.3,292.9 333.4,291.5 C333.5,290.1 330.6,289.2 330.3,288.1 C330.0,287.1 330.5,286.1 331.7,285.3 C332.8,284.6 336.1,284.6 337.3,283.6 C338.5,282.7 338.4,281.3 339.1,279.7 C339.7,278.1 340.4,275.9 341.3,274.0 C342.1,272.1 343.3,269.9 344.2,268.4 C345.2,266.9 346.1,265.0 347.0,265.0 Z" fill="url(#bodyg)"/><path d="M347.0,265.0 C347.9,265.0 348.9,266.9 349.9,268.4 C350.9,269.9 352.2,272.1 353.1,274.0 C354.1,275.9 354.8,278.1 355.5,279.7 C356.3,281.3 356.2,282.7 357.5,283.6 C358.8,284.6 362.0,284.6 363.2,285.3 C364.4,286.1 364.9,287.1 364.7,288.1 C364.4,289.2 361.5,290.1 361.7,291.5 C361.8,292.9 364.4,293.1 365.6,296.6 C366.8,300.1 367.8,306.4 368.9,312.4 C369.9,318.4 371.0,326.3 371.8,332.7 C372.7,339.1 373.9,345.5 374.2,350.7 C374.5,356.0 374.6,360.5 373.8,364.3 C372.9,368.0 373.2,370.9 369.1,373.3 C365.1,375.6 356.0,378.3 349.4,378.3 C342.8,378.3 333.6,375.6 329.5,373.3 C325.3,370.9 325.5,368.0 324.5,364.3 C323.5,360.5 323.3,356.0 323.4,350.7 C323.5,345.5 324.4,339.1 325.0,332.7 C325.7,326.3 326.3,318.4 327.1,312.4 C327.9,306.4 328.7,300.1 329.7,296.6 C330.8,293.1 333.3,292.9 333.4,291.5 C333.5,290.1 330.6,289.2 330.3,288.1 C330.0,287.1 330.5,286.1 331.7,285.3 C332.8,284.6 336.1,284.6 337.3,283.6 C338.5,282.7 338.4,281.3 339.1,279.7 C339.7,278.1 340.4,275.9 341.3,274.0 C342.1,272.1 343.3,269.9 344.2,268.4 C345.2,266.9 346.1,265.0 347.0,265.0 Z" fill="url(#bodyv)"/></g>
<path d="M347.0,265.0 C347.9,265.0 348.9,266.9 349.9,268.4 C350.9,269.9 352.2,272.1 353.1,274.0 C354.1,275.9 354.8,278.1 355.5,279.7 C356.3,281.3 356.2,282.7 357.5,283.6 C358.8,284.6 362.0,284.6 363.2,285.3 C364.4,286.1 364.9,287.1 364.7,288.1 C364.4,289.2 361.5,290.1 361.7,291.5 C361.8,292.9 364.4,293.1 365.6,296.6 C366.8,300.1 367.8,306.4 368.9,312.4 C369.9,318.4 371.0,326.3 371.8,332.7 C372.7,339.1 373.9,345.5 374.2,350.7 C374.5,356.0 374.6,360.5 373.8,364.3 C372.9,368.0 373.2,370.9 369.1,373.3 C365.1,375.6 356.0,378.3 349.4,378.3 C342.8,378.3 333.6,375.6 329.5,373.3 C325.3,370.9 325.5,368.0 324.5,364.3 C323.5,360.5 323.3,356.0 323.4,350.7 C323.5,345.5 324.4,339.1 325.0,332.7 C325.7,326.3 326.3,318.4 327.1,312.4 C327.9,306.4 328.7,300.1 329.7,296.6 C330.8,293.1 333.3,292.9 333.4,291.5 C333.5,290.1 330.6,289.2 330.3,288.1 C330.0,287.1 330.5,286.1 331.7,285.3 C332.8,284.6 336.1,284.6 337.3,283.6 C338.5,282.7 338.4,281.3 339.1,279.7 C339.7,278.1 340.4,275.9 341.3,274.0 C342.1,272.1 343.3,269.9 344.2,268.4 C345.2,266.9 346.1,265.0 347.0,265.0 Z" fill="#000" filter="url(#furf)" opacity="0.13"/>
<path d="M344.8,253 L349.2,253 L349.6,261.0 C352.0,265.0 355.5,272.0 357.0,278.0 Q347.0,279.5 337.0,278.0 C338.5,272.0 342.0,265.0 344.4,261.0 Z" fill="url(#coneg)" opacity="0.45"/>
<rect x="344.8" y="253" width="1.1" height="12.0" fill="#bdbdbd" opacity="0.85"/>
<rect x="347.9" y="253" width="1.1" height="12.0" fill="#c8c8c8" opacity="0.85"/>
<path d="M337.5,277.5 Q347.0,279.5 356.5,277.5" fill="none" stroke="#8a8a8a" stroke-width="0.7" opacity="0.7"/>
<g filter="url(#hblur)"><path d="M365.5,302.5 365.5,303.5zM357.5,298.5 356.5,299.5 352.5,299.5 351.5,300.5 349.5,300.5 344.5,305.5 343.5,304.5 340.5,304.5 336.5,300.5 335.5,300.5 334.5,299.5 330.5,299.5 328.5,301.5 327.5,301.5 327.5,303.5 328.5,304.5 325.5,307.5 324.5,307.5 324.5,310.5 325.5,311.5 325.5,312.5 326.5,313.5 326.5,315.5 325.5,316.5 324.5,316.5 324.5,323.5 324.5,322.5 325.5,321.5 326.5,321.5 327.5,322.5 327.5,324.5 326.5,325.5 326.5,329.5 328.5,329.5 329.5,330.5 327.5,332.5 330.5,335.5 331.5,334.5 332.5,334.5 333.5,335.5 334.5,335.5 335.5,336.5 336.5,335.5 337.5,335.5 339.5,337.5 339.5,338.5 343.5,338.5 344.5,337.5 345.5,337.5 346.5,336.5 347.5,336.5 348.5,335.5 351.5,335.5 352.5,336.5 352.5,338.5 353.5,337.5 354.5,337.5 354.5,336.5 355.5,335.5 357.5,335.5 358.5,336.5 359.5,336.5 363.5,332.5 365.5,332.5 365.5,331.5 364.5,331.5 363.5,332.5 362.5,331.5 362.5,330.5 363.5,329.5 363.5,327.5 362.5,326.5 364.5,324.5 364.5,323.5 363.5,322.5 363.5,319.5 365.5,317.5 365.5,315.5 364.5,315.5 363.5,314.5 363.5,313.5 362.5,312.5 362.5,311.5 363.5,310.5 364.5,310.5 365.5,311.5 365.5,305.5 364.5,306.5 363.5,306.5 362.5,305.5 362.5,302.5 361.5,301.5 361.5,300.5 360.5,301.5 358.5,301.5 357.5,300.5 358.5,299.5 358.5,298.5z" fill="#7410ff" stroke="#7410ff" stroke-width="0.8" stroke-linejoin="round" fill-rule="evenodd"/><path d="M330.5,301.5 329.5,302.5 329.5,303.5 330.5,304.5 325.5,309.5 327.5,311.5 327.5,312.5 328.5,313.5 328.5,315.5 325.5,318.5 324.5,318.5 324.5,320.5 325.5,319.5 326.5,319.5 329.5,322.5 329.5,324.5 328.5,325.5 328.5,327.5 331.5,330.5 329.5,332.5 330.5,333.5 331.5,332.5 332.5,332.5 333.5,333.5 334.5,333.5 335.5,334.5 336.5,333.5 337.5,333.5 341.5,337.5 341.5,338.5 344.5,335.5 345.5,335.5 346.5,334.5 347.5,334.5 348.5,333.5 351.5,333.5 353.5,335.5 355.5,333.5 357.5,333.5 358.5,334.5 359.5,334.5 361.5,332.5 360.5,331.5 360.5,330.5 361.5,329.5 361.5,327.5 360.5,326.5 362.5,324.5 362.5,323.5 361.5,322.5 361.5,319.5 363.5,317.5 363.5,316.5 361.5,314.5 361.5,313.5 360.5,312.5 360.5,311.5 363.5,308.5 364.5,308.5 365.5,309.5 365.5,307.5 364.5,308.5 363.5,308.5 360.5,305.5 360.5,303.5 358.5,303.5 356.5,301.5 352.5,301.5 351.5,302.5 349.5,302.5 344.5,307.5 343.5,306.5 340.5,306.5 336.5,302.5 335.5,302.5 334.5,301.5z" fill="#1c22ff" stroke="#1c22ff" stroke-width="0.8" stroke-linejoin="round" fill-rule="evenodd"/><path d="M332.5,303.5 332.5,304.5 331.5,305.5 331.5,306.5 328.5,309.5 328.5,310.5 329.5,311.5 329.5,317.5 328.5,318.5 330.5,320.5 330.5,322.5 331.5,323.5 331.5,324.5 330.5,325.5 330.5,326.5 331.5,326.5 332.5,327.5 332.5,328.5 334.5,330.5 336.5,330.5 337.5,329.5 339.5,331.5 340.5,331.5 341.5,332.5 341.5,333.5 343.5,333.5 344.5,332.5 345.5,332.5 346.5,331.5 347.5,331.5 348.5,330.5 349.5,331.5 352.5,331.5 353.5,332.5 354.5,331.5 356.5,331.5 357.5,330.5 358.5,330.5 358.5,329.5 359.5,328.5 358.5,327.5 358.5,325.5 359.5,324.5 359.5,319.5 360.5,318.5 360.5,315.5 359.5,314.5 359.5,313.5 358.5,312.5 358.5,311.5 359.5,310.5 359.5,306.5 358.5,305.5 357.5,305.5 356.5,304.5 352.5,304.5 351.5,305.5 350.5,305.5 349.5,306.5 349.5,310.5 348.5,311.5 347.5,311.5 346.5,310.5 346.5,309.5 345.5,309.5 344.5,310.5 343.5,309.5 342.5,309.5 341.5,308.5 339.5,308.5 338.5,307.5 337.5,307.5 333.5,303.5zM346.5,312.5 348.5,312.5 349.5,313.5 349.5,314.5 348.5,315.5 348.5,316.5 347.5,317.5 347.5,318.5 346.5,319.5 346.5,320.5 345.5,321.5 345.5,322.5 342.5,325.5 341.5,325.5 340.5,324.5 340.5,322.5 341.5,321.5 341.5,319.5 342.5,318.5 342.5,317.5 343.5,316.5 343.5,315.5z" fill="#0a6cff" stroke="#0a6cff" stroke-width="0.8" stroke-linejoin="round" fill-rule="evenodd"/><path d="M353.5,306.5 352.5,307.5 352.5,309.5 351.5,310.5 351.5,313.5 350.5,314.5 350.5,315.5 349.5,316.5 349.5,317.5 348.5,318.5 348.5,321.5 349.5,322.5 348.5,323.5 346.5,323.5 346.5,326.5 345.5,327.5 344.5,327.5 343.5,328.5 342.5,328.5 341.5,329.5 341.5,330.5 343.5,330.5 344.5,329.5 352.5,329.5 353.5,330.5 354.5,330.5 355.5,329.5 357.5,329.5 357.5,325.5 358.5,324.5 358.5,319.5 359.5,318.5 359.5,316.5 358.5,315.5 358.5,313.5 357.5,312.5 357.5,311.5 358.5,310.5 358.5,307.5 357.5,306.5zM333.5,305.5 332.5,306.5 332.5,307.5 331.5,308.5 330.5,308.5 330.5,317.5 329.5,318.5 331.5,320.5 331.5,322.5 332.5,323.5 332.5,325.5 333.5,326.5 333.5,327.5 334.5,328.5 335.5,328.5 335.5,327.5 336.5,326.5 337.5,326.5 338.5,325.5 338.5,322.5 339.5,321.5 339.5,320.5 340.5,319.5 340.5,318.5 341.5,317.5 341.5,315.5 342.5,314.5 342.5,313.5 343.5,312.5 342.5,311.5 342.5,310.5 340.5,310.5 338.5,308.5 336.5,308.5 334.5,306.5 334.5,305.5z" fill="#00c8ff" stroke="#00c8ff" stroke-width="0.8" stroke-linejoin="round" fill-rule="evenodd"/><path d="M354.5,307.5 354.5,308.5 353.5,309.5 353.5,310.5 352.5,311.5 352.5,313.5 351.5,314.5 351.5,316.5 350.5,317.5 350.5,320.5 351.5,321.5 351.5,327.5 353.5,329.5 354.5,328.5 356.5,328.5 356.5,325.5 357.5,324.5 357.5,320.5 358.5,319.5 358.5,315.5 357.5,314.5 357.5,307.5zM333.5,306.5 333.5,307.5 330.5,310.5 331.5,311.5 331.5,316.5 330.5,317.5 330.5,318.5 331.5,319.5 331.5,320.5 332.5,321.5 332.5,323.5 333.5,324.5 333.5,325.5 334.5,326.5 335.5,325.5 335.5,324.5 337.5,322.5 337.5,321.5 339.5,319.5 339.5,316.5 340.5,315.5 340.5,311.5 339.5,311.5 337.5,309.5 336.5,309.5 334.5,307.5 334.5,306.5z" fill="#00f0d8" stroke="#00f0d8" stroke-width="0.8" stroke-linejoin="round" fill-rule="evenodd"/><path d="M332.5,309.5 331.5,310.5 331.5,311.5 332.5,312.5 332.5,315.5 331.5,316.5 331.5,319.5 333.5,321.5 333.5,323.5 334.5,324.5 335.5,323.5 335.5,322.5 336.5,321.5 336.5,320.5 338.5,318.5 338.5,317.5 337.5,316.5 337.5,314.5 338.5,313.5 338.5,312.5 335.5,309.5zM355.5,308.5 354.5,309.5 354.5,310.5 353.5,311.5 353.5,313.5 352.5,314.5 352.5,316.5 351.5,317.5 351.5,319.5 352.5,320.5 352.5,323.5 353.5,324.5 353.5,326.5 354.5,325.5 354.5,324.5 355.5,323.5 356.5,323.5 356.5,321.5 357.5,320.5 357.5,318.5 358.5,317.5 358.5,316.5 357.5,315.5 357.5,313.5 356.5,312.5 356.5,309.5 357.5,308.5z" fill="#18f070" stroke="#18f070" stroke-width="0.8" stroke-linejoin="round" fill-rule="evenodd"/><path d="M354.5,312.5 353.5,313.5 353.5,316.5 352.5,317.5 352.5,318.5 353.5,319.5 353.5,320.5 355.5,322.5 355.5,321.5 356.5,320.5 356.5,319.5 357.5,318.5 357.5,315.5 356.5,314.5 356.5,313.5 355.5,313.5zM332.5,310.5 332.5,311.5 333.5,312.5 333.5,313.5 332.5,314.5 332.5,319.5 333.5,320.5 333.5,321.5 334.5,322.5 335.5,321.5 335.5,320.5 336.5,319.5 336.5,314.5 335.5,313.5 335.5,310.5z" fill="#40f020" stroke="#40f020" stroke-width="0.8" stroke-linejoin="round" fill-rule="evenodd"/><path d="M333.5,315.5 333.5,316.5 332.5,317.5 334.5,319.5 334.5,320.5 334.5,319.5 333.5,318.5 334.5,317.5 334.5,315.5zM354.5,314.5 354.5,316.5 353.5,317.5 353.5,319.5 354.5,320.5 355.5,320.5 356.5,319.5 356.5,318.5 357.5,317.5 356.5,316.5 356.5,315.5 355.5,314.5z" fill="#b8f000" stroke="#b8f000" stroke-width="0.8" stroke-linejoin="round" fill-rule="evenodd"/><path d="M354.5,316.5 354.5,319.5 356.5,319.5 356.5,316.5z" fill="#fff000" stroke="#fff000" stroke-width="0.8" stroke-linejoin="round" fill-rule="evenodd"/><path d="M355.5,316.5 354.5,317.5 354.5,318.5 355.5,319.5 356.5,318.5 356.5,317.5z" fill="#ff9800" stroke="#ff9800" stroke-width="0.8" stroke-linejoin="round" fill-rule="evenodd"/><path d="M354.5,317.5 354.5,318.5 355.5,318.5 355.5,317.5z" fill="#ff1400" stroke="#ff1400" stroke-width="0.8" stroke-linejoin="round" fill-rule="evenodd"/></g>
<rect x="318.5" y="247.5" width="68" height="167" fill="none" stroke="#151515" stroke-width="1"/>
</g>
<clipPath id="c97_450"><rect x="97" y="450" width="70" height="167"/></clipPath>
<g clip-path="url(#c97_450)">
<rect x="97" y="450" width="70" height="167" fill="#2d2d2d"/>
<rect x="97" y="450" width="70" height="167" fill="#000" filter="url(#bgn)" opacity="0.6"/>
<rect x="97" y="450" width="70" height="33.80000000000001" fill="#262626"/>
<rect x="97" y="451" width="70" height="4.5" fill="#444444"/>
<rect x="97" y="455.5" width="70" height="1" fill="#1e1e1e"/>
<g filter="url(#soft)"><rect x="99" y="458" width="2.6" height="21.80000000000001" fill="#474747"/><rect x="116.5" y="458" width="2.6" height="21.80000000000001" fill="#474747"/><rect x="144" y="458" width="2.6" height="21.80000000000001" fill="#474747"/><rect x="155.5" y="458" width="2.6" height="21.80000000000001" fill="#474747"/><rect x="103" y="457" width="2.4" height="23.80000000000001" fill="#1a1a1a"/><rect x="113" y="457" width="2.4" height="23.80000000000001" fill="#1a1a1a"/><rect x="120" y="457" width="2.4" height="23.80000000000001" fill="#1a1a1a"/><rect x="141" y="457" width="2.4" height="23.80000000000001" fill="#1a1a1a"/><rect x="150" y="457" width="2.4" height="23.80000000000001" fill="#1a1a1a"/><rect x="160" y="457" width="2.4" height="23.80000000000001" fill="#1a1a1a"/></g>
<path d="M112.0,570.0 L106.0,575.0 L100.0,576.0" fill="none" stroke="#8e8e8e" stroke-width="5.17" stroke-linecap="round" stroke-linejoin="round"/>
<path d="M112.0,570.0 L106.0,575.0 L100.0,576.0" fill="none" stroke="#b4b4b4" stroke-width="2.48" stroke-linecap="round" stroke-linejoin="round"/>
<ellipse cx="100.0" cy="576.0" rx="4.5" ry="3.1" fill="#9c9c9c" transform="rotate(171 100.0 576.0)"/>
<path d="M154.0,570.0 L160.0,575.0 L166.0,577.0" fill="none" stroke="#8e8e8e" stroke-width="5.17" stroke-linecap="round" stroke-linejoin="round"/>
<path d="M154.0,570.0 L160.0,575.0 L166.0,577.0" fill="none" stroke="#b4b4b4" stroke-width="2.48" stroke-linecap="round" stroke-linejoin="round"/>
<ellipse cx="166.0" cy="577.0" rx="4.5" ry="3.1" fill="#9c9c9c" transform="rotate(18 166.0 577.0)"/>
<path d="M136.4,578.0 Q136.4,597.5 136.4,620.0" fill="none" stroke="#a8a8a8" stroke-width="4.2" stroke-linecap="round"/>
<path d="M136.4,578.0 Q136.4,597.5 136.4,620.0" fill="none" stroke="#cdcdcd" stroke-width="2.2" stroke-linecap="round"/>
<g filter="url(#bodyf)"><path d="M129.6,467.8 C130.5,467.8 131.4,469.7 132.3,471.2 C133.3,472.7 134.5,475.0 135.4,476.9 C136.4,478.8 137.1,481.0 137.8,482.6 C138.5,484.3 138.5,485.7 139.7,486.6 C140.9,487.6 144.0,487.6 145.1,488.4 C146.2,489.1 146.8,490.2 146.6,491.2 C146.4,492.3 143.7,493.2 143.9,494.6 C144.0,496.1 146.5,496.3 147.7,499.8 C148.9,503.3 150.1,509.7 151.3,515.8 C152.4,521.9 153.7,529.8 154.7,536.3 C155.8,542.8 157.1,549.3 157.5,554.6 C158.0,559.9 158.1,564.5 157.3,568.3 C156.5,572.1 156.8,575.1 152.9,577.4 C148.9,579.8 140.1,582.5 133.6,582.5 C127.1,582.5 118.1,579.8 114.0,577.4 C109.9,575.1 110.0,572.1 109.0,568.3 C107.9,564.5 107.7,559.9 107.7,554.6 C107.8,549.3 108.7,542.8 109.3,536.3 C109.9,529.8 110.6,521.9 111.3,515.8 C112.0,509.7 112.7,503.3 113.7,499.8 C114.7,496.3 117.1,496.1 117.2,494.6 C117.3,493.2 114.5,492.3 114.2,491.2 C114.0,490.2 114.4,489.1 115.5,488.4 C116.6,487.6 119.7,487.6 120.8,486.6 C122.0,485.7 121.8,484.3 122.4,482.6 C123.0,481.0 123.6,478.8 124.4,476.9 C125.2,475.0 126.2,472.7 127.1,471.2 C128.0,469.7 128.7,467.8 129.6,467.8 Z" fill="url(#bodyg)"/><path d="M129.6,467.8 C130.5,467.8 131.4,469.7 132.3,471.2 C133.3,472.7 134.5,475.0 135.4,476.9 C136.4,478.8 137.1,481.0 137.8,482.6 C138.5,484.3 138.5,485.7 139.7,486.6 C140.9,487.6 144.0,487.6 145.1,488.4 C146.2,489.1 146.8,490.2 146.6,491.2 C146.4,492.3 143.7,493.2 143.9,494.6 C144.0,496.1 146.5,496.3 147.7,499.8 C148.9,503.3 150.1,509.7 151.3,515.8 C152.4,521.9 153.7,529.8 154.7,536.3 C155.8,542.8 157.1,549.3 157.5,554.6 C158.0,559.9 158.1,564.5 157.3,568.3 C156.5,572.1 156.8,575.1 152.9,577.4 C148.9,579.8 140.1,582.5 133.6,582.5 C127.1,582.5 118.1,579.8 114.0,577.4 C109.9,575.1 110.0,572.1 109.0,568.3 C107.9,564.5 107.7,559.9 107.7,554.6 C107.8,549.3 108.7,542.8 109.3,536.3 C109.9,529.8 110.6,521.9 111.3,515.8 C112.0,509.7 112.7,503.3 113.7,499.8 C114.7,496.3 117.1,496.1 117.2,494.6 C117.3,493.2 114.5,492.3 114.2,491.2 C114.0,490.2 114.4,489.1 115.5,488.4 C116.6,487.6 119.7,487.6 120.8,486.6 C122.0,485.7 121.8,484.3 122.4,482.6 C123.0,481.0 123.6,478.8 124.4,476.9 C125.2,475.0 126.2,472.7 127.1,471.2 C128.0,469.7 128.7,467.8 129.6,467.8 Z" fill="url(#bodyv)"/></g>
<path d="M129.6,467.8 C130.5,467.8 131.4,469.7 132.3,471.2 C133.3,472.7 134.5,475.0 135.4,476.9 C136.4,478.8 137.1,481.0 137.8,482.6 C138.5,484.3 138.5,485.7 139.7,486.6 C140.9,487.6 144.0,487.6 145.1,488.4 C146.2,489.1 146.8,490.2 146.6,491.2 C146.4,492.3 143.7,493.2 143.9,494.6 C144.0,496.1 146.5,496.3 147.7,499.8 C148.9,503.3 150.1,509.7 151.3,515.8 C152.4,521.9 153.7,529.8 154.7,536.3 C155.8,542.8 157.1,549.3 157.5,554.6 C158.0,559.9 158.1,564.5 157.3,568.3 C156.5,572.1 156.8,575.1 152.9,577.4 C148.9,579.8 140.1,582.5 133.6,582.5 C127.1,582.5 118.1,579.8 114.0,577.4 C109.9,575.1 110.0,572.1 109.0,568.3 C107.9,564.5 107.7,559.9 107.7,554.6 C107.8,549.3 108.7,542.8 109.3,536.3 C109.9,529.8 110.6,521.9 111.3,515.8 C112.0,509.7 112.7,503.3 113.7,499.8 C114.7,496.3 117.1,496.1 117.2,494.6 C117.3,493.2 114.5,492.3 114.2,491.2 C114.0,490.2 114.4,489.1 115.5,488.4 C116.6,487.6 119.7,487.6 120.8,486.6 C122.0,485.7 121.8,484.3 122.4,482.6 C123.0,481.0 123.6,478.8 124.4,476.9 C125.2,475.0 126.2,472.7 127.1,471.2 C128.0,469.7 128.7,467.8 129.6,467.8 Z" fill="#000" filter="url(#furf)" opacity="0.13"/>
<path d="M127.4,456 L131.8,456 L132.2,463.8 C134.6,467.8 138.1,474.8 139.6,480.8 Q129.6,482.3 119.6,480.8 C121.1,474.8 124.6,467.8 127.0,463.8 Z" fill="url(#coneg)" opacity="0.45"/>
<rect x="127.4" y="456" width="1.1" height="11.8" fill="#bdbdbd" opacity="0.85"/>
<rect x="130.5" y="456" width="1.1" height="11.8" fill="#c8c8c8" opacity="0.85"/>
<path d="M120.1,480.3 Q129.6,482.3 139.1,480.3" fill="none" stroke="#8a8a8a" stroke-width="0.7" opacity="0.7"/>
<g filter="url(#hblur)"><path d="M119.5,497.5 118.5,498.5 117.5,498.5 116.5,499.5 115.5,499.5 114.5,498.5 113.5,498.5 112.5,499.5 112.5,500.5 111.5,501.5 111.5,504.5 110.5,505.5 110.5,508.5 111.5,509.5 111.5,513.5 112.5,514.5 112.5,515.5 111.5,516.5 110.5,516.5 110.5,519.5 109.5,520.5 110.5,521.5 110.5,523.5 111.5,524.5 111.5,526.5 110.5,527.5 110.5,530.5 111.5,531.5 111.5,533.5 112.5,534.5 113.5,534.5 114.5,535.5 114.5,536.5 115.5,537.5 116.5,537.5 117.5,538.5 120.5,538.5 122.5,540.5 122.5,541.5 127.5,541.5 129.5,543.5 130.5,543.5 132.5,541.5 133.5,541.5 134.5,542.5 138.5,542.5 140.5,540.5 141.5,540.5 143.5,538.5 145.5,538.5 145.5,537.5 147.5,535.5 148.5,535.5 147.5,534.5 147.5,533.5 150.5,530.5 150.5,528.5 151.5,527.5 150.5,526.5 151.5,525.5 151.5,523.5 150.5,522.5 150.5,521.5 151.5,520.5 151.5,519.5 152.5,518.5 151.5,517.5 151.5,516.5 152.5,515.5 153.5,515.5 153.5,513.5 151.5,511.5 151.5,506.5 149.5,504.5 149.5,501.5 148.5,500.5 147.5,500.5 146.5,499.5 144.5,499.5 142.5,497.5 140.5,499.5 137.5,499.5 136.5,498.5 132.5,498.5 131.5,497.5 130.5,497.5 129.5,498.5 127.5,498.5 125.5,500.5 124.5,499.5 124.5,497.5zM118.5,499.5 119.5,498.5 120.5,499.5 119.5,500.5z" fill="#7410ff" stroke="#7410ff" stroke-width="0.8" stroke-linejoin="round" fill-rule="evenodd"/><path d="M121.5,497.5 121.5,498.5 122.5,499.5 119.5,502.5 117.5,500.5 116.5,501.5 115.5,501.5 114.5,500.5 113.5,501.5 113.5,504.5 112.5,505.5 112.5,508.5 113.5,509.5 113.5,513.5 114.5,514.5 114.5,515.5 112.5,517.5 112.5,519.5 111.5,520.5 112.5,521.5 112.5,523.5 113.5,524.5 113.5,526.5 112.5,527.5 112.5,530.5 113.5,531.5 113.5,532.5 117.5,536.5 120.5,536.5 123.5,539.5 127.5,539.5 129.5,541.5 130.5,541.5 132.5,539.5 133.5,539.5 134.5,540.5 138.5,540.5 140.5,538.5 141.5,538.5 143.5,536.5 144.5,536.5 145.5,535.5 145.5,533.5 148.5,530.5 148.5,528.5 149.5,527.5 148.5,526.5 149.5,525.5 149.5,523.5 148.5,522.5 148.5,521.5 149.5,520.5 149.5,519.5 150.5,518.5 149.5,517.5 149.5,516.5 151.5,514.5 151.5,513.5 149.5,511.5 149.5,506.5 147.5,504.5 147.5,502.5 146.5,501.5 144.5,501.5 142.5,499.5 140.5,501.5 137.5,501.5 136.5,500.5 132.5,500.5 131.5,499.5 130.5,499.5 129.5,500.5 127.5,500.5 125.5,502.5 122.5,499.5 122.5,497.5z" fill="#1c22ff" stroke="#1c22ff" stroke-width="0.8" stroke-linejoin="round" fill-rule="evenodd"/><path d="M129.5,502.5 128.5,503.5 127.5,503.5 126.5,504.5 124.5,504.5 123.5,503.5 120.5,503.5 119.5,504.5 118.5,504.5 117.5,503.5 115.5,503.5 115.5,505.5 114.5,506.5 114.5,507.5 115.5,508.5 115.5,516.5 113.5,518.5 113.5,522.5 115.5,524.5 115.5,526.5 114.5,527.5 114.5,530.5 115.5,531.5 116.5,531.5 117.5,532.5 117.5,533.5 120.5,533.5 121.5,534.5 122.5,534.5 125.5,537.5 128.5,537.5 129.5,538.5 130.5,538.5 131.5,537.5 134.5,537.5 135.5,538.5 136.5,538.5 137.5,537.5 138.5,537.5 141.5,534.5 142.5,534.5 143.5,533.5 143.5,532.5 144.5,531.5 144.5,530.5 146.5,528.5 146.5,526.5 147.5,525.5 147.5,523.5 146.5,522.5 146.5,521.5 147.5,520.5 147.5,519.5 148.5,518.5 147.5,517.5 147.5,515.5 148.5,514.5 148.5,512.5 147.5,511.5 147.5,508.5 146.5,507.5 146.5,505.5 145.5,504.5 145.5,503.5 143.5,503.5 142.5,502.5 141.5,503.5 136.5,503.5 135.5,502.5z" fill="#0a6cff" stroke="#0a6cff" stroke-width="0.8" stroke-linejoin="round" fill-rule="evenodd"/><path d="M126.0,533.0h1v1h-1zM130.5,503.5 129.5,504.5 128.5,504.5 127.5,505.5 126.5,505.5 125.5,506.5 124.5,505.5 123.5,505.5 122.5,504.5 121.5,505.5 116.5,505.5 116.5,516.5 115.5,517.5 115.5,518.5 114.5,519.5 114.5,522.5 116.5,524.5 116.5,527.5 115.5,528.5 115.5,529.5 116.5,530.5 117.5,530.5 119.5,532.5 120.5,531.5 121.5,532.5 122.5,532.5 123.5,531.5 126.5,531.5 126.5,530.5 127.5,529.5 128.5,529.5 129.5,530.5 129.5,531.5 130.5,532.5 132.5,530.5 134.5,532.5 134.5,533.5 133.5,534.5 134.5,535.5 135.5,535.5 136.5,536.5 137.5,536.5 138.5,535.5 138.5,534.5 139.5,533.5 141.5,533.5 141.5,532.5 142.5,531.5 142.5,530.5 144.5,528.5 144.5,526.5 145.5,525.5 145.5,520.5 146.5,519.5 146.5,515.5 147.5,514.5 147.5,513.5 146.5,512.5 146.5,511.5 145.5,510.5 145.5,508.5 144.5,507.5 144.5,504.5 139.5,504.5 138.5,505.5 137.5,505.5 136.5,504.5 132.5,504.5 131.5,503.5zM134.5,533.5 135.5,532.5 136.5,533.5 135.5,534.5z" fill="#00c8ff" stroke="#00c8ff" stroke-width="0.8" stroke-linejoin="round" fill-rule="evenodd"/><path d="M130.5,504.5 128.5,506.5 127.5,506.5 126.5,507.5 124.5,507.5 122.5,505.5 119.5,508.5 118.5,507.5 118.5,506.5 117.5,506.5 118.5,507.5 118.5,509.5 117.5,510.5 117.5,516.5 116.5,517.5 116.5,518.5 115.5,519.5 115.5,522.5 116.5,523.5 116.5,524.5 117.5,525.5 117.5,527.5 116.5,528.5 116.5,529.5 123.5,529.5 124.5,528.5 126.5,528.5 127.5,527.5 132.5,527.5 134.5,529.5 135.5,529.5 136.5,530.5 138.5,530.5 139.5,531.5 141.5,531.5 141.5,530.5 140.5,529.5 141.5,528.5 142.5,528.5 142.5,527.5 143.5,526.5 143.5,525.5 144.5,524.5 144.5,520.5 145.5,519.5 145.5,518.5 144.5,517.5 144.5,515.5 145.5,514.5 145.5,512.5 144.5,511.5 144.5,510.5 143.5,509.5 143.5,505.5 142.5,505.5 141.5,506.5 138.5,506.5 137.5,507.5 135.5,505.5 131.5,505.5z" fill="#00f0d8" stroke="#00f0d8" stroke-width="0.8" stroke-linejoin="round" fill-rule="evenodd"/><path d="M119.5,509.5 118.5,510.5 118.5,515.5 117.5,516.5 117.5,517.5 116.5,518.5 116.5,519.5 115.5,520.5 116.5,521.5 116.5,523.5 117.5,524.5 117.5,525.5 118.5,526.5 118.5,528.5 119.5,527.5 120.5,527.5 121.5,526.5 124.5,526.5 125.5,525.5 126.5,525.5 127.5,526.5 133.5,526.5 135.5,528.5 136.5,528.5 137.5,529.5 139.5,529.5 140.5,528.5 140.5,527.5 141.5,526.5 141.5,524.5 142.5,523.5 142.5,521.5 143.5,520.5 143.5,518.5 142.5,517.5 142.5,514.5 143.5,513.5 142.5,514.5 141.5,514.5 140.5,513.5 140.5,512.5 141.5,511.5 141.5,509.5 141.5,510.5 140.5,511.5 137.5,511.5 136.5,512.5 135.5,512.5 133.5,510.5 132.5,510.5 131.5,511.5 129.5,511.5 128.5,512.5 127.5,512.5 126.5,511.5 125.5,512.5 124.5,512.5 123.5,511.5 124.5,510.5 124.5,509.5 123.5,510.5 121.5,510.5 120.5,509.5z" fill="#18f070" stroke="#18f070" stroke-width="0.8" stroke-linejoin="round" fill-rule="evenodd"/><path d="M120.5,513.5 118.5,515.5 118.5,517.5 117.5,518.5 117.5,519.5 116.5,520.5 116.5,521.5 117.5,522.5 117.5,523.5 118.5,524.5 118.5,525.5 120.5,525.5 121.5,524.5 123.5,524.5 124.5,523.5 127.5,523.5 128.5,524.5 129.5,523.5 130.5,524.5 133.5,524.5 136.5,527.5 137.5,527.5 138.5,528.5 139.5,528.5 139.5,526.5 140.5,525.5 140.5,521.5 141.5,520.5 141.5,517.5 140.5,516.5 140.5,515.5 138.5,513.5 128.5,513.5 127.5,514.5 123.5,514.5 122.5,513.5z" fill="#40f020" stroke="#40f020" stroke-width="0.8" stroke-linejoin="round" fill-rule="evenodd"/><path d="M133.5,513.5 132.5,514.5 130.5,514.5 129.5,515.5 126.5,515.5 125.5,516.5 124.5,515.5 124.5,516.5 123.5,517.5 121.5,517.5 120.5,516.5 119.5,516.5 118.5,517.5 118.5,518.5 117.5,519.5 117.5,521.5 118.5,522.5 118.5,523.5 121.5,520.5 122.5,520.5 123.5,519.5 124.5,519.5 125.5,518.5 126.5,518.5 127.5,519.5 126.5,520.5 126.5,521.5 127.5,521.5 128.5,522.5 130.5,522.5 131.5,523.5 134.5,523.5 135.5,524.5 135.5,525.5 136.5,526.5 137.5,526.5 138.5,527.5 139.5,526.5 139.5,522.5 140.5,521.5 140.5,518.5 139.5,517.5 139.5,516.5 137.5,514.5 136.5,514.5 135.5,513.5z" fill="#b8f000" stroke="#b8f000" stroke-width="0.8" stroke-linejoin="round" fill-rule="evenodd"/><path d="M132.5,514.5 131.5,515.5 130.5,515.5 129.5,516.5 129.5,517.5 128.5,518.5 128.5,520.5 129.5,521.5 130.5,521.5 131.5,522.5 134.5,522.5 136.5,524.5 136.5,525.5 138.5,525.5 139.5,524.5 139.5,518.5 138.5,517.5 138.5,516.5 137.5,515.5 135.5,515.5 134.5,514.5z" fill="#fff000" stroke="#fff000" stroke-width="0.8" stroke-linejoin="round" fill-rule="evenodd"/><path d="M132.5,515.5 131.5,516.5 130.5,516.5 130.5,517.5 129.5,518.5 129.5,520.5 130.5,521.5 133.5,521.5 134.5,522.5 135.5,522.5 137.5,524.5 138.5,524.5 138.5,521.5 139.5,520.5 139.5,519.5 138.5,518.5 138.5,517.5 137.5,516.5 135.5,516.5 134.5,515.5z" fill="#ff9800" stroke="#ff9800" stroke-width="0.8" stroke-linejoin="round" fill-rule="evenodd"/><path d="M131.5,516.5 130.5,517.5 130.5,520.5 131.5,520.5 132.5,521.5 135.5,521.5 137.5,523.5 138.5,523.5 138.5,518.5 136.5,516.5z" fill="#ff1400" stroke="#ff1400" stroke-width="0.8" stroke-linejoin="round" fill-rule="evenodd"/></g>
<rect x="97.5" y="450.5" width="69" height="166" fill="none" stroke="#151515" stroke-width="1"/>
</g>
<clipPath id="c171_450"><rect x="171" y="450" width="70" height="167"/></clipPath>
<g clip-path="url(#c171_450)">
<rect x="171" y="450" width="70" height="167" fill="#2d2d2d"/>
<rect x="171" y="450" width="70" height="167" fill="#000" filter="url(#bgn)" opacity="0.6"/>
<rect x="171" y="450" width="70" height="32.60000000000002" fill="#262626"/>
<rect x="171" y="451" width="70" height="4.5" fill="#444444"/>
<rect x="171" y="455.5" width="70" height="1" fill="#1e1e1e"/>
<g filter="url(#soft)"><rect x="173" y="458" width="2.6" height="20.600000000000023" fill="#474747"/><rect x="190.5" y="458" width="2.6" height="20.600000000000023" fill="#474747"/><rect x="218" y="458" width="2.6" height="20.600000000000023" fill="#474747"/><rect x="229.5" y="458" width="2.6" height="20.600000000000023" fill="#474747"/><rect x="177" y="457" width="2.4" height="22.600000000000023" fill="#1a1a1a"/><rect x="187" y="457" width="2.4" height="22.600000000000023" fill="#1a1a1a"/><rect x="194" y="457" width="2.4" height="22.600000000000023" fill="#1a1a1a"/><rect x="215" y="457" width="2.4" height="22.600000000000023" fill="#1a1a1a"/><rect x="224" y="457" width="2.4" height="22.600000000000023" fill="#1a1a1a"/><rect x="234" y="457" width="2.4" height="22.600000000000023" fill="#1a1a1a"/></g>
<path d="M188.0,500.0 L181.0,496.0 L178.0,493.0" fill="none" stroke="#8e8e8e" stroke-width="4.60" stroke-linecap="round" stroke-linejoin="round"/>
<path d="M188.0,500.0 L181.0,496.0 L178.0,493.0" fill="none" stroke="#b4b4b4" stroke-width="2.20" stroke-linecap="round" stroke-linejoin="round"/>
<ellipse cx="178.0" cy="493.0" rx="4.0" ry="2.8" fill="#9c9c9c" transform="rotate(-135 178.0 493.0)"/>
<path d="M222.0,503.0 L232.0,501.0 L237.0,499.0" fill="none" stroke="#8e8e8e" stroke-width="4.60" stroke-linecap="round" stroke-linejoin="round"/>
<path d="M222.0,503.0 L232.0,501.0 L237.0,499.0" fill="none" stroke="#b4b4b4" stroke-width="2.20" stroke-linecap="round" stroke-linejoin="round"/>
<ellipse cx="237.0" cy="499.0" rx="4.0" ry="2.8" fill="#9c9c9c" transform="rotate(-22 237.0 499.0)"/>
<path d="M190.0,573.0 L184.0,579.0 L180.0,582.0" fill="none" stroke="#8e8e8e" stroke-width="5.17" stroke-linecap="round" stroke-linejoin="round"/>
<path d="M190.0,573.0 L184.0,579.0 L180.0,582.0" fill="none" stroke="#b4b4b4" stroke-width="2.48" stroke-linecap="round" stroke-linejoin="round"/>
<ellipse cx="180.0" cy="582.0" rx="4.5" ry="3.1" fill="#9c9c9c" transform="rotate(143 180.0 582.0)"/>
<path d="M224.0,570.0 L232.0,572.0 L238.0,572.0" fill="none" stroke="#8e8e8e" stroke-width="5.17" stroke-linecap="round" stroke-linejoin="round"/>
<path d="M224.0,570.0 L232.0,572.0 L238.0,572.0" fill="none" stroke="#b4b4b4" stroke-width="2.48" stroke-linecap="round" stroke-linejoin="round"/>
<ellipse cx="238.0" cy="572.0" rx="4.5" ry="3.1" fill="#9c9c9c" transform="rotate(0 238.0 572.0)"/>
<path d="M208.3,578.0 Q205.5,597.5 202.7,620.0" fill="none" stroke="#a8a8a8" stroke-width="4.2" stroke-linecap="round"/>
<path d="M208.3,578.0 Q205.5,597.5 202.7,620.0" fill="none" stroke="#cdcdcd" stroke-width="2.2" stroke-linecap="round"/>
<g filter="url(#bodyf)"><path d="M204.3,466.6 C205.1,466.6 206.0,468.5 206.9,470.0 C207.8,471.5 209.0,473.8 209.8,475.7 C210.7,477.6 211.4,479.8 212.0,481.4 C212.7,483.0 212.7,484.5 213.8,485.4 C214.9,486.4 217.7,486.4 218.8,487.1 C219.9,487.9 220.4,488.9 220.2,490.0 C220.0,491.0 217.4,492.0 217.6,493.4 C217.7,494.8 220.0,495.0 221.1,498.5 C222.2,502.0 223.2,508.4 224.2,514.5 C225.2,520.6 226.3,528.5 227.2,535.0 C228.0,541.5 229.2,547.9 229.5,553.2 C229.9,558.6 230.0,563.1 229.4,566.9 C228.7,570.7 229.0,573.7 225.5,576.0 C221.9,578.4 214.1,581.1 208.3,581.1 C202.5,581.1 194.5,578.4 190.8,576.0 C187.2,573.7 187.2,570.7 186.3,566.9 C185.3,563.1 185.1,558.6 185.1,553.2 C185.1,547.9 185.8,541.5 186.2,535.0 C186.7,528.5 187.2,520.6 187.7,514.5 C188.3,508.4 188.9,502.0 189.7,498.5 C190.6,495.0 192.8,494.8 192.9,493.4 C193.0,492.0 190.4,491.0 190.1,490.0 C189.8,488.9 190.2,487.9 191.3,487.1 C192.3,486.4 195.1,486.4 196.1,485.4 C197.2,484.5 197.1,483.0 197.6,481.4 C198.2,479.8 198.7,477.6 199.4,475.7 C200.2,473.8 201.1,471.5 201.9,470.0 C202.8,468.5 203.5,466.6 204.3,466.6 Z" fill="url(#bodyg)"/><path d="M204.3,466.6 C205.1,466.6 206.0,468.5 206.9,470.0 C207.8,471.5 209.0,473.8 209.8,475.7 C210.7,477.6 211.4,479.8 212.0,481.4 C212.7,483.0 212.7,484.5 213.8,485.4 C214.9,486.4 217.7,486.4 218.8,487.1 C219.9,487.9 220.4,488.9 220.2,490.0 C220.0,491.0 217.4,492.0 217.6,493.4 C217.7,494.8 220.0,495.0 221.1,498.5 C222.2,502.0 223.2,508.4 224.2,514.5 C225.2,520.6 226.3,528.5 227.2,535.0 C228.0,541.5 229.2,547.9 229.5,553.2 C229.9,558.6 230.0,563.1 229.4,566.9 C228.7,570.7 229.0,573.7 225.5,576.0 C221.9,578.4 214.1,581.1 208.3,581.1 C202.5,581.1 194.5,578.4 190.8,576.0 C187.2,573.7 187.2,570.7 186.3,566.9 C185.3,563.1 185.1,558.6 185.1,553.2 C185.1,547.9 185.8,541.5 186.2,535.0 C186.7,528.5 187.2,520.6 187.7,514.5 C188.3,508.4 188.9,502.0 189.7,498.5 C190.6,495.0 192.8,494.8 192.9,493.4 C193.0,492.0 190.4,491.0 190.1,490.0 C189.8,488.9 190.2,487.9 191.3,487.1 C192.3,486.4 195.1,486.4 196.1,485.4 C197.2,484.5 197.1,483.0 197.6,481.4 C198.2,479.8 198.7,477.6 199.4,475.7 C200.2,473.8 201.1,471.5 201.9,470.0 C202.8,468.5 203.5,466.6 204.3,466.6 Z" fill="url(#bodyv)"/></g>
<path d="M204.3,466.6 C205.1,466.6 206.0,468.5 206.9,470.0 C207.8,471.5 209.0,473.8 209.8,475.7 C210.7,477.6 211.4,479.8 212.0,481.4 C212.7,483.0 212.7,484.5 213.8,485.4 C214.9,486.4 217.7,486.4 218.8,487.1 C219.9,487.9 220.4,488.9 220.2,490.0 C220.0,491.0 217.4,492.0 217.6,493.4 C217.7,494.8 220.0,495.0 221.1,498.5 C222.2,502.0 223.2,508.4 224.2,514.5 C225.2,520.6 226.3,528.5 227.2,535.0 C228.0,541.5 229.2,547.9 229.5,553.2 C229.9,558.6 230.0,563.1 229.4,566.9 C228.7,570.7 229.0,573.7 225.5,576.0 C221.9,578.4 214.1,581.1 208.3,581.1 C202.5,581.1 194.5,578.4 190.8,576.0 C187.2,573.7 187.2,570.7 186.3,566.9 C185.3,563.1 185.1,558.6 185.1,553.2 C185.1,547.9 185.8,541.5 186.2,535.0 C186.7,528.5 187.2,520.6 187.7,514.5 C188.3,508.4 188.9,502.0 189.7,498.5 C190.6,495.0 192.8,494.8 192.9,493.4 C193.0,492.0 190.4,491.0 190.1,490.0 C189.8,488.9 190.2,487.9 191.3,487.1 C192.3,486.4 195.1,486.4 196.1,485.4 C197.2,484.5 197.1,483.0 197.6,481.4 C198.2,479.8 198.7,477.6 199.4,475.7 C200.2,473.8 201.1,471.5 201.9,470.0 C202.8,468.5 203.5,466.6 204.3,466.6 Z" fill="#000" filter="url(#furf)" opacity="0.13"/>
<path d="M202.1,456 L206.5,456 L206.9,462.6 C209.3,466.6 212.8,473.6 214.3,479.6 Q204.3,481.1 194.3,479.6 C195.8,473.6 199.3,466.6 201.7,462.6 Z" fill="url(#coneg)" opacity="0.45"/>
<rect x="202.1" y="456" width="1.1" height="10.6" fill="#bdbdbd" opacity="0.85"/>
<rect x="205.2" y="456" width="1.1" height="10.6" fill="#c8c8c8" opacity="0.85"/>
<path d="M194.8,479.1 Q204.3,481.1 213.8,479.1" fill="none" stroke="#8a8a8a" stroke-width="0.7" opacity="0.7"/>
<rect x="201.9" y="606.3000000000001" width="2.8" height="2.8" fill="#7a20ff"/>
<g filter="url(#hblur)"><path d="M198.0,538.0h1v1h-1zM184.0,517.0h1v1h-1zM194.5,495.5 194.5,496.5 193.5,497.5 192.5,497.5 190.5,499.5 189.5,498.5 186.5,501.5 187.5,502.5 187.5,503.5 186.5,504.5 185.5,504.5 185.5,505.5 184.5,506.5 184.5,507.5 185.5,508.5 185.5,509.5 184.5,510.5 184.5,513.5 185.5,514.5 185.5,515.5 187.5,517.5 186.5,518.5 186.5,519.5 184.5,521.5 184.5,523.5 186.5,525.5 187.5,525.5 189.5,527.5 188.5,528.5 188.5,530.5 192.5,534.5 192.5,536.5 193.5,535.5 194.5,535.5 195.5,536.5 196.5,536.5 197.5,535.5 199.5,535.5 200.5,536.5 200.5,537.5 201.5,538.5 202.5,537.5 203.5,537.5 205.5,535.5 206.5,536.5 207.5,536.5 208.5,537.5 210.5,537.5 211.5,538.5 212.5,538.5 214.5,536.5 215.5,536.5 216.5,537.5 218.5,535.5 219.5,535.5 220.5,536.5 220.5,535.5 221.5,534.5 221.5,532.5 224.5,529.5 224.5,523.5 222.5,521.5 224.5,519.5 224.5,513.5 225.5,512.5 225.5,510.5 224.5,510.5 223.5,509.5 223.5,507.5 226.5,504.5 226.5,503.5 224.5,503.5 223.5,502.5 223.5,500.5 222.5,499.5 222.5,497.5 219.5,497.5 218.5,498.5 217.5,498.5 212.5,503.5 209.5,503.5 208.5,502.5 207.5,502.5 206.5,501.5 205.5,501.5 203.5,499.5 195.5,499.5 194.5,498.5z" fill="#7410ff" stroke="#7410ff" stroke-width="0.8" stroke-linejoin="round" fill-rule="evenodd"/><path d="M192.5,499.5 190.5,501.5 189.5,500.5 188.5,501.5 189.5,502.5 189.5,503.5 186.5,506.5 186.5,507.5 187.5,508.5 187.5,509.5 185.5,511.5 185.5,512.5 187.5,514.5 187.5,515.5 189.5,517.5 188.5,518.5 188.5,519.5 185.5,522.5 186.5,523.5 187.5,523.5 191.5,527.5 190.5,528.5 190.5,530.5 193.5,533.5 194.5,533.5 195.5,534.5 196.5,534.5 197.5,533.5 199.5,533.5 201.5,535.5 203.5,535.5 205.5,533.5 206.5,534.5 207.5,534.5 208.5,535.5 210.5,535.5 211.5,536.5 212.5,536.5 214.5,534.5 215.5,534.5 216.5,535.5 218.5,533.5 219.5,533.5 219.5,532.5 222.5,529.5 222.5,523.5 220.5,521.5 222.5,519.5 222.5,513.5 223.5,512.5 223.5,511.5 221.5,509.5 221.5,507.5 223.5,505.5 223.5,504.5 221.5,502.5 221.5,500.5 220.5,499.5 219.5,499.5 218.5,500.5 217.5,500.5 212.5,505.5 209.5,505.5 208.5,504.5 207.5,504.5 206.5,503.5 205.5,503.5 203.5,501.5 195.5,501.5 193.5,499.5z" fill="#1c22ff" stroke="#1c22ff" stroke-width="0.8" stroke-linejoin="round" fill-rule="evenodd"/><path d="M192.5,503.5 191.5,504.5 191.5,506.5 190.5,507.5 190.5,508.5 189.5,509.5 189.5,513.5 190.5,514.5 190.5,516.5 191.5,517.5 190.5,518.5 190.5,520.5 189.5,521.5 189.5,522.5 190.5,523.5 191.5,523.5 192.5,524.5 192.5,525.5 193.5,526.5 193.5,529.5 194.5,529.5 195.5,530.5 195.5,531.5 196.5,531.5 197.5,530.5 199.5,530.5 200.5,531.5 201.5,531.5 202.5,532.5 203.5,532.5 205.5,530.5 206.5,531.5 208.5,531.5 210.5,533.5 211.5,533.5 212.5,532.5 213.5,532.5 214.5,531.5 215.5,532.5 216.5,532.5 218.5,530.5 218.5,528.5 219.5,527.5 219.5,526.5 220.5,525.5 219.5,524.5 219.5,523.5 217.5,521.5 218.5,520.5 218.5,519.5 219.5,518.5 219.5,513.5 220.5,512.5 219.5,511.5 219.5,510.5 218.5,509.5 219.5,508.5 219.5,503.5 215.5,507.5 207.5,507.5 206.5,506.5 205.5,506.5 204.5,505.5 203.5,505.5 202.5,504.5 195.5,504.5 194.5,503.5z" fill="#0a6cff" stroke="#0a6cff" stroke-width="0.8" stroke-linejoin="round" fill-rule="evenodd"/><path d="M193.5,505.5 193.5,506.5 192.5,507.5 192.5,508.5 191.5,509.5 191.5,510.5 190.5,511.5 190.5,512.5 191.5,513.5 191.5,516.5 192.5,517.5 191.5,518.5 191.5,520.5 190.5,521.5 191.5,522.5 192.5,522.5 193.5,523.5 193.5,525.5 195.5,527.5 194.5,528.5 195.5,529.5 202.5,529.5 203.5,528.5 205.5,528.5 206.5,529.5 209.5,529.5 210.5,528.5 211.5,529.5 211.5,530.5 214.5,530.5 218.5,526.5 217.5,525.5 217.5,523.5 216.5,522.5 216.5,521.5 217.5,520.5 217.5,518.5 218.5,517.5 218.5,512.5 217.5,511.5 217.5,510.5 216.5,509.5 217.5,508.5 217.5,507.5 215.5,509.5 213.5,509.5 212.5,510.5 211.5,509.5 208.5,509.5 207.5,508.5 203.5,508.5 201.5,506.5 195.5,506.5 194.5,505.5z" fill="#00c8ff" stroke="#00c8ff" stroke-width="0.8" stroke-linejoin="round" fill-rule="evenodd"/><path d="M216.5,514.5 215.5,515.5 215.5,516.5 214.5,517.5 213.5,516.5 212.5,516.5 212.5,517.5 213.5,517.5 214.5,518.5 214.5,521.5 213.5,522.5 215.5,524.5 216.5,524.5 216.5,517.5 217.5,516.5 217.5,514.5zM210.5,510.5 210.5,511.5zM206.5,509.5 206.5,512.5 207.5,513.5 207.5,515.5 206.5,516.5 206.5,517.5 205.5,518.5 204.5,518.5 203.5,517.5 203.5,516.5 204.5,515.5 204.5,513.5 203.5,512.5 202.5,512.5 201.5,511.5 201.5,510.5 199.5,510.5 198.5,511.5 197.5,511.5 196.5,510.5 195.5,511.5 194.5,511.5 193.5,510.5 192.5,510.5 192.5,519.5 191.5,520.5 191.5,521.5 192.5,521.5 194.5,523.5 194.5,525.5 196.5,527.5 196.5,528.5 198.5,528.5 199.5,527.5 199.5,524.5 200.5,523.5 201.5,523.5 202.5,524.5 203.5,524.5 204.5,525.5 204.5,526.5 205.5,525.5 207.5,525.5 208.5,526.5 209.5,525.5 210.5,525.5 210.5,519.5 209.5,518.5 209.5,517.5 208.5,516.5 208.5,512.5 207.5,511.5 207.5,509.5zM201.5,520.5 202.5,519.5 205.5,519.5 206.5,520.5 206.5,521.5 205.5,522.5 203.5,522.5z" fill="#00f0d8" stroke="#00f0d8" stroke-width="0.8" stroke-linejoin="round" fill-rule="evenodd"/><path d="M215.5,520.5 215.5,522.5 215.5,521.5 216.5,520.5zM193.5,512.5 193.5,513.5 192.5,514.5 192.5,515.5 193.5,516.5 193.5,518.5 192.5,519.5 192.5,521.5 193.5,521.5 194.5,522.5 194.5,524.5 196.5,526.5 197.5,526.5 198.5,525.5 198.5,524.5 200.5,522.5 202.5,522.5 201.5,522.5 200.5,521.5 200.5,519.5 199.5,518.5 200.5,517.5 202.5,517.5 202.5,516.5 200.5,516.5 199.5,515.5 199.5,514.5 198.5,514.5 197.5,513.5 196.5,513.5 195.5,512.5z" fill="#18f070" stroke="#18f070" stroke-width="0.8" stroke-linejoin="round" fill-rule="evenodd"/><path d="M193.5,513.5 193.5,519.5 192.5,520.5 193.5,521.5 194.5,520.5 195.5,521.5 197.5,521.5 198.5,522.5 198.5,515.5 197.5,515.5 195.5,513.5z" fill="#40f020" stroke="#40f020" stroke-width="0.8" stroke-linejoin="round" fill-rule="evenodd"/><path d="M194.5,513.5 193.5,514.5 193.5,516.5 194.5,517.5 194.5,519.5 193.5,520.5 194.5,519.5 195.5,519.5 197.5,517.5 196.5,516.5 196.5,515.5z" fill="#b8f000" stroke="#b8f000" stroke-width="0.8" stroke-linejoin="round" fill-rule="evenodd"/><path d="M194.5,514.5 193.5,515.5 194.5,516.5 194.5,517.5 195.5,517.5 195.5,515.5z" fill="#fff000" stroke="#fff000" stroke-width="0.8" stroke-linejoin="round" fill-rule="evenodd"/><path d="M194.5,515.5 194.5,516.5 195.5,516.5z" fill="#ff9800" stroke="#ff9800" stroke-width="0.8" stroke-linejoin="round" fill-rule="evenodd"/><path d="M194.0,516.0h1v1h-1z" fill="#ff1400" stroke="#ff1400" stroke-width="0.8" stroke-linejoin="round" fill-rule="evenodd"/></g>
<rect x="171.5" y="450.5" width="69" height="166" fill="none" stroke="#151515" stroke-width="1"/>
</g>
<clipPath id="c245_450"><rect x="245" y="450" width="70" height="167"/></clipPath>
<g clip-path="url(#c245_450)">
<rect x="245" y="450" width="70" height="167" fill="#2d2d2d"/>
<rect x="245" y="450" width="70" height="167" fill="#000" filter="url(#bgn)" opacity="0.6"/>
<rect x="245" y="450" width="70" height="33.80000000000001" fill="#262626"/>
<rect x="245" y="451" width="70" height="4.5" fill="#444444"/>
<rect x="245" y="455.5" width="70" height="1" fill="#1e1e1e"/>
<g filter="url(#soft)"><rect x="247" y="458" width="2.6" height="21.80000000000001" fill="#474747"/><rect x="264.5" y="458" width="2.6" height="21.80000000000001" fill="#474747"/><rect x="292" y="458" width="2.6" height="21.80000000000001" fill="#474747"/><rect x="303.5" y="458" width="2.6" height="21.80000000000001" fill="#474747"/><rect x="251" y="457" width="2.4" height="23.80000000000001" fill="#1a1a1a"/><rect x="261" y="457" width="2.4" height="23.80000000000001" fill="#1a1a1a"/><rect x="268" y="457" width="2.4" height="23.80000000000001" fill="#1a1a1a"/><rect x="289" y="457" width="2.4" height="23.80000000000001" fill="#1a1a1a"/><rect x="298" y="457" width="2.4" height="23.80000000000001" fill="#1a1a1a"/><rect x="308" y="457" width="2.4" height="23.80000000000001" fill="#1a1a1a"/></g>
<path d="M296.0,582.0 L304.0,592.0 L310.0,598.0" fill="none" stroke="#8e8e8e" stroke-width="4.60" stroke-linecap="round" stroke-linejoin="round"/>
<path d="M296.0,582.0 L304.0,592.0 L310.0,598.0" fill="none" stroke="#b4b4b4" stroke-width="2.20" stroke-linecap="round" stroke-linejoin="round"/>
<ellipse cx="310.0" cy="598.0" rx="4.0" ry="2.8" fill="#9c9c9c" transform="rotate(45 310.0 598.0)"/>
<path d="M283.4,588.0 Q283.4,602.5 283.4,620.0" fill="none" stroke="#a8a8a8" stroke-width="4.2" stroke-linecap="round"/>
<path d="M283.4,588.0 Q283.4,602.5 283.4,620.0" fill="none" stroke="#cdcdcd" stroke-width="2.2" stroke-linecap="round"/>
<path d="M270.0,493.0 C268.0,492.0 262.5,495.0 259.0,497.0 C255.5,499.0 250.2,502.8 249.0,505.0 C247.8,507.2 249.8,509.7 252.0,510.0 C254.2,510.3 258.8,508.2 262.0,507.0 C265.2,505.8 269.7,505.3 271.0,503.0 C272.3,500.7 272.0,494.0 270.0,493.0 Z" fill="#c8c8c8" filter="url(#bodyf)"/>
<path d="M285.0,494.0 C286.2,492.8 292.8,497.7 295.0,500.0 C297.2,502.3 299.2,506.8 298.0,508.0 C296.8,509.2 290.2,509.3 288.0,507.0 C285.8,504.7 283.8,495.2 285.0,494.0 Z" fill="#c8c8c8" filter="url(#bodyf)"/>
<g filter="url(#bodyf)"><path d="M277.9,467.8 C278.7,467.8 279.6,469.9 280.5,471.5 C281.4,473.2 282.6,475.6 283.4,477.7 C284.2,479.8 284.9,482.1 285.6,483.9 C286.2,485.6 286.2,487.2 287.3,488.2 C288.4,489.3 291.3,489.3 292.4,490.1 C293.5,490.9 294.0,492.0 293.8,493.2 C293.5,494.3 290.9,495.3 291.1,496.9 C291.2,498.4 293.5,498.6 294.6,502.5 C295.7,506.3 296.6,513.2 297.5,519.8 C298.5,526.4 299.4,535.1 300.2,542.1 C301.0,549.1 302.0,556.1 302.3,561.9 C302.6,567.7 302.6,572.6 301.9,576.7 C301.1,580.9 301.3,584.1 297.7,586.6 C294.1,589.2 285.9,592.1 280.0,592.1 C274.1,592.1 265.9,589.2 262.1,586.6 C258.4,584.1 258.5,580.9 257.6,576.7 C256.7,572.6 256.6,567.7 256.7,561.9 C256.8,556.1 257.6,549.1 258.1,542.1 C258.7,535.1 259.3,526.4 260.0,519.8 C260.7,513.2 261.4,506.3 262.4,502.5 C263.3,498.6 265.6,498.4 265.7,496.9 C265.8,495.3 263.2,494.3 262.9,493.2 C262.6,492.0 263.1,490.9 264.1,490.1 C265.2,489.3 268.1,489.3 269.2,488.2 C270.3,487.2 270.2,485.6 270.8,483.9 C271.4,482.1 272.0,479.8 272.7,477.7 C273.5,475.6 274.6,473.2 275.4,471.5 C276.3,469.9 277.1,467.8 277.9,467.8 Z" fill="url(#bodyg)"/><path d="M277.9,467.8 C278.7,467.8 279.6,469.9 280.5,471.5 C281.4,473.2 282.6,475.6 283.4,477.7 C284.2,479.8 284.9,482.1 285.6,483.9 C286.2,485.6 286.2,487.2 287.3,488.2 C288.4,489.3 291.3,489.3 292.4,490.1 C293.5,490.9 294.0,492.0 293.8,493.2 C293.5,494.3 290.9,495.3 291.1,496.9 C291.2,498.4 293.5,498.6 294.6,502.5 C295.7,506.3 296.6,513.2 297.5,519.8 C298.5,526.4 299.4,535.1 300.2,542.1 C301.0,549.1 302.0,556.1 302.3,561.9 C302.6,567.7 302.6,572.6 301.9,576.7 C301.1,580.9 301.3,584.1 297.7,586.6 C294.1,589.2 285.9,592.1 280.0,592.1 C274.1,592.1 265.9,589.2 262.1,586.6 C258.4,584.1 258.5,580.9 257.6,576.7 C256.7,572.6 256.6,567.7 256.7,561.9 C256.8,556.1 257.6,549.1 258.1,542.1 C258.7,535.1 259.3,526.4 260.0,519.8 C260.7,513.2 261.4,506.3 262.4,502.5 C263.3,498.6 265.6,498.4 265.7,496.9 C265.8,495.3 263.2,494.3 262.9,493.2 C262.6,492.0 263.1,490.9 264.1,490.1 C265.2,489.3 268.1,489.3 269.2,488.2 C270.3,487.2 270.2,485.6 270.8,483.9 C271.4,482.1 272.0,479.8 272.7,477.7 C273.5,475.6 274.6,473.2 275.4,471.5 C276.3,469.9 277.1,467.8 277.9,467.8 Z" fill="url(#bodyv)"/></g>
<path d="M277.9,467.8 C278.7,467.8 279.6,469.9 280.5,471.5 C281.4,473.2 282.6,475.6 283.4,477.7 C284.2,479.8 284.9,482.1 285.6,483.9 C286.2,485.6 286.2,487.2 287.3,488.2 C288.4,489.3 291.3,489.3 292.4,490.1 C293.5,490.9 294.0,492.0 293.8,493.2 C293.5,494.3 290.9,495.3 291.1,496.9 C291.2,498.4 293.5,498.6 294.6,502.5 C295.7,506.3 296.6,513.2 297.5,519.8 C298.5,526.4 299.4,535.1 300.2,542.1 C301.0,549.1 302.0,556.1 302.3,561.9 C302.6,567.7 302.6,572.6 301.9,576.7 C301.1,580.9 301.3,584.1 297.7,586.6 C294.1,589.2 285.9,592.1 280.0,592.1 C274.1,592.1 265.9,589.2 262.1,586.6 C258.4,584.1 258.5,580.9 257.6,576.7 C256.7,572.6 256.6,567.7 256.7,561.9 C256.8,556.1 257.6,549.1 258.1,542.1 C258.7,535.1 259.3,526.4 260.0,519.8 C260.7,513.2 261.4,506.3 262.4,502.5 C263.3,498.6 265.6,498.4 265.7,496.9 C265.8,495.3 263.2,494.3 262.9,493.2 C262.6,492.0 263.1,490.9 264.1,490.1 C265.2,489.3 268.1,489.3 269.2,488.2 C270.3,487.2 270.2,485.6 270.8,483.9 C271.4,482.1 272.0,479.8 272.7,477.7 C273.5,475.6 274.6,473.2 275.4,471.5 C276.3,469.9 277.1,467.8 277.9,467.8 Z" fill="#000" filter="url(#furf)" opacity="0.13"/>
<path d="M275.7,456 L280.1,456 L280.5,463.8 C282.9,467.8 286.4,474.8 287.9,480.8 Q277.9,482.3 267.9,480.8 C269.4,474.8 272.9,467.8 275.3,463.8 Z" fill="url(#coneg)" opacity="0.45"/>
<rect x="275.7" y="456" width="1.1" height="11.8" fill="#bdbdbd" opacity="0.85"/>
<rect x="278.8" y="456" width="1.1" height="11.8" fill="#c8c8c8" opacity="0.85"/>
<path d="M268.4,480.3 Q277.9,482.3 287.4,480.3" fill="none" stroke="#8a8a8a" stroke-width="0.7" opacity="0.7"/>
<g filter="url(#hblur)"><path d="M285.5,506.5 283.5,508.5 280.5,508.5 279.5,509.5 279.5,510.5 278.5,511.5 276.5,511.5 275.5,510.5 274.5,511.5 271.5,511.5 270.5,512.5 269.5,511.5 268.5,512.5 267.5,512.5 266.5,513.5 260.5,513.5 259.5,514.5 258.5,514.5 256.5,516.5 256.5,518.5 255.5,519.5 255.5,521.5 253.5,523.5 256.5,526.5 256.5,527.5 255.5,528.5 256.5,529.5 256.5,531.5 255.5,532.5 253.5,532.5 254.5,532.5 255.5,533.5 255.5,534.5 259.5,538.5 260.5,538.5 261.5,539.5 261.5,540.5 262.5,541.5 266.5,541.5 267.5,542.5 270.5,542.5 271.5,543.5 271.5,544.5 272.5,544.5 273.5,543.5 275.5,545.5 275.5,547.5 277.5,547.5 278.5,546.5 279.5,547.5 280.5,547.5 282.5,545.5 283.5,545.5 284.5,544.5 285.5,544.5 286.5,545.5 287.5,545.5 288.5,544.5 288.5,542.5 289.5,541.5 292.5,541.5 292.5,539.5 293.5,538.5 294.5,538.5 296.5,536.5 295.5,536.5 293.5,534.5 295.5,532.5 296.5,532.5 296.5,531.5 295.5,530.5 296.5,529.5 296.5,524.5 297.5,523.5 295.5,521.5 295.5,513.5 294.5,512.5 294.5,510.5 290.5,506.5 289.5,507.5 289.5,508.5 288.5,509.5 286.5,509.5 285.5,508.5z" fill="#7410ff" stroke="#7410ff" stroke-width="0.8" stroke-linejoin="round" fill-rule="evenodd"/><path d="M284.5,509.5 283.5,510.5 281.5,510.5 278.5,513.5 276.5,513.5 275.5,512.5 274.5,513.5 271.5,513.5 270.5,514.5 269.5,513.5 268.5,514.5 267.5,514.5 266.5,515.5 260.5,515.5 259.5,516.5 258.5,516.5 258.5,518.5 257.5,519.5 257.5,521.5 255.5,523.5 258.5,526.5 258.5,527.5 257.5,528.5 258.5,529.5 258.5,531.5 257.5,532.5 257.5,534.5 259.5,536.5 260.5,536.5 263.5,539.5 266.5,539.5 267.5,540.5 270.5,540.5 272.5,542.5 273.5,541.5 277.5,545.5 278.5,544.5 279.5,545.5 280.5,545.5 282.5,543.5 283.5,543.5 284.5,542.5 285.5,542.5 286.5,543.5 286.5,542.5 289.5,539.5 290.5,539.5 293.5,536.5 291.5,534.5 294.5,531.5 293.5,530.5 294.5,529.5 294.5,524.5 295.5,523.5 293.5,521.5 293.5,513.5 292.5,512.5 292.5,510.5 291.5,509.5 290.5,509.5 288.5,511.5 286.5,511.5z" fill="#1c22ff" stroke="#1c22ff" stroke-width="0.8" stroke-linejoin="round" fill-rule="evenodd"/><path d="M283.5,513.5 280.5,516.5 276.5,516.5 275.5,515.5 273.5,517.5 267.5,517.5 266.5,518.5 265.5,518.5 264.5,519.5 261.5,519.5 261.5,522.5 260.5,523.5 261.5,524.5 261.5,533.5 262.5,533.5 263.5,534.5 265.5,534.5 267.5,536.5 270.5,536.5 272.5,538.5 276.5,538.5 278.5,540.5 282.5,540.5 282.5,539.5 283.5,538.5 284.5,538.5 286.5,536.5 288.5,536.5 289.5,535.5 288.5,534.5 288.5,533.5 290.5,531.5 290.5,529.5 291.5,528.5 291.5,527.5 290.5,526.5 290.5,518.5 289.5,517.5 289.5,515.5 288.5,515.5 287.5,514.5 285.5,514.5 284.5,513.5z" fill="#0a6cff" stroke="#0a6cff" stroke-width="0.8" stroke-linejoin="round" fill-rule="evenodd"/><path d="M280.0,539.0h1v1h-1zM283.0,537.0h1v1h-1zM280.5,517.5 279.5,518.5 278.5,518.5 277.5,519.5 267.5,519.5 267.5,520.5 265.5,522.5 264.5,522.5 263.5,523.5 263.5,528.5 267.5,528.5 268.5,529.5 268.5,530.5 267.5,531.5 267.5,532.5 268.5,532.5 269.5,533.5 269.5,534.5 270.5,534.5 271.5,535.5 274.5,535.5 275.5,534.5 277.5,534.5 277.5,533.5 278.5,532.5 280.5,532.5 282.5,534.5 285.5,531.5 286.5,532.5 286.5,533.5 286.5,532.5 287.5,531.5 288.5,531.5 288.5,529.5 287.5,528.5 287.5,527.5 288.5,526.5 288.5,525.5 287.5,525.5 286.5,524.5 286.5,523.5 285.5,522.5 287.5,520.5 286.5,519.5 283.5,519.5 282.5,518.5 282.5,517.5zM276.5,532.5 277.5,531.5 278.5,532.5 277.5,533.5zM271.5,532.5 272.5,531.5 273.5,531.5 274.5,532.5 274.5,534.5 273.5,535.5 272.5,535.5 271.5,534.5zM264.5,523.5 265.5,522.5 266.5,523.5 266.5,524.5 265.5,525.5 264.5,524.5zM284.0,516.0h1v1h-1z" fill="#00c8ff" stroke="#00c8ff" stroke-width="0.8" stroke-linejoin="round" fill-rule="evenodd"/><path d="M269.5,524.5 270.5,524.5zM278.5,520.5 278.5,521.5 277.5,522.5 275.5,522.5 274.5,523.5 274.5,526.5 275.5,527.5 275.5,528.5 274.5,529.5 273.5,529.5 277.5,529.5 278.5,528.5 279.5,529.5 279.5,531.5 280.5,531.5 281.5,532.5 282.5,532.5 283.5,531.5 283.5,529.5 284.5,528.5 285.5,528.5 286.5,529.5 286.5,527.5 287.5,526.5 285.5,524.5 284.5,524.5 283.5,523.5 283.5,522.5 282.5,522.5 280.5,520.5zM279.5,523.5 280.5,522.5 282.5,522.5 283.5,523.5 283.5,524.5 282.5,525.5 280.5,525.5 279.5,524.5zM269.0,520.0h1v1h-1z" fill="#00f0d8" stroke="#00f0d8" stroke-width="0.8" stroke-linejoin="round" fill-rule="evenodd"/><path d="M278.5,523.5 277.5,524.5 276.5,524.5 275.5,525.5 275.5,526.5 276.5,527.5 276.5,528.5 277.5,528.5 278.5,527.5 279.5,527.5 280.5,528.5 280.5,529.5 281.5,530.5 281.5,531.5 281.5,529.5 282.5,528.5 284.5,528.5 285.5,527.5 285.5,525.5 284.5,525.5 282.5,527.5 281.5,527.5 279.5,525.5 279.5,524.5z" fill="#18f070" stroke="#18f070" stroke-width="0.8" stroke-linejoin="round" fill-rule="evenodd"/><path d="M277.5,525.5 276.5,526.5 276.5,527.5 277.5,527.5 278.5,526.5 279.5,526.5 279.5,525.5z" fill="#40f020" stroke="#40f020" stroke-width="0.8" stroke-linejoin="round" fill-rule="evenodd"/></g>
<rect x="245.5" y="450.5" width="69" height="166" fill="none" stroke="#151515" stroke-width="1"/>
</g>
<clipPath id="c318_450"><rect x="318" y="450" width="70" height="167"/></clipPath>
<g clip-path="url(#c318_450)">
<rect x="318" y="450" width="70" height="167" fill="#2d2d2d"/>
<rect x="318" y="450" width="70" height="167" fill="#000" filter="url(#bgn)" opacity="0.6"/>
<rect x="318" y="450" width="70" height="35.60000000000002" fill="#262626"/>
<rect x="318" y="451" width="70" height="4.5" fill="#444444"/>
<rect x="318" y="455.5" width="70" height="1" fill="#1e1e1e"/>
<g filter="url(#soft)"><rect x="320" y="458" width="2.6" height="23.600000000000023" fill="#474747"/><rect x="337.5" y="458" width="2.6" height="23.600000000000023" fill="#474747"/><rect x="365" y="458" width="2.6" height="23.600000000000023" fill="#474747"/><rect x="376.5" y="458" width="2.6" height="23.600000000000023" fill="#474747"/><rect x="324" y="457" width="2.4" height="25.600000000000023" fill="#1a1a1a"/><rect x="334" y="457" width="2.4" height="25.600000000000023" fill="#1a1a1a"/><rect x="341" y="457" width="2.4" height="25.600000000000023" fill="#1a1a1a"/><rect x="362" y="457" width="2.4" height="25.600000000000023" fill="#1a1a1a"/><rect x="371" y="457" width="2.4" height="25.600000000000023" fill="#1a1a1a"/><rect x="381" y="457" width="2.4" height="25.600000000000023" fill="#1a1a1a"/></g>
<path d="M334.0,576.0 L326.0,578.0 L321.0,579.0" fill="none" stroke="#8e8e8e" stroke-width="5.17" stroke-linecap="round" stroke-linejoin="round"/>
<path d="M334.0,576.0 L326.0,578.0 L321.0,579.0" fill="none" stroke="#b4b4b4" stroke-width="2.48" stroke-linecap="round" stroke-linejoin="round"/>
<ellipse cx="321.0" cy="579.0" rx="4.5" ry="3.1" fill="#9c9c9c" transform="rotate(169 321.0 579.0)"/>
<path d="M372.0,578.0 L380.0,582.0 L385.0,584.0" fill="none" stroke="#8e8e8e" stroke-width="5.17" stroke-linecap="round" stroke-linejoin="round"/>
<path d="M372.0,578.0 L380.0,582.0 L385.0,584.0" fill="none" stroke="#b4b4b4" stroke-width="2.48" stroke-linecap="round" stroke-linejoin="round"/>
<ellipse cx="385.0" cy="584.0" rx="4.5" ry="3.1" fill="#9c9c9c" transform="rotate(22 385.0 584.0)"/>
<path d="M375.0,510.0 L383.0,513.0" fill="none" stroke="#8e8e8e" stroke-width="4.60" stroke-linecap="round" stroke-linejoin="round"/>
<path d="M375.0,510.0 L383.0,513.0" fill="none" stroke="#b4b4b4" stroke-width="2.20" stroke-linecap="round" stroke-linejoin="round"/>
<ellipse cx="383.0" cy="513.0" rx="4.0" ry="2.8" fill="#9c9c9c" transform="rotate(21 383.0 513.0)"/>
<path d="M348.4,586.0 Q348.4,601.5 348.4,620.0" fill="none" stroke="#a8a8a8" stroke-width="4.2" stroke-linecap="round"/>
<path d="M348.4,586.0 Q348.4,601.5 348.4,620.0" fill="none" stroke="#cdcdcd" stroke-width="2.2" stroke-linecap="round"/>
<path d="M347.0,486.0 C345.3,484.7 340.2,486.7 338.0,488.0 C335.8,489.3 333.7,492.5 334.0,494.0 C334.3,495.5 337.7,496.7 340.0,497.0 C342.3,497.3 346.8,497.8 348.0,496.0 C349.2,494.2 348.7,487.3 347.0,486.0 Z" fill="#c8c8c8" filter="url(#bodyf)"/>
<path d="M356.0,486.0 C358.0,484.5 365.8,486.3 370.0,487.0 C374.2,487.7 378.7,488.7 381.0,490.0 C383.3,491.3 385.5,493.8 384.0,495.0 C382.5,496.2 376.3,496.8 372.0,497.0 C367.7,497.2 360.7,497.8 358.0,496.0 C355.3,494.2 354.0,487.5 356.0,486.0 Z" fill="#c8c8c8" filter="url(#bodyf)"/>
<g filter="url(#bodyf)"><path d="M351.1,469.6 C352.0,469.6 352.8,471.6 353.8,473.2 C354.8,474.8 355.9,477.2 356.8,479.3 C357.7,481.3 358.4,483.6 359.1,485.3 C359.8,487.0 359.7,488.5 360.9,489.5 C362.1,490.5 365.1,490.5 366.2,491.3 C367.3,492.1 367.8,493.2 367.6,494.3 C367.4,495.4 364.7,496.5 364.8,498.0 C365.0,499.5 367.4,499.7 368.5,503.4 C369.6,507.1 370.6,513.9 371.6,520.3 C372.6,526.7 373.6,535.2 374.4,542.0 C375.3,548.9 376.4,555.7 376.7,561.3 C377.0,567.0 377.1,571.8 376.4,575.8 C375.6,579.8 375.9,583.0 372.1,585.5 C368.4,588.0 360.0,590.8 353.9,590.8 C347.8,590.8 339.3,588.0 335.5,585.5 C331.6,583.0 331.7,579.8 330.8,575.8 C329.8,571.8 329.7,567.0 329.7,561.3 C329.8,555.7 330.6,548.9 331.1,542.0 C331.7,535.2 332.3,526.7 333.0,520.3 C333.7,513.9 334.3,507.1 335.3,503.4 C336.2,499.7 338.6,499.5 338.7,498.0 C338.8,496.5 336.0,495.4 335.8,494.3 C335.5,493.2 336.0,492.1 337.0,491.3 C338.1,490.5 341.1,490.5 342.2,489.5 C343.4,488.5 343.2,487.0 343.8,485.3 C344.4,483.6 345.0,481.3 345.8,479.3 C346.6,477.2 347.7,474.8 348.6,473.2 C349.4,471.6 350.2,469.6 351.1,469.6 Z" fill="url(#bodyg)"/><path d="M351.1,469.6 C352.0,469.6 352.8,471.6 353.8,473.2 C354.8,474.8 355.9,477.2 356.8,479.3 C357.7,481.3 358.4,483.6 359.1,485.3 C359.8,487.0 359.7,488.5 360.9,489.5 C362.1,490.5 365.1,490.5 366.2,491.3 C367.3,492.1 367.8,493.2 367.6,494.3 C367.4,495.4 364.7,496.5 364.8,498.0 C365.0,499.5 367.4,499.7 368.5,503.4 C369.6,507.1 370.6,513.9 371.6,520.3 C372.6,526.7 373.6,535.2 374.4,542.0 C375.3,548.9 376.4,555.7 376.7,561.3 C377.0,567.0 377.1,571.8 376.4,575.8 C375.6,579.8 375.9,583.0 372.1,585.5 C368.4,588.0 360.0,590.8 353.9,590.8 C347.8,590.8 339.3,588.0 335.5,585.5 C331.6,583.0 331.7,579.8 330.8,575.8 C329.8,571.8 329.7,567.0 329.7,561.3 C329.8,555.7 330.6,548.9 331.1,542.0 C331.7,535.2 332.3,526.7 333.0,520.3 C333.7,513.9 334.3,507.1 335.3,503.4 C336.2,499.7 338.6,499.5 338.7,498.0 C338.8,496.5 336.0,495.4 335.8,494.3 C335.5,493.2 336.0,492.1 337.0,491.3 C338.1,490.5 341.1,490.5 342.2,489.5 C343.4,488.5 343.2,487.0 343.8,485.3 C344.4,483.6 345.0,481.3 345.8,479.3 C346.6,477.2 347.7,474.8 348.6,473.2 C349.4,471.6 350.2,469.6 351.1,469.6 Z" fill="url(#bodyv)"/></g>
<path d="M351.1,469.6 C352.0,469.6 352.8,471.6 353.8,473.2 C354.8,474.8 355.9,477.2 356.8,479.3 C357.7,481.3 358.4,483.6 359.1,485.3 C359.8,487.0 359.7,488.5 360.9,489.5 C362.1,490.5 365.1,490.5 366.2,491.3 C367.3,492.1 367.8,493.2 367.6,494.3 C367.4,495.4 364.7,496.5 364.8,498.0 C365.0,499.5 367.4,499.7 368.5,503.4 C369.6,507.1 370.6,513.9 371.6,520.3 C372.6,526.7 373.6,535.2 374.4,542.0 C375.3,548.9 376.4,555.7 376.7,561.3 C377.0,567.0 377.1,571.8 376.4,575.8 C375.6,579.8 375.9,583.0 372.1,585.5 C368.4,588.0 360.0,590.8 353.9,590.8 C347.8,590.8 339.3,588.0 335.5,585.5 C331.6,583.0 331.7,579.8 330.8,575.8 C329.8,571.8 329.7,567.0 329.7,561.3 C329.8,555.7 330.6,548.9 331.1,542.0 C331.7,535.2 332.3,526.7 333.0,520.3 C333.7,513.9 334.3,507.1 335.3,503.4 C336.2,499.7 338.6,499.5 338.7,498.0 C338.8,496.5 336.0,495.4 335.8,494.3 C335.5,493.2 336.0,492.1 337.0,491.3 C338.1,490.5 341.1,490.5 342.2,489.5 C343.4,488.5 343.2,487.0 343.8,485.3 C344.4,483.6 345.0,481.3 345.8,479.3 C346.6,477.2 347.7,474.8 348.6,473.2 C349.4,471.6 350.2,469.6 351.1,469.6 Z" fill="#000" filter="url(#furf)" opacity="0.13"/>
<path d="M348.9,456 L353.3,456 L353.7,465.6 C356.1,469.6 359.6,476.6 361.1,482.6 Q351.1,484.1 341.1,482.6 C342.6,476.6 346.1,469.6 348.5,465.6 Z" fill="url(#coneg)" opacity="0.45"/>
<rect x="348.9" y="456" width="1.1" height="13.6" fill="#bdbdbd" opacity="0.85"/>
<rect x="352.0" y="456" width="1.1" height="13.6" fill="#c8c8c8" opacity="0.85"/>
<path d="M341.6,482.1 Q351.1,484.1 360.6,482.1" fill="none" stroke="#8a8a8a" stroke-width="0.7" opacity="0.7"/>
<g filter="url(#hblur)"><path d="M345.5,508.5 345.5,509.5 344.5,510.5 342.5,510.5 342.5,511.5 340.5,513.5 340.5,514.5 341.5,515.5 341.5,516.5 340.5,517.5 339.5,517.5 337.5,515.5 337.5,520.5 338.5,521.5 338.5,522.5 337.5,523.5 339.5,525.5 338.5,526.5 337.5,526.5 337.5,530.5 338.5,529.5 339.5,529.5 340.5,530.5 340.5,531.5 339.5,532.5 340.5,533.5 341.5,533.5 342.5,534.5 341.5,535.5 344.5,538.5 344.5,541.5 345.5,542.5 347.5,542.5 349.5,544.5 350.5,544.5 351.5,543.5 354.5,543.5 355.5,544.5 356.5,544.5 357.5,545.5 358.5,545.5 357.5,544.5 357.5,543.5 358.5,542.5 359.5,543.5 361.5,543.5 364.5,540.5 366.5,540.5 367.5,541.5 369.5,541.5 370.5,540.5 372.5,540.5 372.5,537.5 373.5,536.5 374.5,536.5 375.5,535.5 376.5,535.5 374.5,535.5 373.5,534.5 373.5,533.5 372.5,532.5 372.5,530.5 373.5,529.5 373.5,528.5 374.5,527.5 374.5,524.5 373.5,523.5 373.5,521.5 372.5,520.5 372.5,518.5 371.5,517.5 371.5,516.5 370.5,515.5 370.5,514.5 369.5,514.5 365.5,510.5 364.5,510.5 363.5,511.5 362.5,511.5 361.5,512.5 360.5,511.5 360.5,509.5 359.5,509.5 358.5,510.5 357.5,510.5 356.5,511.5 354.5,511.5 353.5,510.5 354.5,509.5 354.5,508.5 353.5,509.5 352.5,509.5 351.5,510.5 350.5,510.5 349.5,509.5 350.5,508.5zM338.5,519.5 339.5,518.5 340.5,518.5 341.5,519.5 340.5,520.5 339.5,520.5z" fill="#7410ff" stroke="#7410ff" stroke-width="0.8" stroke-linejoin="round" fill-rule="evenodd"/><path d="M337.0,528.0h1v1h-1zM337.5,517.5 337.5,518.5zM347.5,508.5 347.5,509.5 344.5,512.5 343.5,512.5 342.5,513.5 342.5,514.5 343.5,515.5 343.5,516.5 342.5,517.5 342.5,518.5 343.5,519.5 339.5,523.5 341.5,525.5 339.5,527.5 342.5,530.5 342.5,532.5 344.5,534.5 343.5,535.5 346.5,538.5 346.5,540.5 347.5,540.5 349.5,542.5 350.5,542.5 351.5,541.5 354.5,541.5 355.5,542.5 356.5,542.5 358.5,540.5 359.5,541.5 361.5,541.5 364.5,538.5 366.5,538.5 367.5,539.5 369.5,539.5 370.5,538.5 370.5,537.5 372.5,535.5 371.5,534.5 371.5,533.5 370.5,532.5 370.5,530.5 371.5,529.5 371.5,528.5 372.5,527.5 372.5,524.5 371.5,523.5 371.5,521.5 370.5,520.5 370.5,518.5 369.5,517.5 369.5,516.5 365.5,512.5 364.5,512.5 363.5,513.5 362.5,513.5 361.5,514.5 359.5,512.5 357.5,512.5 356.5,513.5 354.5,513.5 352.5,511.5 351.5,512.5 350.5,512.5 347.5,509.5 348.5,508.5z" fill="#1c22ff" stroke="#1c22ff" stroke-width="0.8" stroke-linejoin="round" fill-rule="evenodd"/><path d="M348.5,514.5 347.5,515.5 346.5,515.5 345.5,516.5 345.5,521.5 343.5,523.5 343.5,524.5 344.5,525.5 344.5,526.5 343.5,527.5 343.5,528.5 344.5,529.5 344.5,530.5 346.5,532.5 346.5,533.5 347.5,533.5 348.5,534.5 348.5,535.5 350.5,537.5 351.5,536.5 352.5,537.5 355.5,537.5 356.5,536.5 356.5,535.5 357.5,534.5 358.5,535.5 359.5,535.5 360.5,534.5 361.5,535.5 365.5,535.5 366.5,534.5 367.5,534.5 367.5,530.5 368.5,529.5 368.5,525.5 367.5,524.5 367.5,522.5 366.5,521.5 366.5,518.5 364.5,518.5 363.5,517.5 361.5,517.5 360.5,516.5 359.5,516.5 358.5,515.5 357.5,515.5 356.5,516.5 352.5,516.5 351.5,515.5 350.5,515.5 349.5,514.5zM361.5,533.5 362.5,532.5 363.5,533.5 362.5,534.5zM351.5,519.5 352.5,519.5 355.5,522.5 353.5,524.5 350.5,524.5 349.5,523.5 349.5,521.5z" fill="#0a6cff" stroke="#0a6cff" stroke-width="0.8" stroke-linejoin="round" fill-rule="evenodd"/><path d="M354.5,533.5 355.5,533.5zM364.5,524.5 364.5,526.5 363.5,527.5 363.5,528.5 364.5,529.5 364.5,532.5 365.5,533.5 366.5,532.5 366.5,526.5 365.5,525.5 365.5,524.5zM362.5,520.5 362.5,521.5 363.5,520.5zM360.5,518.5 360.5,519.5 359.5,520.5 358.5,520.5 353.5,525.5 352.5,525.5 351.5,526.5 350.5,526.5 348.5,524.5 348.5,521.5 347.5,520.5 346.5,520.5 346.5,525.5 344.5,527.5 344.5,528.5 347.5,531.5 347.5,532.5 350.5,532.5 353.5,529.5 355.5,529.5 356.5,530.5 356.5,529.5 358.5,527.5 357.5,526.5 359.5,524.5 359.5,520.5 360.5,519.5zM352.5,518.5 354.5,518.5z" fill="#00c8ff" stroke="#00c8ff" stroke-width="0.8" stroke-linejoin="round" fill-rule="evenodd"/><path d="M365.5,528.5 365.5,531.5 365.5,530.5 366.5,529.5zM357.5,523.5 356.5,524.5 355.5,524.5 353.5,526.5 352.5,526.5 351.5,527.5 350.5,527.5 349.5,528.5 347.5,528.5 346.5,527.5 345.5,527.5 345.5,529.5 346.5,529.5 347.5,530.5 347.5,531.5 348.5,531.5 349.5,530.5 350.5,530.5 351.5,529.5 352.5,529.5 354.5,527.5 356.5,527.5 357.5,526.5 357.5,525.5 358.5,524.5 358.5,523.5zM347.5,521.5 346.5,522.5 346.5,523.5 347.5,524.5z" fill="#00f0d8" stroke="#00f0d8" stroke-width="0.8" stroke-linejoin="round" fill-rule="evenodd"/><path d="M345.5,527.5 345.5,528.5 347.5,530.5 348.5,530.5 349.5,529.5 350.5,529.5 352.5,527.5 351.5,527.5 349.5,529.5 347.5,529.5z" fill="#18f070" stroke="#18f070" stroke-width="0.8" stroke-linejoin="round" fill-rule="evenodd"/></g>
<rect x="318.5" y="450.5" width="69" height="166" fill="none" stroke="#151515" stroke-width="1"/>
</g>
<rect x="397" y="501" width="3" height="97" fill="url(#cbar)"/>
<rect x="402" y="510.0" width="5" height="1" fill="#bbb"/>
<rect x="402" y="528.3" width="5" height="1" fill="#bbb"/>
<rect x="402" y="546.6" width="5" height="1" fill="#bbb"/>
<rect x="402" y="564.9" width="5" height="1" fill="#bbb"/>
<rect x="402" y="583.2" width="5" height="1" fill="#bbb"/>
<rect x="396" y="497" width="12" height="1" fill="#ccc"/>
<rect x="396" y="603" width="9" height="1" fill="#ccc"/><rect x="396" y="605.5" width="11" height="1" fill="#ccc"/>
<rect x="396" y="608" width="12" height="7" fill="none" stroke="#ccc" stroke-width="0.6"/>
<text x="427.00" y="15.47" font-size="15.2" fill="#000" text-anchor="middle" font-weight="bold" >B</text>
<path d="M486.8,23 H492.8 V186 M486.8,63.5 H492.8 M486.8,104.1 H492.8 M486.8,145 H492.8" fill="none" stroke="#000" stroke-width="1.5"/>
<line x1="492" y1="186" x2="765" y2="186" stroke="#000" stroke-width="1.8" />
<text x="479.3" y="53.4" font-size="10" font-weight="bold" text-anchor="end" fill="#000" textLength="22" lengthAdjust="spacingAndGlyphs">4×10</text>
<text x="479.6" y="48.8" font-size="7.4" font-weight="bold" text-anchor="start" fill="#000">6</text>
<text x="479.3" y="89.0" font-size="10" font-weight="bold" text-anchor="end" fill="#000" textLength="22" lengthAdjust="spacingAndGlyphs">3×10</text>
<text x="479.6" y="84.4" font-size="7.4" font-weight="bold" text-anchor="start" fill="#000">6</text>
<text x="479.3" y="122.6" font-size="10" font-weight="bold" text-anchor="end" fill="#000" textLength="22" lengthAdjust="spacingAndGlyphs">2×10</text>
<text x="479.6" y="118.0" font-size="7.4" font-weight="bold" text-anchor="start" fill="#000">6</text>
<text x="479.3" y="157.8" font-size="10" font-weight="bold" text-anchor="end" fill="#000" textLength="22" lengthAdjust="spacingAndGlyphs">1×10</text>
<text x="479.6" y="153.2" font-size="7.4" font-weight="bold" text-anchor="start" fill="#000">6</text>
<text transform="translate(452.6,101) rotate(-90)" x="0" y="0" font-size="10" font-weight="bold" text-anchor="middle" fill="#000" textLength="118" lengthAdjust="spacingAndGlyphs">Avg Radiance[p/s/cm<tspan font-size="7" dy="-3.8">2</tspan><tspan dy="3.8">/sr]</tspan></text>
<rect x="498" y="21.5" width="16" height="5.3" fill="#78c9b1"/>
<text x="521.80" y="26.98" font-size="8" fill="#111" text-anchor="start" font-weight="bold" textLength="17.2" lengthAdjust="spacingAndGlyphs" >PBS</text>
<rect x="545.7" y="21.5" width="16" height="5.3" fill="#8fa3d1"/>
<text x="569.70" y="26.98" font-size="8" fill="#111" text-anchor="start" font-weight="bold" textLength="55.6" lengthAdjust="spacingAndGlyphs" >Oxaliplatin (O)</text>
<rect x="628" y="21.5" width="16" height="5.3" fill="#e89ace"/>
<text x="651.80" y="26.98" font-size="8" fill="#111" text-anchor="start" font-weight="bold" textLength="40.3" lengthAdjust="spacingAndGlyphs" >CCL19 (C)</text>
<rect x="698" y="21.5" width="16" height="5.3" fill="#a9d862"/>
<text x="721.80" y="26.98" font-size="8" fill="#111" text-anchor="start" font-weight="bold" textLength="54.6" lengthAdjust="spacingAndGlyphs" >anti-PD-L1 (P)</text>
<rect x="498" y="36.8" width="16" height="5.3" fill="#f99a70"/>
<text x="521.80" y="42.28" font-size="8" fill="#111" text-anchor="start" font-weight="bold" textLength="29.2" lengthAdjust="spacingAndGlyphs" >ZIF8 (Z)</text>
<rect x="559" y="36.8" width="16" height="5.3" fill="#fbd636"/>
<text x="583.00" y="42.28" font-size="8" fill="#111" text-anchor="start" font-weight="bold" textLength="31.3" lengthAdjust="spacingAndGlyphs" >O@ZIF8</text>
<rect x="629" y="36.8" width="16" height="5.3" fill="#e9c99d"/>
<text x="655.00" y="42.28" font-size="8" fill="#111" text-anchor="start" font-weight="bold" textLength="31.2" lengthAdjust="spacingAndGlyphs" >C@ZIF8</text>
<rect x="698.5" y="36.8" width="16" height="5.3" fill="#f4859e"/>
<text x="722.50" y="42.28" font-size="8" fill="#111" text-anchor="start" font-weight="bold" textLength="37.5" lengthAdjust="spacingAndGlyphs" >OC@ZIF8</text>
<rect x="498" y="52.4" width="16" height="5.3" fill="#bcbcbc"/>
<text x="521.80" y="57.88" font-size="8" fill="#111" text-anchor="start" font-weight="bold" textLength="15.5" lengthAdjust="spacingAndGlyphs" >ZPP</text>
<rect x="559" y="52.4" width="16" height="5.3" fill="#c8a91b"/>
<text x="583.00" y="57.88" font-size="8" fill="#111" text-anchor="start" font-weight="bold" textLength="31" lengthAdjust="spacingAndGlyphs" >O@ZPP</text>
<rect x="629" y="52.4" width="16" height="5.3" fill="#1ec56c"/>
<text x="653.30" y="57.88" font-size="8" fill="#111" text-anchor="start" font-weight="bold" textLength="30.4" lengthAdjust="spacingAndGlyphs" >C@ZPP</text>
<rect x="698.5" y="52.4" width="16" height="5.3" fill="#22c6ee"/>
<text x="722.50" y="57.88" font-size="8" fill="#111" text-anchor="start" font-weight="bold" textLength="36.9" lengthAdjust="spacingAndGlyphs" >OC@ZPP</text>
<path d="M507.00,66.40 L514.20,66.40 C514.13,66.83 514.15,68.07 513.80,69.00 C513.45,69.93 512.62,70.37 512.10,72.00 C511.58,73.63 510.95,75.97 510.70,78.80 C510.45,81.63 510.57,84.80 510.60,89.00 C510.63,93.20 510.85,101.23 510.90,104.00 C510.95,106.77 510.90,105.33 510.90,105.60 L503.10,105.60 C503.10,105.33 503.05,106.77 503.10,104.00 C503.15,101.23 503.37,93.20 503.40,89.00 C503.43,84.80 503.55,81.63 503.30,78.80 C503.05,75.97 502.42,73.63 501.90,72.00 C501.38,70.37 500.55,69.93 500.20,69.00 C499.85,68.07 499.87,66.83 499.80,66.40 Z" fill="#78cab1" stroke="#78cab1" stroke-width="0.6"/>
<line x1="503.87" y1="76.7" x2="510.13" y2="76.7" stroke="#333" stroke-width="0.6" stroke-dasharray="1.2,0.8" opacity="0.8"/>
<line x1="504.17" y1="100.5" x2="509.83" y2="100.5" stroke="#333" stroke-width="0.6" stroke-dasharray="1.2,0.8" opacity="0.8"/>
<path d="M529.00,100.00 L532.80,100.00 C532.80,101.67 532.77,105.83 532.80,110.00 C532.83,114.17 532.93,120.87 533.00,125.00 C533.07,129.13 532.95,132.30 533.20,134.80 C533.45,137.30 534.13,138.58 534.50,140.00 C534.87,141.42 535.13,141.77 535.40,143.30 C535.67,144.83 535.98,148.22 536.10,149.20 L521.90,149.20 C522.02,148.22 522.33,144.83 522.60,143.30 C522.87,141.77 523.13,141.42 523.50,140.00 C523.87,138.58 524.55,137.30 524.80,134.80 C525.05,132.30 524.93,129.13 525.00,125.00 C525.07,120.87 525.17,114.17 525.20,110.00 C525.23,105.83 525.20,101.67 525.20,100.00 Z" fill="#8fa4d2" stroke="#8fa4d2" stroke-width="0.6"/>
<line x1="526.20" y1="106.8" x2="531.80" y2="106.8" stroke="#333" stroke-width="0.6" stroke-dasharray="1.2,0.8" opacity="0.8"/>
<line x1="525.08" y1="137.7" x2="532.92" y2="137.7" stroke="#333" stroke-width="0.6" stroke-dasharray="1.2,0.8" opacity="0.8"/>
<polygon points="529.00,95.25 529.56,96.53 530.95,96.67 529.90,97.59 530.20,98.96 529.00,98.25 527.80,98.96 528.10,97.59 527.05,96.67 528.44,96.53" fill="#111"/>
<path d="M551.00,85.90 L556.50,85.90 C556.68,86.05 557.35,86.28 557.60,86.80 C557.85,87.32 558.00,87.97 558.00,89.00 C558.00,90.03 557.87,91.60 557.60,93.00 C557.33,94.40 556.97,95.23 556.40,97.40 C555.83,99.57 554.70,103.45 554.20,106.00 C553.70,108.55 553.47,110.70 553.40,112.70 C553.33,114.70 553.68,116.62 553.80,118.00 C553.92,119.38 554.05,119.67 554.10,121.00 C554.15,122.33 554.10,125.17 554.10,126.00 L547.90,126.00 C547.90,125.17 547.85,122.33 547.90,121.00 C547.95,119.67 548.08,119.38 548.20,118.00 C548.32,116.62 548.67,114.70 548.60,112.70 C548.53,110.70 548.30,108.55 547.80,106.00 C547.30,103.45 546.17,99.57 545.60,97.40 C545.03,95.23 544.67,94.40 544.40,93.00 C544.13,91.60 544.00,90.03 544.00,89.00 C544.00,87.97 544.15,87.32 544.40,86.80 C544.65,86.28 545.32,86.05 545.50,85.90 Z" fill="#e898cc" stroke="#e898cc" stroke-width="0.6"/>
<line x1="545.22" y1="87.8" x2="556.78" y2="87.8" stroke="#333" stroke-width="0.6" stroke-dasharray="1.2,0.8" opacity="0.8"/>
<line x1="545.65" y1="93.9" x2="556.35" y2="93.9" stroke="#333" stroke-width="0.6" stroke-dasharray="1.2,0.8" opacity="0.8"/>
<line x1="549.24" y1="117.5" x2="552.76" y2="117.5" stroke="#333" stroke-width="0.6" stroke-dasharray="1.2,0.8" opacity="0.8"/>
<path d="M573.00,121.20 L576.90,121.20 C576.93,121.83 576.96,123.87 577.10,125.00 C577.24,126.13 577.40,126.67 577.75,128.00 C578.10,129.33 578.83,131.30 579.20,133.00 C579.58,134.70 580.03,136.70 580.00,138.20 C579.97,139.70 579.42,140.87 579.00,142.00 C578.58,143.13 577.80,143.57 577.50,145.00 C577.20,146.43 577.25,149.67 577.20,150.60 L568.80,150.60 C568.75,149.67 568.80,146.43 568.50,145.00 C568.20,143.57 567.42,143.13 567.00,142.00 C566.58,140.87 566.03,139.70 566.00,138.20 C565.97,136.70 566.42,134.70 566.80,133.00 C567.17,131.30 567.90,129.33 568.25,128.00 C568.60,126.67 568.76,126.13 568.90,125.00 C569.04,123.87 569.07,121.83 569.10,121.20 Z" fill="#a9d862" stroke="#a9d862" stroke-width="0.6"/>
<line x1="569.90" y1="125" x2="576.10" y2="125" stroke="#333" stroke-width="0.6" stroke-dasharray="1.2,0.8" opacity="0.8"/>
<line x1="567.00" y1="138.2" x2="579.00" y2="138.2" stroke="#333" stroke-width="0.6" stroke-dasharray="1.2,0.8" opacity="0.8"/>
<line x1="569.63" y1="147.5" x2="576.37" y2="147.5" stroke="#333" stroke-width="0.6" stroke-dasharray="1.2,0.8" opacity="0.8"/>
<polygon points="571.25,116.25 571.81,117.53 573.20,117.67 572.15,118.59 572.45,119.96 571.25,119.25 570.05,119.96 570.35,118.59 569.30,117.67 570.69,117.53" fill="#111"/>
<polygon points="574.75,116.25 575.31,117.53 576.70,117.67 575.65,118.59 575.95,119.96 574.75,119.25 573.55,119.96 573.85,118.59 572.80,117.67 574.19,117.53" fill="#111"/>
<path d="M595.00,66.90 L598.00,66.90 C597.95,68.25 597.82,72.73 597.70,75.00 C597.58,77.27 597.42,78.17 597.30,80.50 C597.18,82.83 596.72,86.47 597.00,89.00 C597.28,91.53 598.25,93.73 599.00,95.70 C599.75,97.67 601.00,99.38 601.50,100.80 C602.00,102.22 601.95,102.73 602.00,104.20 C602.05,105.67 601.83,108.70 601.80,109.60 L588.20,109.60 C588.17,108.70 587.95,105.67 588.00,104.20 C588.05,102.73 588.00,102.22 588.50,100.80 C589.00,99.38 590.25,97.67 591.00,95.70 C591.75,93.73 592.72,91.53 593.00,89.00 C593.28,86.47 592.82,82.83 592.70,80.50 C592.58,78.17 592.42,77.27 592.30,75.00 C592.18,72.73 592.05,68.25 592.00,66.90 Z" fill="#f99c72" stroke="#f99c72" stroke-width="0.6"/>
<line x1="593.39" y1="76.2" x2="596.61" y2="76.2" stroke="#333" stroke-width="0.6" stroke-dasharray="1.2,0.8" opacity="0.8"/>
<line x1="589.07" y1="103.7" x2="600.93" y2="103.7" stroke="#333" stroke-width="0.6" stroke-dasharray="1.2,0.8" opacity="0.8"/>
<line x1="589.14" y1="108" x2="600.86" y2="108" stroke="#333" stroke-width="0.6" stroke-dasharray="1.2,0.8" opacity="0.8"/>
<path d="M617.30,134.00 L620.90,134.00 C620.80,134.33 620.58,135.17 620.30,136.00 C620.02,136.83 618.97,137.75 619.20,139.00 C619.43,140.25 620.83,141.90 621.70,143.50 C622.57,145.10 624.10,147.12 624.40,148.60 C624.70,150.08 623.93,151.45 623.50,152.40 C623.07,153.35 622.08,153.98 621.80,154.30 L612.80,154.30 C612.52,153.98 611.53,153.35 611.10,152.40 C610.67,151.45 609.90,150.08 610.20,148.60 C610.50,147.12 612.03,145.10 612.90,143.50 C613.77,141.90 615.17,140.25 615.40,139.00 C615.63,137.75 614.58,136.83 614.30,136.00 C614.02,135.17 613.80,134.33 613.70,134.00 Z" fill="#f9d53a" stroke="#f9d53a" stroke-width="0.6"/>
<line x1="615.85" y1="137.5" x2="618.75" y2="137.5" stroke="#333" stroke-width="0.6" stroke-dasharray="1.2,0.8" opacity="0.8"/>
<line x1="611.36" y1="148.3" x2="623.24" y2="148.3" stroke="#333" stroke-width="0.6" stroke-dasharray="1.2,0.8" opacity="0.8"/>
<line x1="612.01" y1="152" x2="622.59" y2="152" stroke="#333" stroke-width="0.6" stroke-dasharray="1.2,0.8" opacity="0.8"/>
<polygon points="615.55,129.05 616.11,130.33 617.50,130.47 616.45,131.39 616.75,132.76 615.55,132.05 614.35,132.76 614.65,131.39 613.60,130.47 614.99,130.33" fill="#111"/>
<polygon points="619.05,129.05 619.61,130.33 621.00,130.47 619.95,131.39 620.25,132.76 619.05,132.05 617.85,132.76 618.15,131.39 617.10,130.47 618.49,130.33" fill="#111"/>
<path d="M639.30,145.80 L642.60,145.80 C642.52,146.08 642.32,146.80 642.10,147.50 C641.88,148.20 641.02,148.75 641.30,150.00 C641.58,151.25 642.93,153.43 643.80,155.00 C644.67,156.57 646.17,158.32 646.50,159.40 C646.83,160.48 646.13,160.87 645.80,161.50 C645.47,162.13 644.72,162.92 644.50,163.20 L634.10,163.20 C633.88,162.92 633.13,162.13 632.80,161.50 C632.47,160.87 631.77,160.48 632.10,159.40 C632.43,158.32 633.93,156.57 634.80,155.00 C635.67,153.43 637.02,151.25 637.30,150.00 C637.58,148.75 636.72,148.20 636.50,147.50 C636.28,146.80 636.08,146.08 636.00,145.80 Z" fill="#e8cb9e" stroke="#e8cb9e" stroke-width="0.6"/>
<line x1="637.98" y1="149" x2="640.62" y2="149" stroke="#333" stroke-width="0.6" stroke-dasharray="1.2,0.8" opacity="0.8"/>
<line x1="633.65" y1="158.5" x2="644.95" y2="158.5" stroke="#333" stroke-width="0.6" stroke-dasharray="1.2,0.8" opacity="0.8"/>
<line x1="633.80" y1="161.5" x2="644.80" y2="161.5" stroke="#333" stroke-width="0.6" stroke-dasharray="1.2,0.8" opacity="0.8"/>
<polygon points="635.80,139.85 636.36,141.13 637.75,141.27 636.70,142.19 637.00,143.56 635.80,142.85 634.60,143.56 634.90,142.19 633.85,141.27 635.24,141.13" fill="#111"/>
<polygon points="639.30,139.85 639.86,141.13 641.25,141.27 640.20,142.19 640.50,143.56 639.30,142.85 638.10,143.56 638.40,142.19 637.35,141.27 638.74,141.13" fill="#111"/>
<polygon points="642.80,139.85 643.36,141.13 644.75,141.27 643.70,142.19 644.00,143.56 642.80,142.85 641.60,143.56 641.90,142.19 640.85,141.27 642.24,141.13" fill="#111"/>
<path d="M661.30,149.50 L668.60,149.50 C668.52,149.92 668.40,151.08 668.10,152.00 C667.80,152.92 667.33,153.83 666.80,155.00 C666.27,156.17 665.22,157.72 664.90,159.00 C664.58,160.28 664.90,162.08 664.90,162.70 L657.70,162.70 C657.70,162.08 658.02,160.28 657.70,159.00 C657.38,157.72 656.33,156.17 655.80,155.00 C655.27,153.83 654.80,152.92 654.50,152.00 C654.20,151.08 654.08,149.92 654.00,149.50 Z" fill="#f5879e" stroke="#f5879e" stroke-width="0.6"/>
<line x1="656.15" y1="153.5" x2="666.45" y2="153.5" stroke="#333" stroke-width="0.6" stroke-dasharray="1.2,0.8" opacity="0.8"/>
<line x1="658.70" y1="160.5" x2="663.90" y2="160.5" stroke="#333" stroke-width="0.6" stroke-dasharray="1.2,0.8" opacity="0.8"/>
<polygon points="657.80,144.95 658.36,146.23 659.75,146.37 658.70,147.29 659.00,148.66 657.80,147.95 656.60,148.66 656.90,147.29 655.85,146.37 657.24,146.23" fill="#111"/>
<polygon points="661.30,144.95 661.86,146.23 663.25,146.37 662.20,147.29 662.50,148.66 661.30,147.95 660.10,148.66 660.40,147.29 659.35,146.37 660.74,146.23" fill="#111"/>
<polygon points="664.80,144.95 665.36,146.23 666.75,146.37 665.70,147.29 666.00,148.66 664.80,147.95 663.60,148.66 663.90,147.29 662.85,146.37 664.24,146.23" fill="#111"/>
<path d="M683.50,149.00 L689.00,149.00 C689.18,149.42 689.82,150.62 690.10,151.50 C690.38,152.38 690.80,153.38 690.70,154.30 C690.60,155.22 689.93,156.30 689.50,157.00 C689.07,157.70 688.47,158.00 688.10,158.50 C687.73,159.00 687.37,159.15 687.30,160.00 C687.23,160.85 687.63,163.00 687.70,163.60 L679.30,163.60 C679.37,163.00 679.77,160.85 679.70,160.00 C679.63,159.15 679.27,159.00 678.90,158.50 C678.53,158.00 677.93,157.70 677.50,157.00 C677.07,156.30 676.40,155.22 676.30,154.30 C676.20,153.38 676.62,152.38 676.90,151.50 C677.18,150.62 677.82,149.42 678.00,149.00 Z" fill="#bebebe" stroke="#bebebe" stroke-width="0.6"/>
<line x1="677.30" y1="154.3" x2="689.70" y2="154.3" stroke="#333" stroke-width="0.6" stroke-dasharray="1.2,0.8" opacity="0.8"/>
<polygon points="680.00,144.95 680.56,146.23 681.95,146.37 680.90,147.29 681.20,148.66 680.00,147.95 678.80,148.66 679.10,147.29 678.05,146.37 679.44,146.23" fill="#111"/>
<polygon points="683.50,144.95 684.06,146.23 685.45,146.37 684.40,147.29 684.70,148.66 683.50,147.95 682.30,148.66 682.60,147.29 681.55,146.37 682.94,146.23" fill="#111"/>
<polygon points="687.00,144.95 687.56,146.23 688.95,146.37 687.90,147.29 688.20,148.66 687.00,147.95 685.80,148.66 686.10,147.29 685.05,146.37 686.44,146.23" fill="#111"/>
<path d="M705.30,161.30 L712.10,161.30 C712.15,161.58 712.47,162.42 712.40,163.00 C712.33,163.58 711.98,164.27 711.70,164.80 C711.42,165.33 710.70,165.70 710.70,166.20 C710.70,166.70 711.42,167.23 711.70,167.80 C711.98,168.37 712.33,168.98 712.40,169.60 C712.47,170.22 712.15,171.18 712.10,171.50 L698.50,171.50 C698.45,171.18 698.13,170.22 698.20,169.60 C698.27,168.98 698.62,168.37 698.90,167.80 C699.18,167.23 699.90,166.70 699.90,166.20 C699.90,165.70 699.18,165.33 698.90,164.80 C698.62,164.27 698.27,163.58 698.20,163.00 C698.13,162.42 698.45,161.58 698.50,161.30 Z" fill="#c8a91c" stroke="#c8a91c" stroke-width="0.6"/>
<line x1="699.28" y1="163.2" x2="711.32" y2="163.2" stroke="#333" stroke-width="0.6" stroke-dasharray="1.2,0.8" opacity="0.8"/>
<line x1="700.84" y1="166.3" x2="709.76" y2="166.3" stroke="#333" stroke-width="0.6" stroke-dasharray="1.2,0.8" opacity="0.8"/>
<line x1="699.20" y1="169.6" x2="711.40" y2="169.6" stroke="#333" stroke-width="0.6" stroke-dasharray="1.2,0.8" opacity="0.8"/>
<polygon points="700.05,154.55 700.61,155.83 702.00,155.97 700.95,156.89 701.25,158.26 700.05,157.55 698.85,158.26 699.15,156.89 698.10,155.97 699.49,155.83" fill="#111"/>
<polygon points="703.55,154.55 704.11,155.83 705.50,155.97 704.45,156.89 704.75,158.26 703.55,157.55 702.35,158.26 702.65,156.89 701.60,155.97 702.99,155.83" fill="#111"/>
<polygon points="707.05,154.55 707.61,155.83 709.00,155.97 707.95,156.89 708.25,158.26 707.05,157.55 705.85,158.26 706.15,156.89 705.10,155.97 706.49,155.83" fill="#111"/>
<polygon points="710.55,154.55 711.11,155.83 712.50,155.97 711.45,156.89 711.75,158.26 710.55,157.55 709.35,158.26 709.65,156.89 708.60,155.97 709.99,155.83" fill="#111"/>
<path d="M727.30,158.30 L732.80,158.30 C733.05,158.50 734.00,159.05 734.30,159.50 C734.60,159.95 734.90,160.42 734.60,161.00 C734.30,161.58 733.25,162.33 732.50,163.00 C731.75,163.67 730.63,164.33 730.10,165.00 C729.57,165.67 729.23,166.25 729.30,167.00 C729.37,167.75 730.20,168.75 730.50,169.50 C730.80,170.25 731.00,171.17 731.10,171.50 L723.50,171.50 C723.60,171.17 723.80,170.25 724.10,169.50 C724.40,168.75 725.23,167.75 725.30,167.00 C725.37,166.25 725.03,165.67 724.50,165.00 C723.97,164.33 722.85,163.67 722.10,163.00 C721.35,162.33 720.30,161.58 720.00,161.00 C719.70,160.42 720.00,159.95 720.30,159.50 C720.60,159.05 721.55,158.50 721.80,158.30 Z" fill="#1fc46e" stroke="#1fc46e" stroke-width="0.6"/>
<line x1="721.20" y1="160" x2="733.40" y2="160" stroke="#333" stroke-width="0.6" stroke-dasharray="1.2,0.8" opacity="0.8"/>
<line x1="723.10" y1="163" x2="731.50" y2="163" stroke="#333" stroke-width="0.6" stroke-dasharray="1.2,0.8" opacity="0.8"/>
<polygon points="722.05,152.45 722.61,153.73 724.00,153.87 722.95,154.79 723.25,156.16 722.05,155.45 720.85,156.16 721.15,154.79 720.10,153.87 721.49,153.73" fill="#111"/>
<polygon points="725.55,152.45 726.11,153.73 727.50,153.87 726.45,154.79 726.75,156.16 725.55,155.45 724.35,156.16 724.65,154.79 723.60,153.87 724.99,153.73" fill="#111"/>
<polygon points="729.05,152.45 729.61,153.73 731.00,153.87 729.95,154.79 730.25,156.16 729.05,155.45 727.85,156.16 728.15,154.79 727.10,153.87 728.49,153.73" fill="#111"/>
<polygon points="732.55,152.45 733.11,153.73 734.50,153.87 733.45,154.79 733.75,156.16 732.55,155.45 731.35,156.16 731.65,154.79 730.60,153.87 731.99,153.73" fill="#111"/>
<path d="M749.30,173.80 L753.30,173.80 C753.37,174.08 753.37,174.97 753.70,175.50 C754.03,176.03 754.82,176.42 755.30,177.00 C755.78,177.58 756.60,178.33 756.60,179.00 C756.60,179.67 755.75,180.50 755.30,181.00 C754.85,181.50 754.18,181.63 753.90,182.00 C753.62,182.37 753.65,183.00 753.60,183.20 L745.00,183.20 C744.95,183.00 744.98,182.37 744.70,182.00 C744.42,181.63 743.75,181.50 743.30,181.00 C742.85,180.50 742.00,179.67 742.00,179.00 C742.00,178.33 742.82,177.58 743.30,177.00 C743.78,176.42 744.57,176.03 744.90,175.50 C745.23,174.97 745.23,174.08 745.30,173.80 Z" fill="#22c5ee" stroke="#22c5ee" stroke-width="0.6"/>
<line x1="745.95" y1="175.3" x2="752.65" y2="175.3" stroke="#333" stroke-width="0.6" stroke-dasharray="1.2,0.8" opacity="0.8"/>
<line x1="743.00" y1="179" x2="755.60" y2="179" stroke="#333" stroke-width="0.6" stroke-dasharray="1.2,0.8" opacity="0.8"/>
<line x1="745.42" y1="181.8" x2="753.18" y2="181.8" stroke="#333" stroke-width="0.6" stroke-dasharray="1.2,0.8" opacity="0.8"/>
<polygon points="744.05,166.15 744.61,167.43 746.00,167.57 744.95,168.49 745.25,169.86 744.05,169.15 742.85,169.86 743.15,168.49 742.10,167.57 743.49,167.43" fill="#111"/>
<polygon points="747.55,166.15 748.11,167.43 749.50,167.57 748.45,168.49 748.75,169.86 747.55,169.15 746.35,169.86 746.65,168.49 745.60,167.57 746.99,167.43" fill="#111"/>
<polygon points="751.05,166.15 751.61,167.43 753.00,167.57 751.95,168.49 752.25,169.86 751.05,169.15 749.85,169.86 750.15,168.49 749.10,167.57 750.49,167.43" fill="#111"/>
<polygon points="754.55,166.15 755.11,167.43 756.50,167.57 755.45,168.49 755.75,169.86 754.55,169.15 753.35,169.86 753.65,168.49 752.60,167.57 753.99,167.43" fill="#111"/>
<text x="426.80" y="228.87" font-size="15.2" fill="#000" text-anchor="middle" font-weight="bold" >C</text>
<path d="M486.5,232 H491.5 V395 M486.5,286.4 H491.5 M486.5,340.7 H491.5" fill="none" stroke="#000" stroke-width="2"/>
<line x1="486.4" y1="395" x2="769" y2="395" stroke="#000" stroke-width="2" />
<text x="485.30" y="235.46" font-size="9.6" fill="#000" text-anchor="end" font-weight="bold" >30</text>
<text x="485.30" y="289.86" font-size="9.6" fill="#000" text-anchor="end" font-weight="bold" >20</text>
<text x="485.30" y="344.16" font-size="9.6" fill="#000" text-anchor="end" font-weight="bold" >10</text>
<text x="485.30" y="398.46" font-size="9.6" fill="#000" text-anchor="end" font-weight="bold" >0</text>
<line x1="518.8" y1="395" x2="518.8" y2="399.5" stroke="#000" stroke-width="2" />
<text x="518.80" y="410.40" font-size="10" fill="#000" text-anchor="middle" font-weight="bold" >0</text>
<line x1="574.2" y1="395" x2="574.2" y2="399.5" stroke="#000" stroke-width="2" />
<text x="574.20" y="410.40" font-size="10" fill="#000" text-anchor="middle" font-weight="bold" >3</text>
<line x1="629.9" y1="395" x2="629.9" y2="399.5" stroke="#000" stroke-width="2" />
<text x="629.90" y="410.40" font-size="10" fill="#000" text-anchor="middle" font-weight="bold" >7</text>
<line x1="684.7" y1="395" x2="684.7" y2="399.5" stroke="#000" stroke-width="2" />
<text x="684.70" y="410.40" font-size="10" fill="#000" text-anchor="middle" font-weight="bold" >10</text>
<line x1="740.4" y1="395" x2="740.4" y2="399.5" stroke="#000" stroke-width="2" />
<text x="740.40" y="410.40" font-size="10" fill="#000" text-anchor="middle" font-weight="bold" >14</text>
<text x="762.80" y="410.18" font-size="8" fill="#000" text-anchor="middle" font-weight="bold" textLength="19.9" lengthAdjust="spacingAndGlyphs" >Days</text>
<text transform="translate(464.00,312.50) rotate(-90)" x="0" y="3.42" font-size="9.5" fill="#000" text-anchor="middle" font-weight="bold" textLength="70.5" lengthAdjust="spacingAndGlyphs" >Body weight (g)</text>
<polyline points="518.80,296.11 574.20,286.88 629.90,289.59 684.70,283.07 740.40,278.73" fill="none" stroke="#1fb873" stroke-width="1.3"/>
<polyline points="518.80,291.77 574.20,289.05 629.90,283.07 684.70,289.05 740.40,287.96" fill="none" stroke="#8fa8d3" stroke-width="1.3"/>
<polyline points="518.80,290.14 574.20,289.59 629.90,286.33 684.70,286.33 740.40,281.99" fill="none" stroke="#d68ef2" stroke-width="1.3"/>
<polyline points="518.80,292.85 574.20,290.68 629.90,289.05 684.70,287.42 740.40,284.16" fill="none" stroke="#98f098" stroke-width="1.3"/>
<polyline points="518.80,288.51 574.20,292.31 629.90,290.14 684.70,284.70 740.40,281.44" fill="none" stroke="#f07b80" stroke-width="1.3"/>
<polyline points="518.80,287.42 574.20,291.77 629.90,289.59 684.70,289.59 740.40,284.70" fill="none" stroke="#2b1a5e" stroke-width="1.3"/>
<polyline points="518.80,286.88 574.20,291.77 629.90,292.31 684.70,290.68 740.40,285.79" fill="none" stroke="#1f4fe6" stroke-width="1.3"/>
<polyline points="518.80,293.94 574.20,290.68 629.90,289.05 684.70,290.14 740.40,286.33" fill="none" stroke="#186c74" stroke-width="1.3"/>
<polyline points="518.80,290.68 574.20,294.48 629.90,289.05 684.70,285.79 740.40,280.90" fill="none" stroke="#f0602a" stroke-width="1.3"/>
<polyline points="518.80,288.51 574.20,291.22 629.90,287.96 684.70,282.53 740.40,279.81" fill="none" stroke="#ee1c1c" stroke-width="1.3"/>
<polyline points="518.80,289.59 574.20,288.51 629.90,284.70 684.70,287.96 740.40,283.07" fill="none" stroke="#a58fe0" stroke-width="1.3"/>
<polyline points="518.80,283.62 574.20,289.59 629.90,290.68 684.70,289.05 740.40,287.42" fill="none" stroke="#2cc2f2" stroke-width="1.3"/>
<circle cx="518.80" cy="296.11" r="2.2" fill="#1fb873" stroke="#1fb873" stroke-width="1"/>
<circle cx="574.20" cy="286.88" r="2.2" fill="#1fb873" stroke="#1fb873" stroke-width="1"/>
<circle cx="629.90" cy="289.59" r="2.2" fill="#1fb873" stroke="#1fb873" stroke-width="1"/>
<circle cx="684.70" cy="283.07" r="2.2" fill="#1fb873" stroke="#1fb873" stroke-width="1"/>
<circle cx="740.40" cy="278.73" r="2.2" fill="#1fb873" stroke="#1fb873" stroke-width="1"/>
<circle cx="518.80" cy="291.77" r="2.2" fill="#8fa8d3" stroke="#8fa8d3" stroke-width="1"/>
<circle cx="574.20" cy="289.05" r="2.2" fill="#8fa8d3" stroke="#8fa8d3" stroke-width="1"/>
<circle cx="629.90" cy="283.07" r="2.2" fill="#8fa8d3" stroke="#8fa8d3" stroke-width="1"/>
<circle cx="684.70" cy="289.05" r="2.2" fill="#8fa8d3" stroke="#8fa8d3" stroke-width="1"/>
<circle cx="740.40" cy="287.96" r="2.2" fill="#8fa8d3" stroke="#8fa8d3" stroke-width="1"/>
<rect x="516.60" y="287.94" width="4.4" height="4.4" fill="#d68ef2" stroke="#d68ef2" stroke-width="1"/>
<rect x="572.00" y="287.39" width="4.4" height="4.4" fill="#d68ef2" stroke="#d68ef2" stroke-width="1"/>
<rect x="627.70" y="284.13" width="4.4" height="4.4" fill="#d68ef2" stroke="#d68ef2" stroke-width="1"/>
<rect x="682.50" y="284.13" width="4.4" height="4.4" fill="#d68ef2" stroke="#d68ef2" stroke-width="1"/>
<rect x="738.20" y="279.79" width="4.4" height="4.4" fill="#d68ef2" stroke="#d68ef2" stroke-width="1"/>
<path d="M518.80,290.21 L521.22,294.61 L516.38,294.61 Z" fill="#98f098" stroke="#98f098" stroke-width="0.8"/>
<path d="M574.20,288.04 L576.62,292.44 L571.78,292.44 Z" fill="#98f098" stroke="#98f098" stroke-width="0.8"/>
<path d="M629.90,286.41 L632.32,290.81 L627.48,290.81 Z" fill="#98f098" stroke="#98f098" stroke-width="0.8"/>
<path d="M684.70,284.78 L687.12,289.18 L682.28,289.18 Z" fill="#98f098" stroke="#98f098" stroke-width="0.8"/>
<path d="M740.40,281.52 L742.82,285.92 L737.98,285.92 Z" fill="#98f098" stroke="#98f098" stroke-width="0.8"/>
<path d="M518.80,285.87 L521.00,288.51 L518.80,291.15 L516.60,288.51 Z" fill="#f07b80" stroke="#f07b80" stroke-width="0.8"/>
<path d="M574.20,289.67 L576.40,292.31 L574.20,294.95 L572.00,292.31 Z" fill="#f07b80" stroke="#f07b80" stroke-width="0.8"/>
<path d="M629.90,287.50 L632.10,290.14 L629.90,292.78 L627.70,290.14 Z" fill="#f07b80" stroke="#f07b80" stroke-width="0.8"/>
<path d="M684.70,282.06 L686.90,284.70 L684.70,287.34 L682.50,284.70 Z" fill="#f07b80" stroke="#f07b80" stroke-width="0.8"/>
<path d="M740.40,278.80 L742.60,281.44 L740.40,284.08 L738.20,281.44 Z" fill="#f07b80" stroke="#f07b80" stroke-width="0.8"/>
<circle cx="518.80" cy="287.42" r="2.2" fill="#2b1a5e" stroke="#2b1a5e" stroke-width="1"/>
<circle cx="574.20" cy="291.77" r="2.2" fill="#2b1a5e" stroke="#2b1a5e" stroke-width="1"/>
<circle cx="629.90" cy="289.59" r="2.2" fill="#2b1a5e" stroke="#2b1a5e" stroke-width="1"/>
<circle cx="684.70" cy="289.59" r="2.2" fill="#2b1a5e" stroke="#2b1a5e" stroke-width="1"/>
<circle cx="740.40" cy="284.70" r="2.2" fill="#2b1a5e" stroke="#2b1a5e" stroke-width="1"/>
<rect x="516.60" y="284.68" width="4.4" height="4.4" fill="#1f4fe6" stroke="#1f4fe6" stroke-width="1"/>
<rect x="572.00" y="289.57" width="4.4" height="4.4" fill="#1f4fe6" stroke="#1f4fe6" stroke-width="1"/>
<rect x="627.70" y="290.11" width="4.4" height="4.4" fill="#1f4fe6" stroke="#1f4fe6" stroke-width="1"/>
<rect x="682.50" y="288.48" width="4.4" height="4.4" fill="#1f4fe6" stroke="#1f4fe6" stroke-width="1"/>
<rect x="738.20" y="283.59" width="4.4" height="4.4" fill="#1f4fe6" stroke="#1f4fe6" stroke-width="1"/>
<path d="M518.80,291.30 L521.22,295.70 L516.38,295.70 Z" fill="#186c74" stroke="#186c74" stroke-width="0.8"/>
<path d="M574.20,288.04 L576.62,292.44 L571.78,292.44 Z" fill="#186c74" stroke="#186c74" stroke-width="0.8"/>
<path d="M629.90,286.41 L632.32,290.81 L627.48,290.81 Z" fill="#186c74" stroke="#186c74" stroke-width="0.8"/>
<path d="M684.70,287.50 L687.12,291.90 L682.28,291.90 Z" fill="#186c74" stroke="#186c74" stroke-width="0.8"/>
<path d="M740.40,283.69 L742.82,288.09 L737.98,288.09 Z" fill="#186c74" stroke="#186c74" stroke-width="0.8"/>
<circle cx="518.80" cy="290.68" r="2.2" fill="#f0602a" stroke="#f0602a" stroke-width="1"/>
<circle cx="574.20" cy="294.48" r="2.2" fill="#f0602a" stroke="#f0602a" stroke-width="1"/>
<circle cx="629.90" cy="289.05" r="2.2" fill="#f0602a" stroke="#f0602a" stroke-width="1"/>
<circle cx="684.70" cy="285.79" r="2.2" fill="#f0602a" stroke="#f0602a" stroke-width="1"/>
<circle cx="740.40" cy="280.90" r="2.2" fill="#f0602a" stroke="#f0602a" stroke-width="1"/>
<rect x="516.60" y="286.31" width="4.4" height="4.4" fill="#ee1c1c" stroke="#ee1c1c" stroke-width="1"/>
<rect x="572.00" y="289.02" width="4.4" height="4.4" fill="#ee1c1c" stroke="#ee1c1c" stroke-width="1"/>
<rect x="627.70" y="285.76" width="4.4" height="4.4" fill="#ee1c1c" stroke="#ee1c1c" stroke-width="1"/>
<rect x="682.50" y="280.33" width="4.4" height="4.4" fill="#ee1c1c" stroke="#ee1c1c" stroke-width="1"/>
<rect x="738.20" y="277.61" width="4.4" height="4.4" fill="#ee1c1c" stroke="#ee1c1c" stroke-width="1"/>
<path d="M518.80,286.95 L521.22,291.35 L516.38,291.35 Z" fill="#a58fe0" stroke="#a58fe0" stroke-width="0.8"/>
<path d="M574.20,285.87 L576.62,290.27 L571.78,290.27 Z" fill="#a58fe0" stroke="#a58fe0" stroke-width="0.8"/>
<path d="M629.90,282.06 L632.32,286.46 L627.48,286.46 Z" fill="#a58fe0" stroke="#a58fe0" stroke-width="0.8"/>
<path d="M684.70,285.32 L687.12,289.72 L682.28,289.72 Z" fill="#a58fe0" stroke="#a58fe0" stroke-width="0.8"/>
<path d="M740.40,280.43 L742.82,284.83 L737.98,284.83 Z" fill="#a58fe0" stroke="#a58fe0" stroke-width="0.8"/>
<circle cx="518.80" cy="283.62" r="2.2" fill="#2cc2f2" stroke="#2cc2f2" stroke-width="1"/>
<circle cx="574.20" cy="289.59" r="2.2" fill="#2cc2f2" stroke="#2cc2f2" stroke-width="1"/>
<circle cx="629.90" cy="290.68" r="2.2" fill="#2cc2f2" stroke="#2cc2f2" stroke-width="1"/>
<circle cx="684.70" cy="289.05" r="2.2" fill="#2cc2f2" stroke="#2cc2f2" stroke-width="1"/>
<circle cx="740.40" cy="287.42" r="2.2" fill="#2cc2f2" stroke="#2cc2f2" stroke-width="1"/>
<line x1="502.2" y1="209.6" x2="516.2" y2="209.6" stroke="#1fb873" stroke-width="1.4" />
<circle cx="509.20" cy="209.60" r="2.4" fill="#1fb873" stroke="#1fb873" stroke-width="1"/>
<text x="524.50" y="212.98" font-size="9.4" fill="#111" text-anchor="start" font-weight="bold" textLength="16.2" lengthAdjust="spacingAndGlyphs" >PBS</text>
<line x1="502.2" y1="224.6" x2="516.2" y2="224.6" stroke="#8fa8d3" stroke-width="1.4" />
<circle cx="509.20" cy="224.60" r="2.4" fill="#8fa8d3" stroke="#8fa8d3" stroke-width="1"/>
<text x="524.50" y="227.98" font-size="9.4" fill="#111" text-anchor="start" font-weight="bold" textLength="65.4" lengthAdjust="spacingAndGlyphs" >Oxaliplatin (O)</text>
<line x1="502.2" y1="239.5" x2="516.2" y2="239.5" stroke="#d68ef2" stroke-width="1.4" />
<rect x="506.80" y="237.10" width="4.8" height="4.8" fill="#d68ef2" stroke="#d68ef2" stroke-width="1"/>
<text x="524.50" y="242.88" font-size="9.4" fill="#111" text-anchor="start" font-weight="bold" textLength="42" lengthAdjust="spacingAndGlyphs" >CCL19 (C)</text>
<line x1="502.2" y1="254.4" x2="516.2" y2="254.4" stroke="#98f098" stroke-width="1.4" />
<path d="M509.20,251.52 L511.84,256.32 L506.56,256.32 Z" fill="#98f098" stroke="#98f098" stroke-width="0.8"/>
<text x="524.50" y="257.78" font-size="9.4" fill="#111" text-anchor="start" font-weight="bold" textLength="58.5" lengthAdjust="spacingAndGlyphs" >anti-PDL1 (P)</text>
<line x1="502.2" y1="269.5" x2="516.2" y2="269.5" stroke="#f07b80" stroke-width="1.4" />
<path d="M509.20,266.62 L511.60,269.50 L509.20,272.38 L506.80,269.50 Z" fill="#f07b80" stroke="#f07b80" stroke-width="0.8"/>
<text x="524.50" y="272.88" font-size="9.4" fill="#111" text-anchor="start" font-weight="bold" textLength="33" lengthAdjust="spacingAndGlyphs" >ZIF8 (Z)</text>
<line x1="603.1" y1="209.6" x2="617.1" y2="209.6" stroke="#2b1a5e" stroke-width="1.4" />
<circle cx="610.10" cy="209.60" r="2.4" fill="#2b1a5e" stroke="#2b1a5e" stroke-width="1"/>
<text x="624.90" y="212.98" font-size="9.4" fill="#111" text-anchor="start" font-weight="bold" textLength="36" lengthAdjust="spacingAndGlyphs" >O@ZIF8</text>
<line x1="603.1" y1="227.4" x2="617.1" y2="227.4" stroke="#1f4fe6" stroke-width="1.4" />
<rect x="607.70" y="225.00" width="4.8" height="4.8" fill="#1f4fe6" stroke="#1f4fe6" stroke-width="1"/>
<text x="624.90" y="230.78" font-size="9.4" fill="#111" text-anchor="start" font-weight="bold" textLength="35.5" lengthAdjust="spacingAndGlyphs" >C@ZIF8</text>
<line x1="603.1" y1="245.2" x2="617.1" y2="245.2" stroke="#186c74" stroke-width="1.4" />
<path d="M610.10,242.32 L612.74,247.12 L607.46,247.12 Z" fill="#186c74" stroke="#186c74" stroke-width="0.8"/>
<text x="624.90" y="248.58" font-size="9.4" fill="#111" text-anchor="start" font-weight="bold" textLength="42" lengthAdjust="spacingAndGlyphs" >OC@ZIF8</text>
<line x1="603.1" y1="263.2" x2="617.1" y2="263.2" stroke="#f0602a" stroke-width="1.4" />
<circle cx="610.10" cy="263.20" r="2.4" fill="#f0602a" stroke="#f0602a" stroke-width="1"/>
<text x="624.90" y="266.58" font-size="9.4" fill="#111" text-anchor="start" font-weight="bold" textLength="17.5" lengthAdjust="spacingAndGlyphs" >ZPP</text>
<line x1="681.3" y1="209.6" x2="695.3" y2="209.6" stroke="#ee1c1c" stroke-width="1.4" />
<rect x="685.90" y="207.20" width="4.8" height="4.8" fill="#ee1c1c" stroke="#ee1c1c" stroke-width="1"/>
<text x="703.40" y="212.98" font-size="9.4" fill="#111" text-anchor="start" font-weight="bold" textLength="35" lengthAdjust="spacingAndGlyphs" >O@ZPP</text>
<line x1="681.3" y1="227.4" x2="695.3" y2="227.4" stroke="#a58fe0" stroke-width="1.4" />
<path d="M688.30,224.52 L690.94,229.32 L685.66,229.32 Z" fill="#a58fe0" stroke="#a58fe0" stroke-width="0.8"/>
<text x="703.40" y="230.78" font-size="9.4" fill="#111" text-anchor="start" font-weight="bold" textLength="33" lengthAdjust="spacingAndGlyphs" >C@ZPP</text>
<line x1="681.3" y1="245.2" x2="695.3" y2="245.2" stroke="#2cc2f2" stroke-width="1.4" />
<circle cx="688.30" cy="245.20" r="2.4" fill="#2cc2f2" stroke="#2cc2f2" stroke-width="1"/>
<text x="703.40" y="248.58" font-size="9.4" fill="#111" text-anchor="start" font-weight="bold" textLength="41" lengthAdjust="spacingAndGlyphs" >OC@ZPP</text>
<text x="427.80" y="437.87" font-size="15.2" fill="#000" text-anchor="middle" font-weight="bold" >D</text>
<line x1="492.6" y1="437.5" x2="492.6" y2="601" stroke="#000" stroke-width="2" />
<line x1="491.6" y1="599.9" x2="771.9" y2="599.9" stroke="#000" stroke-width="1.7" />
<line x1="486.8" y1="600.0" x2="492.6" y2="600.0" stroke="#000" stroke-width="1.8" />
<text x="486.00" y="603.71" font-size="10.3" fill="#000" text-anchor="end" font-weight="bold" >0</text>
<line x1="489.5" y1="586.5" x2="492.6" y2="586.5" stroke="#000" stroke-width="1.5" />
<line x1="486.8" y1="573.0" x2="492.6" y2="573.0" stroke="#000" stroke-width="1.8" />
<text x="486.00" y="576.71" font-size="10.3" fill="#000" text-anchor="end" font-weight="bold" >20</text>
<line x1="489.5" y1="559.5" x2="492.6" y2="559.5" stroke="#000" stroke-width="1.5" />
<line x1="486.8" y1="546.0" x2="492.6" y2="546.0" stroke="#000" stroke-width="1.8" />
<text x="486.00" y="549.71" font-size="10.3" fill="#000" text-anchor="end" font-weight="bold" >40</text>
<line x1="489.5" y1="532.5" x2="492.6" y2="532.5" stroke="#000" stroke-width="1.5" />
<line x1="486.8" y1="519.0" x2="492.6" y2="519.0" stroke="#000" stroke-width="1.8" />
<text x="486.00" y="522.71" font-size="10.3" fill="#000" text-anchor="end" font-weight="bold" >60</text>
<line x1="489.5" y1="505.5" x2="492.6" y2="505.5" stroke="#000" stroke-width="1.5" />
<line x1="486.8" y1="492.0" x2="492.6" y2="492.0" stroke="#000" stroke-width="1.8" />
<text x="486.00" y="495.71" font-size="10.3" fill="#000" text-anchor="end" font-weight="bold" >80</text>
<line x1="489.5" y1="478.5" x2="492.6" y2="478.5" stroke="#000" stroke-width="1.5" />
<line x1="486.8" y1="465.0" x2="492.6" y2="465.0" stroke="#000" stroke-width="1.8" />
<text x="486.00" y="468.71" font-size="10.3" fill="#000" text-anchor="end" font-weight="bold" >100</text>
<line x1="489.5" y1="451.5" x2="492.6" y2="451.5" stroke="#000" stroke-width="1.5" />
<line x1="486.8" y1="438.0" x2="492.6" y2="438.0" stroke="#000" stroke-width="1.8" />
<text x="486.00" y="441.71" font-size="10.3" fill="#000" text-anchor="end" font-weight="bold" >120</text>
<line x1="492.6" y1="600" x2="492.6" y2="605" stroke="#000" stroke-width="1.8" />
<text x="492.60" y="617.57" font-size="11.3" fill="#000" text-anchor="middle" font-weight="bold" >0</text>
<line x1="514.6666666666667" y1="600" x2="514.6666666666667" y2="603.5" stroke="#000" stroke-width="1.5" />
<line x1="536.7333333333333" y1="600" x2="536.7333333333333" y2="603.5" stroke="#000" stroke-width="1.5" />
<line x1="558.8000000000001" y1="600" x2="558.8000000000001" y2="605" stroke="#000" stroke-width="1.8" />
<text x="558.80" y="617.57" font-size="11.3" fill="#000" text-anchor="middle" font-weight="bold" >5</text>
<line x1="580.8666666666667" y1="600" x2="580.8666666666667" y2="603.5" stroke="#000" stroke-width="1.5" />
<line x1="602.9333333333334" y1="600" x2="602.9333333333334" y2="603.5" stroke="#000" stroke-width="1.5" />
<line x1="625.0" y1="600" x2="625.0" y2="605" stroke="#000" stroke-width="1.8" />
<text x="625.00" y="617.57" font-size="11.3" fill="#000" text-anchor="middle" font-weight="bold" >10</text>
<line x1="647.0666666666667" y1="600" x2="647.0666666666667" y2="603.5" stroke="#000" stroke-width="1.5" />
<line x1="669.1333333333333" y1="600" x2="669.1333333333333" y2="603.5" stroke="#000" stroke-width="1.5" />
<line x1="691.2" y1="600" x2="691.2" y2="605" stroke="#000" stroke-width="1.8" />
<text x="691.20" y="617.57" font-size="11.3" fill="#000" text-anchor="middle" font-weight="bold" >15</text>
<line x1="713.2666666666667" y1="600" x2="713.2666666666667" y2="603.5" stroke="#000" stroke-width="1.5" />
<line x1="735.3333333333334" y1="600" x2="735.3333333333334" y2="603.5" stroke="#000" stroke-width="1.5" />
<line x1="757.4000000000001" y1="600" x2="757.4000000000001" y2="605" stroke="#000" stroke-width="1.8" />
<text x="757.40" y="617.57" font-size="11.3" fill="#000" text-anchor="middle" font-weight="bold" >20</text>
<text x="776.60" y="615.69" font-size="7.2" fill="#000" text-anchor="middle" font-weight="bold" textLength="19.2" lengthAdjust="spacingAndGlyphs" >Days</text>
<text transform="translate(456.70,518.00) rotate(-90)" x="0" y="3.89" font-size="10.8" fill="#000" text-anchor="middle" font-weight="bold" textLength="108" lengthAdjust="spacingAndGlyphs" >Percent survival (%)</text>
<polyline points="492.60,465.00 757.40,465.00" fill="none" stroke="#22b8ee" stroke-width="1.3"/>
<polyline points="492.60,465.00 691.20,465.00 691.20,481.88 704.44,481.88 704.44,498.75 717.68,498.75 717.68,515.62 744.16,515.62 744.16,532.50 757.40,532.50" fill="none" stroke="#a8a8a8" stroke-width="1.3"/>
<polyline points="492.60,465.00 664.72,465.00 664.72,481.88 704.44,481.88 704.44,515.62 757.40,515.62 757.40,532.50" fill="none" stroke="#f7d33a" stroke-width="1.3"/>
<polyline points="492.60,465.00 691.20,465.00 691.20,481.88 730.92,481.88 730.92,498.75 757.40,498.75" fill="none" stroke="#bf9f22" stroke-width="1.3"/>
<polyline points="492.60,465.00 691.20,465.00 691.20,481.88 704.44,481.88 704.44,498.75 757.40,498.75" fill="none" stroke="#f0708a" stroke-width="1.3"/>
<polyline points="492.60,465.00 651.48,465.00 651.48,481.88 677.96,481.88 677.96,498.75 691.20,498.75" fill="none" stroke="#9cd04a" stroke-width="1.3"/>
<polyline points="492.60,465.00 625.00,465.00 625.00,481.88 638.24,481.88 638.24,515.62 664.72,515.62 664.72,532.50 677.96,532.50 677.96,549.38 730.92,549.38 730.92,566.25 757.40,566.25" fill="none" stroke="#e57cc8" stroke-width="1.3"/>
<polyline points="492.60,465.00 611.76,465.00 611.76,481.88 638.24,481.88 638.24,498.75 664.72,498.75 664.72,515.62 704.44,515.62 704.44,549.38 757.40,549.38 757.40,566.25" fill="none" stroke="#f78a60" stroke-width="1.3"/>
<polyline points="492.60,465.00 730.92,465.00 730.92,481.88 757.40,481.88" fill="none" stroke="#22b456" stroke-width="1.3"/>
<polyline points="492.60,465.00 691.20,465.00 691.20,481.88 717.68,481.88 717.68,498.75 730.92,498.75 730.92,515.62" fill="none" stroke="#e8c69a" stroke-width="1.3"/>
<polyline points="492.60,465.00 677.96,465.00 677.96,481.88 691.20,481.88 691.20,498.75 704.44,498.75 704.44,515.62 730.92,515.62 730.92,532.50 757.40,532.50" fill="none" stroke="#8e9ed8" stroke-width="1.3"/>
<polyline points="492.60,465.00 611.76,465.00 611.76,503.61 625.00,503.61 625.00,522.91 638.24,522.91 638.24,561.39 651.48,561.39 651.48,580.70 677.96,580.70 677.96,600.00" fill="none" stroke="#5ec7a2" stroke-width="1.3"/>
<circle cx="757.40" cy="465.00" r="2.2" fill="#22b8ee" stroke="#22b8ee" stroke-width="1"/>
<path d="M744.16,529.86 L746.58,534.26 L741.74,534.26 Z" fill="#fff" stroke="#a8a8a8" stroke-width="0.8"/>
<path d="M757.40,529.86 L759.82,534.26 L754.98,534.26 Z" fill="#fff" stroke="#a8a8a8" stroke-width="0.8"/>
<circle cx="664.72" cy="481.88" r="2.2" fill="#fff" stroke="#f7d33a" stroke-width="1"/>
<circle cx="704.44" cy="515.62" r="2.2" fill="#fff" stroke="#f7d33a" stroke-width="1"/>
<circle cx="757.40" cy="532.50" r="2.2" fill="#fff" stroke="#f7d33a" stroke-width="1"/>
<path d="M691.20,479.24 L693.40,481.88 L691.20,484.51 L689.00,481.88 Z" fill="#bf9f22" stroke="#bf9f22" stroke-width="0.8"/>
<path d="M730.92,496.11 L733.12,498.75 L730.92,501.39 L728.72,498.75 Z" fill="#bf9f22" stroke="#bf9f22" stroke-width="0.8"/>
<path d="M704.44,501.39 L706.86,496.99 L702.02,496.99 Z" fill="#fff" stroke="#f0708a" stroke-width="0.8"/>
<path d="M744.16,501.39 L746.58,496.99 L741.74,496.99 Z" fill="#fff" stroke="#f0708a" stroke-width="0.8"/>
<path d="M757.40,501.39 L759.82,496.99 L754.98,496.99 Z" fill="#fff" stroke="#f0708a" stroke-width="0.8"/>
<path d="M651.48,479.24 L653.68,481.88 L651.48,484.51 L649.28,481.88 Z" fill="#9cd04a" stroke="#9cd04a" stroke-width="0.8"/>
<path d="M677.96,496.11 L680.16,498.75 L677.96,501.39 L675.76,498.75 Z" fill="#9cd04a" stroke="#9cd04a" stroke-width="0.8"/>
<path d="M625.00,484.51 L627.42,480.12 L622.58,480.12 Z" fill="#e57cc8" stroke="#e57cc8" stroke-width="0.8"/>
<path d="M638.24,518.26 L640.66,513.87 L635.82,513.87 Z" fill="#e57cc8" stroke="#e57cc8" stroke-width="0.8"/>
<path d="M664.72,535.14 L667.14,530.74 L662.30,530.74 Z" fill="#e57cc8" stroke="#e57cc8" stroke-width="0.8"/>
<path d="M677.96,552.01 L680.38,547.62 L675.54,547.62 Z" fill="#e57cc8" stroke="#e57cc8" stroke-width="0.8"/>
<path d="M730.92,568.89 L733.34,564.49 L728.50,564.49 Z" fill="#e57cc8" stroke="#e57cc8" stroke-width="0.8"/>
<rect x="609.56" y="479.68" width="4.4" height="4.4" fill="#f78a60" stroke="#f78a60" stroke-width="1"/>
<rect x="636.04" y="496.55" width="4.4" height="4.4" fill="#f78a60" stroke="#f78a60" stroke-width="1"/>
<rect x="662.52" y="513.42" width="4.4" height="4.4" fill="#f78a60" stroke="#f78a60" stroke-width="1"/>
<rect x="702.24" y="547.17" width="4.4" height="4.4" fill="#f78a60" stroke="#f78a60" stroke-width="1"/>
<rect x="755.20" y="564.05" width="4.4" height="4.4" fill="#f78a60" stroke="#f78a60" stroke-width="1"/>
<circle cx="730.92" cy="481.88" r="2.2" fill="#fff" stroke="#22b456" stroke-width="1"/>
<circle cx="757.40" cy="481.88" r="2.2" fill="#fff" stroke="#22b456" stroke-width="1"/>
<rect x="689.00" y="479.68" width="4.4" height="4.4" fill="#fff" stroke="#e8c69a" stroke-width="1"/>
<rect x="715.48" y="496.55" width="4.4" height="4.4" fill="#fff" stroke="#e8c69a" stroke-width="1"/>
<rect x="728.72" y="513.42" width="4.4" height="4.4" fill="#fff" stroke="#e8c69a" stroke-width="1"/>
<path d="M677.96,479.24 L680.38,483.63 L675.54,483.63 Z" fill="#8e9ed8" stroke="#8e9ed8" stroke-width="0.8"/>
<path d="M691.20,496.11 L693.62,500.51 L688.78,500.51 Z" fill="#8e9ed8" stroke="#8e9ed8" stroke-width="0.8"/>
<path d="M704.44,512.99 L706.86,517.38 L702.02,517.38 Z" fill="#8e9ed8" stroke="#8e9ed8" stroke-width="0.8"/>
<path d="M730.92,529.86 L733.34,534.26 L728.50,534.26 Z" fill="#8e9ed8" stroke="#8e9ed8" stroke-width="0.8"/>
<path d="M757.40,529.86 L759.82,534.26 L754.98,534.26 Z" fill="#8e9ed8" stroke="#8e9ed8" stroke-width="0.8"/>
<circle cx="611.76" cy="503.61" r="2.2" fill="#5ec7a2" stroke="#5ec7a2" stroke-width="1"/>
<circle cx="625.00" cy="522.91" r="2.2" fill="#5ec7a2" stroke="#5ec7a2" stroke-width="1"/>
<circle cx="638.24" cy="561.39" r="2.2" fill="#5ec7a2" stroke="#5ec7a2" stroke-width="1"/>
<circle cx="651.48" cy="580.70" r="2.2" fill="#5ec7a2" stroke="#5ec7a2" stroke-width="1"/>
<circle cx="677.96" cy="600.00" r="2.2" fill="#5ec7a2" stroke="#5ec7a2" stroke-width="1"/>
<line x1="495.0" y1="439.3" x2="506.6" y2="439.3" stroke="#5ec7a2" stroke-width="1.2" />
<circle cx="500.80" cy="439.30" r="1.8" fill="#5ec7a2" stroke="#5ec7a2" stroke-width="1"/>
<text x="512.60" y="441.82" font-size="7" fill="#111" text-anchor="start" font-weight="bold" textLength="14" lengthAdjust="spacingAndGlyphs" >PBS</text>
<line x1="495.0" y1="448.6" x2="506.6" y2="448.6" stroke="#f7d33a" stroke-width="1.2" />
<circle cx="500.80" cy="448.60" r="1.8" fill="#fff" stroke="#f7d33a" stroke-width="1"/>
<text x="512.60" y="451.12" font-size="7" fill="#111" text-anchor="start" font-weight="bold" textLength="27" lengthAdjust="spacingAndGlyphs" >O@ZIF8</text>
<line x1="495.0" y1="457.5" x2="506.6" y2="457.5" stroke="#bf9f22" stroke-width="1.2" />
<path d="M500.80,455.34 L502.60,457.50 L500.80,459.66 L499.00,457.50 Z" fill="#bf9f22" stroke="#bf9f22" stroke-width="0.8"/>
<text x="512.60" y="460.02" font-size="7" fill="#111" text-anchor="start" font-weight="bold" textLength="25" lengthAdjust="spacingAndGlyphs" >O@ZPP</text>
<line x1="550.5" y1="439.3" x2="562.0999999999999" y2="439.3" stroke="#f78a60" stroke-width="1.2" />
<rect x="554.50" y="437.50" width="3.6" height="3.6" fill="#f78a60" stroke="#f78a60" stroke-width="1"/>
<text x="568.50" y="441.82" font-size="7" fill="#111" text-anchor="start" font-weight="bold" textLength="46.5" lengthAdjust="spacingAndGlyphs" >Oxaliplatin (O)</text>
<line x1="550.5" y1="448.6" x2="562.0999999999999" y2="448.6" stroke="#e8c69a" stroke-width="1.2" />
<rect x="554.50" y="446.80" width="3.6" height="3.6" fill="#fff" stroke="#e8c69a" stroke-width="1"/>
<text x="570.50" y="451.12" font-size="7" fill="#111" text-anchor="start" font-weight="bold" textLength="26" lengthAdjust="spacingAndGlyphs" >C@ZIF8</text>
<line x1="550.5" y1="457.5" x2="562.0999999999999" y2="457.5" stroke="#22b456" stroke-width="1.2" />
<circle cx="556.30" cy="457.50" r="1.8" fill="#fff" stroke="#22b456" stroke-width="1"/>
<text x="570.50" y="460.02" font-size="7" fill="#111" text-anchor="start" font-weight="bold" textLength="24" lengthAdjust="spacingAndGlyphs" >C@ZPP</text>
<line x1="617.5" y1="439.3" x2="629.0999999999999" y2="439.3" stroke="#8e9ed8" stroke-width="1.2" />
<path d="M623.30,437.14 L625.28,440.74 L621.32,440.74 Z" fill="#8e9ed8" stroke="#8e9ed8" stroke-width="0.8"/>
<text x="635.80" y="441.82" font-size="7" fill="#111" text-anchor="start" font-weight="bold" textLength="28.5" lengthAdjust="spacingAndGlyphs" >CCL19 (C)</text>
<line x1="617.5" y1="448.6" x2="629.0999999999999" y2="448.6" stroke="#a8a8a8" stroke-width="1.2" />
<path d="M623.30,446.44 L625.28,450.04 L621.32,450.04 Z" fill="#fff" stroke="#a8a8a8" stroke-width="0.8"/>
<text x="635.80" y="451.12" font-size="7" fill="#111" text-anchor="start" font-weight="bold" textLength="27.5" lengthAdjust="spacingAndGlyphs" >OC@ZIF8</text>
<line x1="617.5" y1="457.5" x2="629.0999999999999" y2="457.5" stroke="#22b8ee" stroke-width="1.2" />
<circle cx="623.30" cy="457.50" r="1.8" fill="#22b8ee" stroke="#22b8ee" stroke-width="1"/>
<text x="634.60" y="460.02" font-size="7" fill="#111" text-anchor="start" font-weight="bold" textLength="27" lengthAdjust="spacingAndGlyphs" >OC@ZPP</text>
<line x1="668.7" y1="439.3" x2="680.3" y2="439.3" stroke="#e57cc8" stroke-width="1.2" />
<path d="M674.50,441.46 L676.48,437.86 L672.52,437.86 Z" fill="#e57cc8" stroke="#e57cc8" stroke-width="0.8"/>
<text x="685.90" y="441.82" font-size="7" fill="#111" text-anchor="start" font-weight="bold" textLength="40" lengthAdjust="spacingAndGlyphs" >anti-PDL1 (P)</text>
<line x1="668.7" y1="448.6" x2="680.3" y2="448.6" stroke="#f0708a" stroke-width="1.2" />
<path d="M674.50,450.76 L676.48,447.16 L672.52,447.16 Z" fill="#fff" stroke="#f0708a" stroke-width="0.8"/>
<text x="685.90" y="451.12" font-size="7" fill="#111" text-anchor="start" font-weight="bold" textLength="11.5" lengthAdjust="spacingAndGlyphs" >ZPP</text>
<line x1="732.2" y1="439.3" x2="743.8" y2="439.3" stroke="#9cd04a" stroke-width="1.2" />
<path d="M738.00,437.14 L739.80,439.30 L738.00,441.46 L736.20,439.30 Z" fill="#9cd04a" stroke="#9cd04a" stroke-width="0.8"/>
<text x="750.20" y="441.82" font-size="7" fill="#111" text-anchor="start" font-weight="bold" textLength="22.5" lengthAdjust="spacingAndGlyphs" >ZIF8 (Z)</text>
</svg>
</body></html>
